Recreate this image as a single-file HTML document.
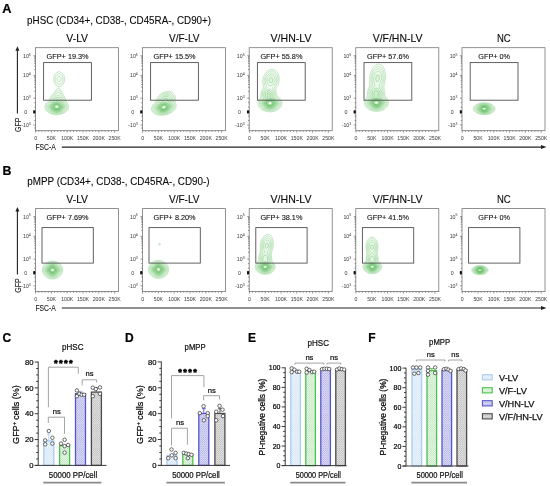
<!DOCTYPE html>
<html><head><meta charset="utf-8"><style>
html,body{margin:0;padding:0;background:#fff;}
svg{display:block;font-family:'Liberation Sans', Arial, sans-serif;}
</style></head><body>
<svg width="550" height="486" viewBox="0 0 550 486">
<rect width="550" height="486" fill="#fff"/>
<defs>
<pattern id="p0" patternUnits="userSpaceOnUse" width="2" height="2.2"><rect width="2" height="2.2" fill="#edf4fb"/><circle cx="0.5" cy="0.55" r="0.42" fill="#b9d6f0"/><circle cx="1.5" cy="1.65" r="0.42" fill="#b9d6f0"/></pattern>
<pattern id="p1" patternUnits="userSpaceOnUse" width="2" height="2.2"><rect width="2" height="2.2" fill="#e8f6e8"/><circle cx="0.5" cy="0.55" r="0.42" fill="#97d897"/><circle cx="1.5" cy="1.65" r="0.42" fill="#97d897"/></pattern>
<pattern id="p2" patternUnits="userSpaceOnUse" width="2" height="2.2"><rect width="2" height="2.2" fill="#dcdcf4"/><circle cx="0.5" cy="0.55" r="0.42" fill="#8c8cdc"/><circle cx="1.5" cy="1.65" r="0.42" fill="#8c8cdc"/></pattern>
<pattern id="p3" patternUnits="userSpaceOnUse" width="2" height="2.2"><rect width="2" height="2.2" fill="#e2e2e2"/><circle cx="0.5" cy="0.55" r="0.42" fill="#9c9c9c"/><circle cx="1.5" cy="1.65" r="0.42" fill="#9c9c9c"/></pattern>
</defs>
<path d="M58.0,72.0 58.4,71.8 58.9,71.8 59.4,71.8 59.9,71.9 60.2,72.0 60.6,72.1 60.9,72.2 61.4,72.5 61.7,72.6 61.9,72.8 62.1,73.0 62.4,73.3 62.6,73.6 62.9,73.9 63.1,74.2 63.3,74.5 63.4,74.7 63.7,75.1 63.8,75.5 63.9,75.7 64.1,76.2 64.2,76.5 64.3,77.0 64.4,77.5 64.4,77.7 64.5,78.2 64.5,78.7 64.5,79.2 64.5,79.7 64.5,80.2 64.4,80.7 64.4,81.0 64.3,81.5 64.2,81.8 64.0,82.2 63.9,82.5 63.7,83.0 63.6,83.2 63.4,83.6 63.2,84.0 63.0,84.2 62.8,84.5 62.6,84.7 62.4,85.0 62.1,85.2 61.8,85.5 61.5,85.7 61.1,85.9 60.9,86.1 60.6,86.2 60.2,86.5 59.9,86.6 59.6,86.7 59.1,86.8 58.6,86.8 58.2,86.7 57.9,86.6 57.6,86.4 57.3,86.2 56.9,86.0 56.6,85.7 56.4,85.5 56.1,85.3 55.9,85.0 55.6,84.8 55.4,84.5 55.2,84.2 55.0,84.0 54.9,83.7 54.6,83.3 54.5,83.0 54.4,82.7 54.2,82.2 54.1,82.0 53.9,81.5 53.9,81.2 53.8,80.7 53.7,80.2 53.7,79.7 53.7,79.2 53.7,78.7 53.7,78.2 53.8,77.7 53.8,77.2 53.9,76.9 54.0,76.5 54.1,76.1 54.3,75.7 54.4,75.4 54.6,75.0 54.8,74.7 54.9,74.5 55.1,74.1 55.4,73.7 55.6,73.5 55.9,73.2 56.1,73.0 56.4,72.7 56.6,72.6 56.9,72.4 57.3,72.2 57.6,72.0 58.0,72.0ZM58.4,88.2 58.6,88.2 58.9,88.2 59.3,88.5 59.6,88.7 59.9,89.0 60.1,89.2 60.3,89.5 60.5,89.7 60.7,90.0 60.9,90.4 61.1,90.7 61.2,91.0 61.4,91.3 61.6,91.7 61.7,92.0 61.9,92.4 62.0,92.7 62.1,93.0 62.4,93.4 62.6,93.7 62.7,94.0 62.9,94.2 63.2,94.5 63.4,94.9 63.6,95.2 63.8,95.5 64.0,95.7 64.2,96.0 64.4,96.3 64.6,96.7 64.7,97.0 64.9,97.3 65.1,97.7 65.2,98.0 65.4,98.5 65.5,98.7 65.6,99.2 65.7,99.5 65.8,100.0 65.9,100.2 66.1,100.7 66.2,101.0 66.4,101.5 66.5,101.7 66.7,102.0 66.9,102.5 67.0,102.7 67.2,103.0 67.4,103.3 67.6,103.7 67.7,104.0 67.9,104.3 68.1,104.7 68.2,105.0 68.3,105.4 68.4,105.8 68.5,106.2 68.5,106.7 68.5,107.2 68.5,107.7 68.4,108.1 68.3,108.5 68.2,108.9 68.0,109.2 67.9,109.4 67.7,109.9 67.4,110.2 67.3,110.5 67.0,110.7 66.8,111.0 66.6,111.2 66.3,111.4 66.0,111.7 65.7,111.9 65.4,112.2 65.2,112.4 64.9,112.5 64.6,112.7 64.2,113.0 63.9,113.1 63.6,113.2 63.2,113.4 62.9,113.5 62.5,113.7 62.1,113.8 61.7,114.0 61.4,114.1 60.9,114.2 60.6,114.2 60.1,114.4 59.6,114.4 59.4,114.5 58.9,114.6 58.4,114.6 57.9,114.6 57.4,114.7 56.9,114.7 56.4,114.7 55.9,114.7 55.4,114.6 54.9,114.6 54.4,114.5 53.9,114.5 53.7,114.4 53.2,114.3 52.6,114.2 52.4,114.2 51.9,114.0 51.6,113.9 51.2,113.8 50.9,113.7 50.4,113.5 50.2,113.4 49.7,113.2 49.4,113.0 49.1,112.9 48.8,112.7 48.4,112.5 48.1,112.3 47.9,112.1 47.6,111.9 47.4,111.7 47.1,111.5 46.8,111.2 46.6,111.0 46.4,110.7 46.1,110.4 45.9,110.1 45.7,109.7 45.5,109.5 45.4,109.2 45.2,108.7 45.1,108.5 45.0,108.0 44.9,107.5 44.9,107.0 44.9,106.4 45.0,106.0 45.1,105.5 45.2,105.2 45.4,104.8 45.6,104.4 45.7,104.2 45.9,103.9 46.1,103.5 46.4,103.2 46.6,103.0 46.8,102.7 47.0,102.5 47.3,102.2 47.5,102.0 47.8,101.7 48.0,101.5 48.3,101.2 48.5,101.0 48.7,100.7 48.9,100.4 49.1,100.1 49.4,99.7 49.5,99.5 49.6,99.2 49.9,98.7 50.0,98.5 50.1,98.0 50.3,97.7 50.4,97.5 50.7,97.0 50.8,96.7 50.9,96.5 51.2,96.1 51.4,95.8 51.6,95.5 51.8,95.2 52.0,95.0 52.3,94.7 52.5,94.5 52.8,94.2 53.1,94.0 53.3,93.7 53.6,93.5 53.9,93.2 54.1,93.0 54.3,92.7 54.5,92.5 54.7,92.2 54.9,91.9 55.1,91.5 55.3,91.2 55.5,91.0 55.6,90.7 55.9,90.3 56.1,90.0 56.3,89.7 56.5,89.5 56.8,89.2 57.0,89.0 57.3,88.7 57.6,88.5 57.9,88.3 58.4,88.2Z" fill="#5ec35e" fill-opacity="0.03" stroke="#6cc46c" stroke-opacity="0.85" stroke-width="0.5"/>
<path d="M58.3,74.0 58.7,73.9 59.1,73.8 59.7,73.9 59.9,74.0 60.4,74.1 60.6,74.3 60.9,74.5 61.2,74.7 61.5,75.0 61.7,75.2 61.9,75.5 62.2,75.8 62.4,76.2 62.5,76.5 62.7,76.9 62.8,77.2 62.9,77.7 62.9,78.0 63.0,78.5 63.0,79.0 63.0,79.5 63.0,80.0 62.9,80.4 62.8,80.7 62.7,81.2 62.6,81.5 62.4,81.9 62.3,82.2 62.1,82.5 61.9,82.8 61.7,83.1 61.4,83.4 61.1,83.6 60.9,83.8 60.6,84.0 60.1,84.2 59.9,84.3 59.4,84.4 58.9,84.4 58.4,84.3 58.1,84.2 57.6,84.0 57.4,83.9 57.2,83.7 56.9,83.5 56.6,83.2 56.4,82.9 56.1,82.6 55.9,82.2 55.8,82.0 55.7,81.6 55.5,81.2 55.4,80.8 55.3,80.5 55.2,80.0 55.2,79.4 55.2,79.0 55.2,78.5 55.3,78.0 55.4,77.5 55.4,77.2 55.6,76.7 55.7,76.5 55.9,76.1 56.1,75.7 56.3,75.5 56.5,75.2 56.7,75.0 57.0,74.7 57.3,74.5 57.6,74.2 57.9,74.1 58.3,74.0ZM57.7,90.5 58.1,90.3 58.6,90.3 59.1,90.5 59.4,90.6 59.6,90.9 59.9,91.1 60.1,91.5 60.3,91.7 60.4,92.0 60.6,92.4 60.8,92.7 60.9,93.0 61.1,93.4 61.3,93.7 61.4,94.0 61.6,94.4 61.8,94.7 62.0,95.0 62.2,95.2 62.4,95.5 62.6,95.9 62.9,96.2 63.1,96.4 63.2,96.7 63.4,97.0 63.6,97.4 63.8,97.7 63.9,98.0 64.1,98.5 64.2,98.7 64.4,99.2 64.5,99.5 64.6,100.0 64.7,100.2 64.9,100.7 65.0,101.0 65.2,101.4 65.3,101.7 65.4,102.0 65.7,102.4 65.8,102.7 65.9,103.0 66.2,103.3 66.4,103.7 66.5,104.0 66.7,104.3 66.8,104.7 66.9,105.0 67.1,105.4 67.2,105.7 67.3,106.2 67.3,106.7 67.3,107.2 67.3,107.7 67.1,108.2 67.1,108.5 66.9,108.9 66.8,109.2 66.6,109.5 66.4,109.8 66.2,110.1 65.9,110.4 65.7,110.7 65.4,110.9 65.2,111.2 64.9,111.4 64.7,111.6 64.4,111.7 64.1,112.0 63.7,112.2 63.4,112.3 63.1,112.5 62.7,112.7 62.4,112.8 62.1,112.9 61.6,113.1 61.3,113.2 60.9,113.3 60.5,113.5 60.1,113.5 59.6,113.6 59.2,113.7 58.9,113.7 58.4,113.8 57.9,113.9 57.4,113.9 56.9,113.9 56.4,113.9 55.9,113.9 55.4,113.8 54.9,113.8 54.4,113.7 54.1,113.7 53.6,113.6 53.1,113.5 52.9,113.4 52.4,113.3 52.1,113.2 51.6,113.1 51.4,113.0 50.9,112.8 50.6,112.7 50.2,112.5 49.9,112.3 49.6,112.1 49.3,112.0 49.0,111.7 48.6,111.5 48.4,111.3 48.1,111.1 47.9,110.8 47.6,110.6 47.4,110.3 47.1,110.0 47.0,109.7 46.8,109.4 46.6,109.2 46.4,108.7 46.3,108.5 46.2,108.0 46.1,107.6 46.1,107.2 46.1,106.7 46.1,106.4 46.2,106.0 46.4,105.5 46.5,105.2 46.6,104.8 46.8,104.5 47.0,104.2 47.2,104.0 47.4,103.6 47.6,103.3 47.9,103.0 48.1,102.8 48.4,102.5 48.6,102.2 48.9,102.0 49.1,101.7 49.4,101.5 49.6,101.2 49.8,101.0 50.0,100.7 50.2,100.5 50.4,100.1 50.6,99.7 50.8,99.5 50.9,99.2 51.1,98.7 51.2,98.5 51.4,98.1 51.6,97.7 51.7,97.5 51.9,97.2 52.1,96.8 52.4,96.5 52.6,96.2 52.8,96.0 53.0,95.7 53.2,95.5 53.5,95.2 53.8,95.0 54.0,94.7 54.3,94.5 54.6,94.2 54.8,94.0 55.0,93.7 55.3,93.5 55.4,93.2 55.6,92.9 55.9,92.5 56.1,92.2 56.2,92.0 56.4,91.7 56.6,91.4 56.9,91.1 57.1,90.8 57.4,90.6 57.7,90.5Z" fill="#5ec35e" fill-opacity="0.02" stroke="#7ccb7c" stroke-opacity="0.85" stroke-width="0.5"/>
<path d="M58.8,76.5 59.1,76.4 59.4,76.5 59.9,76.6 60.1,76.8 60.4,77.1 60.6,77.4 60.8,77.7 60.9,78.0 61.0,78.5 61.1,79.0 61.1,79.5 61.0,80.0 60.9,80.2 60.7,80.7 60.5,81.0 60.3,81.2 60.1,81.5 59.6,81.7 59.4,81.7 58.9,81.8 58.6,81.7 58.2,81.5 57.9,81.2 57.7,81.0 57.5,80.7 57.4,80.4 57.2,80.0 57.1,79.6 57.1,79.2 57.1,78.7 57.2,78.5 57.3,78.0 57.4,77.7 57.6,77.3 57.9,77.0 58.1,76.7 58.4,76.6 58.8,76.5ZM57.9,92.5 58.1,92.3 58.7,92.4 58.9,92.5 59.2,92.7 59.4,93.0 59.6,93.3 59.9,93.7 60.0,94.0 60.2,94.2 60.4,94.6 60.6,94.9 60.8,95.2 60.9,95.5 61.1,95.7 61.4,96.1 61.7,96.4 61.9,96.7 62.1,96.9 62.2,97.2 62.4,97.5 62.6,97.9 62.8,98.2 62.9,98.5 63.1,98.9 63.3,99.2 63.4,99.6 63.5,99.9 63.6,100.3 63.8,100.7 63.9,101.0 64.1,101.4 64.2,101.7 64.4,102.1 64.6,102.4 64.7,102.7 64.9,103.0 65.1,103.5 65.3,103.7 65.4,104.0 65.7,104.4 65.8,104.7 65.9,105.0 66.1,105.5 66.2,105.8 66.2,106.2 66.3,106.7 66.3,107.2 66.2,107.7 66.1,108.0 66.0,108.4 65.9,108.7 65.7,109.1 65.5,109.4 65.3,109.7 65.1,110.0 64.9,110.2 64.6,110.5 64.4,110.7 64.1,111.0 63.7,111.2 63.4,111.4 63.2,111.6 62.9,111.7 62.4,112.0 62.1,112.1 61.9,112.2 61.4,112.4 61.1,112.5 60.7,112.6 60.4,112.7 59.9,112.8 59.4,112.9 59.1,113.0 58.6,113.1 58.1,113.1 57.6,113.2 57.1,113.2 56.6,113.2 56.1,113.2 55.6,113.2 55.1,113.1 54.6,113.1 54.1,113.0 53.9,112.9 53.4,112.8 53.0,112.7 52.7,112.6 52.2,112.5 51.9,112.3 51.5,112.2 51.2,112.0 50.9,111.9 50.5,111.7 50.2,111.5 49.9,111.3 49.7,111.2 49.4,111.0 49.1,110.7 48.8,110.5 48.6,110.2 48.3,110.0 48.1,109.7 47.9,109.4 47.7,109.0 47.5,108.7 47.4,108.3 47.3,108.0 47.2,107.5 47.2,107.0 47.2,106.4 47.3,106.0 47.4,105.6 47.6,105.2 47.7,105.0 47.9,104.6 48.1,104.2 48.3,103.9 48.5,103.7 48.7,103.4 49.0,103.2 49.2,103.0 49.5,102.7 49.7,102.4 50.0,102.2 50.2,102.0 50.4,101.7 50.7,101.5 50.9,101.1 51.1,100.8 51.4,100.5 51.5,100.2 51.7,100.0 51.9,99.5 52.0,99.2 52.2,99.0 52.4,98.5 52.6,98.2 52.7,98.0 52.9,97.6 53.1,97.3 53.4,97.0 53.6,96.7 53.9,96.5 54.1,96.2 54.4,96.0 54.6,95.7 54.9,95.5 55.2,95.3 55.4,95.0 55.6,94.8 55.9,94.6 56.1,94.3 56.4,94.0 56.6,93.7 56.8,93.4 57.0,93.2 57.3,92.9 57.5,92.7 57.9,92.5Z" fill="#5ec35e" fill-opacity="0.02" stroke="#7ccb7c" stroke-opacity="0.85" stroke-width="0.5"/>
<path d="M57.5,95.5 57.9,95.3 58.4,95.3 58.7,95.4 59.1,95.7 59.4,95.9 59.7,96.1 59.9,96.3 60.2,96.6 60.4,96.9 60.6,97.1 60.9,97.4 61.1,97.7 61.3,98.0 61.5,98.2 61.6,98.5 61.9,99.0 62.0,99.2 62.1,99.5 62.3,100.0 62.4,100.2 62.6,100.7 62.7,101.0 62.9,101.3 63.1,101.7 63.2,101.9 63.4,102.3 63.6,102.7 63.7,102.9 63.9,103.2 64.2,103.6 64.3,103.9 64.5,104.2 64.7,104.6 64.8,104.9 64.9,105.2 65.1,105.7 65.2,106.0 65.2,106.4 65.2,106.9 65.2,107.5 65.1,107.7 65.0,108.2 64.9,108.5 64.7,108.9 64.5,109.2 64.3,109.5 64.1,109.7 63.9,110.0 63.6,110.2 63.3,110.5 63.0,110.7 62.6,110.9 62.4,111.1 62.1,111.2 61.7,111.5 61.4,111.6 61.1,111.7 60.6,111.9 60.4,112.0 59.9,112.1 59.5,112.2 59.1,112.3 58.7,112.4 58.1,112.4 57.9,112.5 57.4,112.5 56.9,112.5 56.4,112.5 55.9,112.5 55.5,112.5 55.1,112.4 54.7,112.3 54.1,112.2 53.9,112.2 53.4,112.1 53.0,112.0 52.6,111.8 52.3,111.7 51.9,111.5 51.6,111.4 51.2,111.2 50.9,111.0 50.7,110.8 50.4,110.7 50.1,110.5 49.8,110.2 49.6,109.9 49.3,109.7 49.1,109.5 48.9,109.1 48.7,108.7 48.5,108.5 48.4,108.0 48.3,107.7 48.2,107.2 48.2,106.7 48.3,106.2 48.4,105.9 48.6,105.5 48.7,105.2 48.9,104.8 49.1,104.5 49.3,104.2 49.5,104.0 49.7,103.7 49.9,103.5 50.2,103.2 50.4,103.0 50.7,102.7 51.0,102.5 51.2,102.2 51.4,102.0 51.7,101.7 51.9,101.4 52.1,101.1 52.4,100.8 52.6,100.5 52.8,100.2 52.9,100.0 53.2,99.5 53.3,99.2 53.5,99.0 53.6,98.6 53.9,98.3 54.1,98.0 54.4,97.7 54.6,97.5 54.8,97.2 55.1,97.0 55.4,96.7 55.6,96.5 55.9,96.4 56.1,96.2 56.5,96.0 56.9,95.7 57.1,95.6 57.5,95.5Z" fill="#5ec35e" fill-opacity="0.04" stroke="#6cc46c" stroke-opacity="0.85" stroke-width="0.5"/>
<path d="M56.8,97.7 57.1,97.6 57.6,97.5 58.1,97.5 58.7,97.6 58.9,97.7 59.3,98.0 59.6,98.2 59.9,98.5 60.1,98.7 60.3,99.0 60.5,99.2 60.7,99.5 60.9,99.9 61.1,100.2 61.2,100.5 61.4,100.8 61.6,101.2 61.7,101.5 61.9,101.8 62.1,102.2 62.3,102.5 62.4,102.7 62.6,103.0 62.9,103.4 63.1,103.7 63.2,104.0 63.4,104.3 63.6,104.7 63.8,105.0 63.9,105.3 64.0,105.7 64.1,106.2 64.2,106.5 64.2,106.9 64.2,107.4 64.1,107.7 63.9,108.2 63.8,108.5 63.6,108.7 63.4,109.1 63.1,109.4 62.9,109.7 62.6,109.9 62.4,110.1 62.2,110.3 61.9,110.5 61.5,110.7 61.1,110.9 60.9,111.0 60.4,111.2 60.1,111.3 59.6,111.4 59.4,111.5 58.9,111.6 58.4,111.7 58.1,111.7 57.6,111.8 57.1,111.8 56.6,111.8 56.1,111.8 55.6,111.8 55.1,111.7 54.9,111.7 54.4,111.6 53.9,111.5 53.7,111.4 53.1,111.2 52.9,111.1 52.5,110.9 52.2,110.8 51.9,110.7 51.6,110.5 51.2,110.2 50.9,110.0 50.6,109.8 50.4,109.5 50.1,109.2 49.9,109.0 49.8,108.7 49.6,108.4 49.5,108.0 49.4,107.7 49.3,107.2 49.3,106.7 49.4,106.2 49.5,105.9 49.6,105.5 49.8,105.2 49.9,105.0 50.1,104.6 50.4,104.3 50.6,104.0 50.9,103.7 51.1,103.5 51.4,103.2 51.6,103.0 51.9,102.8 52.1,102.5 52.4,102.3 52.6,102.1 52.9,101.8 53.1,101.5 53.4,101.2 53.6,101.0 53.8,100.7 54.0,100.5 54.2,100.2 54.4,99.8 54.6,99.5 54.9,99.2 55.1,99.0 55.3,98.7 55.6,98.4 55.9,98.2 56.2,98.0 56.4,97.9 56.8,97.7Z" fill="#5ec35e" fill-opacity="0.07" stroke="#55b955" stroke-opacity="0.85" stroke-width="0.5"/>
<path d="M57.2,99.7 57.7,99.6 58.1,99.7 58.4,99.8 58.7,100.0 59.1,100.2 59.4,100.5 59.6,100.7 59.8,100.9 60.0,101.2 60.2,101.5 60.4,101.7 60.6,102.0 60.9,102.4 61.1,102.7 61.3,103.0 61.5,103.2 61.7,103.5 61.9,103.7 62.1,104.1 62.4,104.5 62.5,104.7 62.7,105.0 62.9,105.5 63.0,105.7 63.1,106.2 63.1,106.6 63.1,106.9 63.1,107.2 63.0,107.7 62.9,108.0 62.7,108.5 62.5,108.7 62.3,109.0 62.1,109.2 61.8,109.5 61.5,109.7 61.1,109.9 60.9,110.1 60.6,110.2 60.2,110.5 59.9,110.6 59.5,110.7 59.1,110.8 58.6,110.9 58.4,111.0 57.9,111.0 57.4,111.1 56.9,111.1 56.4,111.1 55.9,111.1 55.4,111.0 54.9,111.0 54.6,110.9 54.1,110.8 53.9,110.7 53.4,110.5 53.2,110.4 52.7,110.2 52.4,110.0 52.2,109.8 51.9,109.7 51.6,109.5 51.4,109.2 51.1,109.0 50.9,108.6 50.7,108.2 50.5,108.0 50.4,107.5 50.4,107.2 50.4,106.7 50.4,106.5 50.5,106.0 50.6,105.7 50.9,105.2 51.1,105.0 51.2,104.7 51.5,104.5 51.7,104.2 51.9,104.0 52.2,103.7 52.5,103.4 52.8,103.2 53.1,102.9 53.4,102.7 53.6,102.5 53.9,102.3 54.1,102.0 54.4,101.8 54.6,101.6 54.9,101.4 55.2,101.1 55.4,100.9 55.6,100.7 55.9,100.4 56.2,100.2 56.6,100.0 56.9,99.8 57.2,99.7Z" fill="#5ec35e" fill-opacity="0.12" stroke="#45b045" stroke-opacity="0.85" stroke-width="0.5"/>
<path d="M56.7,102.0 57.2,101.8 57.6,101.8 58.1,101.9 58.4,102.0 58.8,102.2 59.1,102.4 59.4,102.6 59.6,102.8 59.9,103.0 60.1,103.2 60.4,103.5 60.6,103.7 60.9,104.0 61.2,104.3 61.4,104.7 61.6,105.0 61.7,105.2 61.9,105.6 62.0,106.0 62.1,106.5 62.1,107.0 62.0,107.5 61.9,107.8 61.7,108.2 61.5,108.5 61.3,108.7 61.1,109.0 60.8,109.2 60.4,109.5 60.1,109.6 59.9,109.7 59.4,109.9 59.1,110.0 58.6,110.2 58.4,110.2 57.9,110.3 57.4,110.4 56.9,110.4 56.4,110.4 55.9,110.4 55.4,110.3 54.9,110.2 54.6,110.1 54.1,110.0 53.9,109.9 53.5,109.7 53.1,109.5 52.9,109.3 52.6,109.2 52.4,108.9 52.1,108.7 51.9,108.4 51.7,108.0 51.6,107.7 51.4,107.2 51.4,106.7 51.5,106.2 51.6,105.9 51.9,105.5 52.0,105.2 52.2,105.0 52.4,104.7 52.7,104.5 53.0,104.2 53.3,104.0 53.6,103.7 53.9,103.5 54.1,103.3 54.4,103.1 54.7,103.0 55.1,102.7 55.4,102.5 55.7,102.4 56.0,102.2 56.4,102.0 56.7,102.0Z" fill="#5ec35e" fill-opacity="0.18" stroke="#3fae3f" stroke-opacity="0.85" stroke-width="0.5"/>
<path d="M56.1,103.5 56.4,103.4 56.9,103.3 57.4,103.3 57.9,103.3 58.3,103.5 58.6,103.6 58.9,103.7 59.3,104.0 59.6,104.2 59.9,104.5 60.1,104.7 60.4,105.0 60.5,105.2 60.7,105.5 60.9,105.9 61.0,106.2 61.0,106.7 61.0,107.2 60.9,107.5 60.7,108.0 60.5,108.2 60.2,108.5 60.0,108.7 59.6,108.9 59.4,109.1 59.1,109.2 58.7,109.4 58.4,109.5 57.9,109.6 57.4,109.6 56.9,109.7 56.4,109.7 55.9,109.6 55.4,109.5 55.1,109.4 54.6,109.3 54.4,109.2 53.9,109.0 53.6,108.8 53.4,108.6 53.1,108.3 52.9,108.0 52.7,107.7 52.6,107.5 52.5,107.0 52.6,106.5 52.7,106.2 52.9,105.7 53.1,105.5 53.3,105.2 53.5,105.0 53.8,104.7 54.1,104.5 54.4,104.2 54.6,104.1 54.9,103.9 55.4,103.7 55.6,103.6 56.1,103.5Z" fill="#5ec35e" fill-opacity="0.2" stroke="#3fae3f" stroke-opacity="0.85" stroke-width="0.5"/>
<path d="M56.0,104.5 56.4,104.3 56.9,104.3 57.4,104.3 57.9,104.4 58.1,104.5 58.6,104.7 58.9,104.9 59.2,105.1 59.4,105.3 59.6,105.6 59.8,106.0 59.9,106.2 60.0,106.7 59.9,107.2 59.8,107.5 59.6,107.7 59.4,108.0 59.2,108.2 58.8,108.5 58.4,108.7 58.1,108.8 57.6,108.9 57.2,109.0 56.9,109.0 56.4,109.0 56.1,108.9 55.6,108.8 55.2,108.7 54.9,108.6 54.6,108.4 54.3,108.2 54.0,108.0 53.9,107.7 53.6,107.2 53.6,107.0 53.7,106.5 53.7,106.2 53.9,105.9 54.1,105.6 54.4,105.3 54.6,105.1 54.9,104.9 55.3,104.7 55.6,104.6 56.0,104.5Z" fill="#5ec35e" fill-opacity="0.16" stroke="#3fae3f" stroke-opacity="0.85" stroke-width="0.5"/>
<path d="M56.4,105.7 56.9,105.6 57.3,105.7 57.6,105.8 57.9,106.0 58.1,106.2 58.3,106.7 58.2,107.2 57.9,107.5 57.6,107.6 57.4,107.7 56.9,107.8 56.4,107.8 56.1,107.7 55.6,107.5 55.4,107.2 55.3,106.9 55.4,106.5 55.6,106.2 55.8,105.9 56.2,105.8 56.4,105.7Z" fill="#fff" fill-opacity="0.9" stroke="none"/>
<rect x="35.4" y="47.7" width="83" height="83" fill="none" stroke="#777" stroke-width="0.8"/>
<rect x="43.6" y="62.6" width="47.8" height="37.6" fill="none" stroke="#505050" stroke-width="0.9"/>
<path d="M35.4,55.7h-2 M35.4,75.4h-2 M35.4,98.2h-2 M35.4,111.8h-2 M35.4,125h-2 M35.4,69.47h-1.2 M35.4,66h-1.2 M35.4,63.54h-1.2 M35.4,61.63h-1.2 M35.4,60.07h-1.2 M35.4,58.75h-1.2 M35.4,57.61h-1.2 M35.4,56.6h-1.2 M35.4,91.34h-1.2 M35.4,87.32h-1.2 M35.4,84.47h-1.2 M35.4,82.26h-1.2 M35.4,80.46h-1.2 M35.4,78.93h-1.2 M35.4,77.61h-1.2 M35.4,76.44h-1.2 M35.4,102.67h-1.2 M35.4,107.13h-1.2 M35.4,111.6h-1.2 M35.4,116.07h-1.2 M35.4,120.53h-1.2 M35.4,128h-1.2 M35.6,130.7v2 M51.4,130.7v2 M67.2,130.7v2 M83,130.7v2 M98.8,130.7v2 M114.6,130.7v2 M38.76,130.7v1.2 M41.92,130.7v1.2 M45.08,130.7v1.2 M48.24,130.7v1.2 M54.56,130.7v1.2 M57.72,130.7v1.2 M60.88,130.7v1.2 M64.04,130.7v1.2 M70.36,130.7v1.2 M73.52,130.7v1.2 M76.68,130.7v1.2 M79.84,130.7v1.2 M86.16,130.7v1.2 M89.32,130.7v1.2 M92.48,130.7v1.2 M95.64,130.7v1.2 M101.96,130.7v1.2 M105.12,130.7v1.2 M108.28,130.7v1.2 M111.44,130.7v1.2" stroke="#555" stroke-width="0.6" fill="none"/>
<rect x="33.2" y="110.2" width="2.1" height="3.3" rx="0.6" fill="#111"/>
<text x="30.8" y="57.6" font-size="5.2" text-anchor="end" fill="#444" stroke="#444" stroke-width="0.02">10<tspan font-size="3.5" dy="-2.1">5</tspan></text>
<text x="30.8" y="77.3" font-size="5.2" text-anchor="end" fill="#444" stroke="#444" stroke-width="0.02">10<tspan font-size="3.5" dy="-2.1">4</tspan></text>
<text x="30.8" y="100.1" font-size="5.2" text-anchor="end" fill="#444" stroke="#444" stroke-width="0.02">10<tspan font-size="3.5" dy="-2.1">3</tspan></text>
<text x="25.6" y="113.7" font-size="5.2" text-anchor="middle" fill="#444" stroke="#444" stroke-width="0.02">0</text>
<text x="30.8" y="126.9" font-size="5.2" text-anchor="end" fill="#444" stroke="#444" stroke-width="0.02">-10<tspan font-size="3.5" dy="-2.1">3</tspan></text>
<text x="35.6" y="139.7" font-size="5.2" text-anchor="middle" fill="#444" stroke="#444" stroke-width="0.02">0</text>
<text x="51.4" y="139.7" font-size="5.2" text-anchor="middle" fill="#444" stroke="#444" stroke-width="0.02">50K</text>
<text x="67.2" y="139.7" font-size="5.2" text-anchor="middle" fill="#444" stroke="#444" stroke-width="0.02">100K</text>
<text x="83" y="139.7" font-size="5.2" text-anchor="middle" fill="#444" stroke="#444" stroke-width="0.02">150K</text>
<text x="98.8" y="139.7" font-size="5.2" text-anchor="middle" fill="#444" stroke="#444" stroke-width="0.02">200K</text>
<text x="114.6" y="139.7" font-size="5.2" text-anchor="middle" fill="#444" stroke="#444" stroke-width="0.02">250K</text>
<text x="77.2" y="42.1" font-size="10.7" text-anchor="middle" fill="#0a0a0a" textLength="21.7" lengthAdjust="spacingAndGlyphs" stroke="#0a0a0a" stroke-width="0.12" >V-LV</text>
<text x="67.6" y="58.6" font-size="7.3" text-anchor="middle" fill="#111" stroke="#111" stroke-width="0.1" >GFP+ 19.3%</text>
<path d="M165.9,91.7 166.2,91.6 166.7,91.6 167.2,91.5 167.7,91.5 168.2,91.5 168.6,91.5 169.2,91.5 169.7,91.6 170.0,91.7 170.4,91.8 170.9,91.9 171.2,92.0 171.5,92.2 171.9,92.4 172.2,92.5 172.5,92.7 172.8,93.0 173.1,93.2 173.4,93.4 173.7,93.7 173.9,94.0 174.1,94.2 174.2,94.5 174.4,94.7 174.7,95.2 174.8,95.5 174.9,95.8 175.0,96.2 175.2,96.7 175.2,97.0 175.3,97.5 175.3,97.9 175.3,98.5 175.3,99.0 175.2,99.5 175.2,100.0 175.2,100.5 175.2,101.0 175.2,101.5 175.3,101.9 175.4,102.3 175.5,102.7 175.7,103.1 175.8,103.5 175.9,103.9 176.0,104.2 176.1,104.7 176.1,105.2 176.1,105.7 176.1,106.2 176.0,106.7 175.9,107.2 175.8,107.5 175.7,107.9 175.5,108.2 175.4,108.4 175.2,108.9 174.9,109.2 174.8,109.5 174.6,109.7 174.4,109.9 174.1,110.2 173.9,110.5 173.7,110.7 173.4,111.0 173.1,111.2 172.8,111.4 172.5,111.7 172.2,112.0 171.9,112.1 171.7,112.3 171.4,112.5 171.0,112.7 170.7,112.9 170.4,113.1 170.1,113.2 169.7,113.4 169.4,113.5 169.0,113.7 168.6,113.9 168.4,114.0 167.9,114.1 167.7,114.2 167.2,114.4 166.9,114.5 166.4,114.6 166.0,114.7 165.7,114.8 165.2,114.9 164.9,115.0 164.4,115.0 163.9,115.1 163.4,115.2 163.1,115.2 162.7,115.2 162.2,115.3 161.7,115.3 161.2,115.3 160.7,115.3 160.2,115.2 159.7,115.2 159.4,115.2 158.9,115.1 158.4,115.0 158.0,115.0 157.7,114.9 157.2,114.7 156.9,114.7 156.4,114.5 156.2,114.4 155.7,114.2 155.4,114.1 155.1,114.0 154.7,113.7 154.4,113.6 154.2,113.4 153.9,113.2 153.6,113.0 153.3,112.7 153.0,112.5 152.8,112.2 152.6,112.0 152.4,111.7 152.2,111.3 152.0,111.0 151.9,110.7 151.7,110.2 151.6,110.0 151.5,109.5 151.5,109.0 151.5,108.5 151.6,108.0 151.7,107.6 151.8,107.2 151.9,106.8 152.1,106.5 152.2,106.2 152.4,105.8 152.6,105.5 152.8,105.2 152.9,105.0 153.2,104.7 153.4,104.4 153.7,104.1 153.9,103.8 154.2,103.5 154.4,103.2 154.6,103.0 154.8,102.7 155.1,102.5 155.3,102.2 155.5,102.0 155.7,101.7 155.9,101.3 156.1,101.0 156.2,100.7 156.4,100.3 156.5,100.0 156.7,99.7 156.8,99.2 157.0,98.9 157.2,98.5 157.3,98.2 157.4,98.0 157.7,97.5 157.8,97.2 158.0,97.0 158.2,96.7 158.4,96.4 158.6,96.1 158.9,95.8 159.2,95.5 159.4,95.2 159.7,95.0 159.9,94.7 160.2,94.5 160.4,94.3 160.7,94.1 160.9,93.9 161.2,93.7 161.6,93.5 161.9,93.2 162.2,93.1 162.4,93.0 162.9,92.7 163.2,92.6 163.5,92.5 163.9,92.3 164.2,92.2 164.7,92.0 164.9,91.9 165.4,91.8 165.9,91.7Z" fill="#5ec35e" fill-opacity="0.03" stroke="#6cc46c" stroke-opacity="0.85" stroke-width="0.5"/>
<path d="M166.8,92.7 167.2,92.7 167.6,92.7 168.2,92.7 168.6,92.7 168.9,92.7 169.4,92.8 169.9,93.0 170.2,93.0 170.6,93.2 170.9,93.3 171.2,93.5 171.5,93.7 171.9,94.0 172.2,94.2 172.4,94.4 172.7,94.7 172.9,94.9 173.1,95.2 173.2,95.5 173.4,95.8 173.6,96.2 173.7,96.5 173.8,97.0 173.9,97.4 173.9,97.7 174.0,98.2 174.0,98.7 173.9,99.2 173.9,99.6 173.9,100.0 173.8,100.4 173.8,101.0 173.9,101.5 173.9,101.7 174.0,102.2 174.2,102.6 174.3,103.0 174.4,103.3 174.5,103.7 174.7,104.1 174.7,104.5 174.8,105.0 174.9,105.5 174.9,106.0 174.8,106.5 174.7,106.9 174.7,107.3 174.5,107.7 174.4,108.0 174.2,108.4 174.0,108.7 173.8,109.0 173.7,109.2 173.4,109.5 173.1,109.8 172.9,110.1 172.7,110.4 172.4,110.6 172.2,110.8 171.9,111.0 171.7,111.2 171.4,111.5 171.0,111.7 170.7,111.9 170.4,112.1 170.2,112.2 169.8,112.5 169.4,112.6 169.2,112.8 168.7,113.0 168.4,113.1 168.2,113.2 167.7,113.4 167.4,113.5 166.9,113.7 166.7,113.7 166.2,113.9 165.8,114.0 165.4,114.1 164.9,114.2 164.6,114.2 164.2,114.3 163.7,114.4 163.2,114.4 162.7,114.4 162.4,114.5 161.9,114.5 161.4,114.5 160.9,114.5 160.7,114.4 160.2,114.4 159.7,114.4 159.2,114.3 158.7,114.2 158.4,114.1 157.9,114.0 157.7,113.9 157.2,113.8 156.9,113.7 156.4,113.5 156.2,113.4 155.8,113.2 155.4,113.0 155.2,112.8 154.9,112.6 154.7,112.4 154.4,112.2 154.1,112.0 153.9,111.7 153.7,111.4 153.4,111.0 153.2,110.7 153.1,110.5 152.9,110.0 152.9,109.7 152.8,109.2 152.7,108.7 152.8,108.2 152.9,107.7 152.9,107.4 153.1,107.0 153.2,106.7 153.4,106.2 153.5,106.0 153.7,105.7 153.9,105.4 154.2,105.0 154.4,104.7 154.6,104.5 154.8,104.2 155.0,104.0 155.3,103.7 155.5,103.5 155.7,103.2 156.0,103.0 156.2,102.7 156.4,102.4 156.7,102.1 156.9,101.8 157.1,101.5 157.3,101.2 157.4,100.9 157.6,100.5 157.7,100.2 157.9,99.8 158.0,99.5 158.2,99.2 158.4,98.7 158.5,98.5 158.7,98.1 158.9,97.7 159.1,97.5 159.2,97.2 159.4,97.0 159.7,96.6 159.9,96.3 160.2,96.0 160.4,95.8 160.7,95.5 160.9,95.3 161.2,95.1 161.4,94.9 161.7,94.7 162.0,94.5 162.4,94.2 162.7,94.1 162.9,93.9 163.3,93.7 163.7,93.5 163.9,93.4 164.4,93.2 164.6,93.2 165.2,93.0 165.4,92.9 165.9,92.8 166.4,92.7 166.8,92.7Z" fill="#5ec35e" fill-opacity="0.02" stroke="#7ccb7c" stroke-opacity="0.85" stroke-width="0.5"/>
<path d="M165.7,94.0 166.2,93.9 166.7,93.8 167.1,93.8 167.7,93.8 168.2,93.8 168.7,93.9 169.1,94.0 169.4,94.0 169.8,94.2 170.2,94.3 170.4,94.5 170.7,94.7 171.1,95.0 171.4,95.2 171.6,95.5 171.8,95.7 172.0,96.0 172.2,96.2 172.4,96.7 172.5,97.0 172.6,97.5 172.7,97.7 172.7,98.2 172.7,98.7 172.7,99.2 172.7,99.7 172.7,100.1 172.6,100.4 172.6,101.0 172.6,101.5 172.7,101.7 172.8,102.2 172.9,102.5 173.0,103.0 173.1,103.2 173.3,103.7 173.4,103.9 173.6,104.5 173.7,104.7 173.7,105.2 173.8,105.7 173.8,106.2 173.7,106.7 173.7,107.0 173.5,107.5 173.4,107.7 173.2,108.2 173.1,108.4 172.9,108.7 172.7,109.1 172.4,109.4 172.2,109.7 171.9,109.9 171.7,110.2 171.4,110.4 171.2,110.6 170.9,110.8 170.7,111.0 170.4,111.2 170.0,111.5 169.6,111.7 169.4,111.8 169.1,112.0 168.7,112.2 168.4,112.3 168.1,112.5 167.7,112.6 167.4,112.7 166.9,112.9 166.7,113.0 166.2,113.1 165.9,113.2 165.4,113.3 164.9,113.4 164.7,113.5 164.2,113.6 163.6,113.6 163.2,113.7 162.9,113.7 162.4,113.7 161.9,113.8 161.4,113.8 160.9,113.7 160.6,113.7 160.2,113.7 159.7,113.6 159.1,113.5 158.9,113.4 158.4,113.3 158.0,113.2 157.7,113.1 157.4,113.0 156.9,112.7 156.7,112.6 156.3,112.5 156.0,112.2 155.7,112.0 155.4,111.8 155.2,111.5 154.9,111.3 154.7,111.0 154.5,110.7 154.3,110.5 154.2,110.1 154.0,109.7 153.9,109.2 153.9,109.0 153.8,108.5 153.9,108.0 153.9,107.7 154.1,107.2 154.2,107.0 154.4,106.5 154.5,106.2 154.7,105.9 154.9,105.5 155.1,105.2 155.3,105.0 155.5,104.7 155.8,104.5 156.0,104.2 156.2,103.9 156.5,103.7 156.7,103.5 156.9,103.2 157.2,103.0 157.4,102.7 157.7,102.4 157.9,102.1 158.2,101.8 158.3,101.5 158.5,101.2 158.7,100.9 158.8,100.5 158.9,100.2 159.2,99.7 159.3,99.5 159.4,99.1 159.6,98.7 159.7,98.5 159.9,98.1 160.2,97.7 160.4,97.5 160.5,97.2 160.7,97.0 161.0,96.7 161.2,96.5 161.5,96.2 161.7,96.0 162.0,95.7 162.4,95.5 162.7,95.3 162.9,95.1 163.2,94.9 163.6,94.7 163.9,94.6 164.2,94.4 164.7,94.2 164.9,94.2 165.4,94.0 165.7,94.0Z" fill="#5ec35e" fill-opacity="0.02" stroke="#7ccb7c" stroke-opacity="0.85" stroke-width="0.5"/>
<path d="M166.6,95.0 166.9,94.9 167.4,94.9 167.7,95.0 168.2,95.0 168.7,95.1 168.9,95.2 169.4,95.5 169.7,95.6 169.9,95.8 170.2,96.0 170.4,96.2 170.7,96.5 170.9,96.9 171.1,97.2 171.2,97.5 171.3,98.0 171.4,98.5 171.4,98.8 171.4,99.2 171.4,99.5 171.4,100.0 171.3,100.5 171.3,101.0 171.4,101.5 171.4,101.7 171.5,102.2 171.7,102.6 171.8,103.0 171.9,103.2 172.1,103.7 172.2,103.9 172.4,104.4 172.5,104.7 172.6,105.2 172.7,105.5 172.7,106.0 172.7,106.5 172.6,106.7 172.5,107.2 172.4,107.6 172.2,107.9 172.1,108.2 171.9,108.5 171.7,108.9 171.4,109.2 171.2,109.5 171.0,109.7 170.7,110.0 170.4,110.2 170.2,110.4 169.9,110.6 169.7,110.8 169.4,111.0 169.0,111.2 168.7,111.4 168.4,111.5 168.0,111.7 167.7,111.9 167.4,112.0 166.9,112.2 166.7,112.3 166.2,112.4 165.9,112.5 165.4,112.6 165.1,112.7 164.7,112.8 164.2,112.9 163.7,113.0 163.4,113.0 162.9,113.0 162.4,113.0 161.9,113.1 161.4,113.0 160.9,113.0 160.5,113.0 160.1,112.9 159.7,112.8 159.2,112.7 158.9,112.6 158.4,112.5 158.2,112.4 157.8,112.2 157.4,112.0 157.2,111.9 156.9,111.7 156.5,111.5 156.2,111.2 156.0,110.9 155.8,110.7 155.6,110.5 155.4,110.2 155.2,109.7 155.1,109.4 155.0,109.0 154.9,108.5 155.0,108.0 155.1,107.5 155.2,107.2 155.3,106.7 155.4,106.5 155.7,106.1 155.9,105.7 156.1,105.4 156.3,105.2 156.5,105.0 156.7,104.7 156.9,104.5 157.2,104.2 157.4,103.9 157.7,103.7 157.9,103.5 158.2,103.2 158.4,102.9 158.7,102.7 158.9,102.4 159.2,102.1 159.4,101.8 159.6,101.4 159.8,101.2 159.9,100.9 160.1,100.5 160.2,100.2 160.4,99.8 160.5,99.5 160.7,99.2 160.9,98.7 161.1,98.5 161.2,98.2 161.4,97.9 161.7,97.6 161.9,97.3 162.2,97.1 162.4,96.8 162.7,96.6 162.9,96.4 163.2,96.2 163.6,96.0 163.9,95.8 164.2,95.6 164.6,95.5 164.9,95.3 165.3,95.2 165.7,95.1 166.2,95.0 166.6,95.0Z" fill="#5ec35e" fill-opacity="0.04" stroke="#6cc46c" stroke-opacity="0.85" stroke-width="0.5"/>
<path d="M165.6,96.5 165.9,96.4 166.4,96.3 166.9,96.3 167.4,96.3 167.9,96.5 168.2,96.6 168.5,96.7 168.8,97.0 169.1,97.2 169.3,97.5 169.5,97.7 169.7,98.0 169.8,98.4 169.9,99.0 169.9,99.2 169.9,99.7 169.9,100.0 169.9,100.4 169.9,101.0 169.9,101.3 170.0,101.7 170.1,102.2 170.2,102.5 170.4,102.8 170.6,103.2 170.7,103.5 170.9,103.7 171.1,104.2 171.2,104.5 171.4,104.9 171.5,105.2 171.6,105.7 171.6,106.2 171.6,106.7 171.5,107.2 171.4,107.5 171.2,108.0 171.0,108.2 170.9,108.5 170.7,108.7 170.4,109.1 170.2,109.3 169.9,109.6 169.7,109.8 169.4,110.0 169.1,110.2 168.8,110.5 168.4,110.7 168.2,110.8 167.9,111.0 167.4,111.2 167.2,111.3 166.8,111.4 166.4,111.6 166.2,111.7 165.7,111.9 165.3,112.0 164.9,112.0 164.4,112.1 164.0,112.2 163.7,112.3 163.2,112.3 162.7,112.3 162.2,112.3 161.7,112.3 161.2,112.3 160.7,112.2 160.4,112.2 159.9,112.1 159.5,112.0 159.2,111.9 158.8,111.7 158.4,111.5 158.1,111.4 157.8,111.2 157.4,111.0 157.2,110.7 156.9,110.5 156.7,110.2 156.5,109.9 156.4,109.7 156.2,109.2 156.1,109.0 156.0,108.5 156.0,108.0 156.1,107.5 156.2,107.2 156.4,106.7 156.5,106.5 156.7,106.2 156.9,105.8 157.2,105.5 157.4,105.2 157.6,105.0 157.8,104.7 158.1,104.5 158.4,104.2 158.6,104.0 158.9,103.7 159.1,103.5 159.4,103.3 159.7,103.0 159.9,102.8 160.1,102.6 160.4,102.3 160.7,102.0 160.9,101.7 161.1,101.5 161.2,101.2 161.4,100.8 161.6,100.5 161.7,100.2 161.9,99.7 162.0,99.5 162.2,99.2 162.4,98.8 162.6,98.5 162.9,98.2 163.1,98.0 163.3,97.7 163.6,97.5 163.9,97.2 164.2,97.1 164.4,96.9 164.9,96.7 165.2,96.6 165.6,96.5Z" fill="#5ec35e" fill-opacity="0.07" stroke="#55b955" stroke-opacity="0.85" stroke-width="0.5"/>
<path d="M165.4,98.5 165.7,98.4 166.2,98.3 166.7,98.3 167.1,98.5 167.4,98.7 167.6,98.9 167.7,99.2 167.9,99.7 167.9,100.0 167.9,100.5 168.0,101.0 168.1,101.5 168.2,101.7 168.4,102.1 168.6,102.4 168.8,102.7 169.0,103.0 169.2,103.2 169.4,103.5 169.7,103.9 169.9,104.2 170.0,104.5 170.2,104.7 170.3,105.2 170.4,105.5 170.5,106.0 170.5,106.5 170.5,107.0 170.4,107.2 170.2,107.7 170.1,108.0 169.9,108.2 169.7,108.6 169.4,108.9 169.2,109.1 168.9,109.4 168.7,109.6 168.4,109.8 168.1,110.0 167.8,110.2 167.4,110.4 167.2,110.5 166.8,110.7 166.4,110.9 166.2,111.0 165.7,111.1 165.4,111.2 164.9,111.3 164.4,111.4 164.2,111.5 163.7,111.6 163.2,111.6 162.7,111.6 162.2,111.6 161.7,111.6 161.2,111.5 160.7,111.5 160.4,111.4 159.9,111.2 159.7,111.1 159.2,111.0 158.9,110.8 158.7,110.6 158.4,110.5 158.1,110.2 157.8,110.0 157.6,109.7 157.4,109.3 157.3,109.0 157.2,108.5 157.1,108.2 157.2,107.8 157.2,107.5 157.4,107.0 157.5,106.7 157.7,106.4 157.9,106.0 158.1,105.7 158.3,105.5 158.5,105.2 158.8,105.0 159.1,104.7 159.3,104.5 159.6,104.2 159.9,104.0 160.2,103.8 160.4,103.6 160.7,103.4 160.9,103.2 161.3,103.0 161.6,102.7 161.9,102.5 162.2,102.2 162.4,102.0 162.7,101.7 162.9,101.5 163.1,101.2 163.2,101.0 163.4,100.6 163.7,100.2 163.8,100.0 164.0,99.7 164.2,99.4 164.4,99.1 164.7,98.9 164.9,98.7 165.4,98.5Z" fill="#5ec35e" fill-opacity="0.12" stroke="#45b045" stroke-opacity="0.85" stroke-width="0.5"/>
<path d="M164.0,102.7 164.4,102.6 164.9,102.5 165.4,102.5 165.9,102.6 166.3,102.7 166.7,102.8 166.9,103.0 167.3,103.2 167.6,103.5 167.9,103.7 168.2,103.9 168.4,104.2 168.7,104.4 168.9,104.7 169.0,105.0 169.2,105.2 169.3,105.7 169.4,106.0 169.4,106.5 169.4,106.8 169.3,107.2 169.2,107.6 169.0,108.0 168.8,108.2 168.6,108.5 168.4,108.7 168.1,109.0 167.9,109.2 167.5,109.5 167.2,109.7 166.9,109.8 166.7,110.0 166.1,110.2 165.9,110.3 165.5,110.4 165.2,110.6 164.7,110.7 164.4,110.7 163.9,110.8 163.4,110.9 162.9,110.9 162.4,110.9 161.9,110.9 161.4,110.8 161.0,110.7 160.7,110.6 160.2,110.4 159.9,110.3 159.7,110.2 159.3,110.0 159.0,109.7 158.8,109.5 158.6,109.2 158.4,108.8 158.3,108.5 158.2,107.9 158.3,107.5 158.4,107.1 158.6,106.7 158.7,106.5 158.9,106.1 159.2,105.8 159.4,105.5 159.7,105.3 159.9,105.1 160.2,104.9 160.4,104.7 160.7,104.4 161.1,104.2 161.4,104.0 161.7,103.8 161.9,103.7 162.3,103.4 162.7,103.3 162.9,103.2 163.4,103.0 163.7,102.8 164.0,102.7Z" fill="#5ec35e" fill-opacity="0.18" stroke="#3fae3f" stroke-opacity="0.85" stroke-width="0.5"/>
<path d="M163.9,104.0 164.2,103.9 164.7,103.8 165.2,103.9 165.7,103.9 165.9,104.0 166.4,104.2 166.7,104.3 167.0,104.5 167.3,104.7 167.6,105.0 167.8,105.2 168.0,105.5 168.2,105.8 168.3,106.2 168.3,106.7 168.2,107.2 168.1,107.5 167.9,107.8 167.7,108.2 167.4,108.4 167.2,108.7 166.9,108.9 166.7,109.1 166.4,109.2 166.0,109.5 165.6,109.6 165.4,109.7 164.9,109.9 164.6,110.0 164.2,110.0 163.7,110.1 163.2,110.1 162.7,110.1 162.2,110.1 161.7,110.0 161.4,110.0 160.9,109.8 160.7,109.7 160.3,109.5 160.0,109.2 159.8,109.0 159.6,108.7 159.4,108.2 159.4,108.0 159.4,107.5 159.5,107.2 159.6,106.8 159.8,106.5 160.0,106.2 160.2,106.0 160.5,105.7 160.8,105.5 161.1,105.2 161.4,105.0 161.7,104.8 161.9,104.7 162.4,104.5 162.7,104.3 163.0,104.2 163.4,104.1 163.9,104.0Z" fill="#5ec35e" fill-opacity="0.2" stroke="#3fae3f" stroke-opacity="0.85" stroke-width="0.5"/>
<path d="M163.4,105.0 163.9,104.8 164.4,104.8 164.9,104.8 165.4,104.9 165.7,105.0 166.2,105.2 166.4,105.3 166.7,105.5 166.9,105.8 167.1,106.2 167.2,106.5 167.2,107.0 167.1,107.2 166.9,107.7 166.7,108.0 166.5,108.2 166.2,108.5 165.9,108.6 165.7,108.8 165.3,109.0 164.9,109.1 164.7,109.2 164.2,109.3 163.6,109.4 163.1,109.4 162.6,109.4 162.2,109.3 161.8,109.2 161.4,109.0 161.2,108.9 160.9,108.7 160.7,108.3 160.5,108.0 160.5,107.5 160.6,107.0 160.8,106.7 161.0,106.4 161.2,106.2 161.5,106.0 161.8,105.7 162.1,105.5 162.4,105.3 162.7,105.2 163.2,105.0 163.4,105.0Z" fill="#5ec35e" fill-opacity="0.16" stroke="#3fae3f" stroke-opacity="0.85" stroke-width="0.5"/>
<path d="M163.5,106.2 163.9,106.1 164.4,106.1 164.8,106.2 165.2,106.4 165.4,106.7 165.4,107.0 165.4,107.2 165.2,107.6 164.9,107.8 164.7,108.0 164.2,108.2 163.9,108.2 163.4,108.2 163.1,108.2 162.7,108.0 162.4,107.8 162.3,107.5 162.4,107.0 162.6,106.7 162.9,106.5 163.2,106.3 163.5,106.2Z" fill="#fff" fill-opacity="0.9" stroke="none"/>
<rect x="142.4" y="47.7" width="83" height="83" fill="none" stroke="#777" stroke-width="0.8"/>
<rect x="150.6" y="62.6" width="47.8" height="37.6" fill="none" stroke="#505050" stroke-width="0.9"/>
<path d="M142.4,55.7h-2 M142.4,75.4h-2 M142.4,98.2h-2 M142.4,111.8h-2 M142.4,125h-2 M142.4,69.47h-1.2 M142.4,66h-1.2 M142.4,63.54h-1.2 M142.4,61.63h-1.2 M142.4,60.07h-1.2 M142.4,58.75h-1.2 M142.4,57.61h-1.2 M142.4,56.6h-1.2 M142.4,91.34h-1.2 M142.4,87.32h-1.2 M142.4,84.47h-1.2 M142.4,82.26h-1.2 M142.4,80.46h-1.2 M142.4,78.93h-1.2 M142.4,77.61h-1.2 M142.4,76.44h-1.2 M142.4,102.67h-1.2 M142.4,107.13h-1.2 M142.4,111.6h-1.2 M142.4,116.07h-1.2 M142.4,120.53h-1.2 M142.4,128h-1.2 M142.6,130.7v2 M158.4,130.7v2 M174.2,130.7v2 M190,130.7v2 M205.8,130.7v2 M221.6,130.7v2 M145.76,130.7v1.2 M148.92,130.7v1.2 M152.08,130.7v1.2 M155.24,130.7v1.2 M161.56,130.7v1.2 M164.72,130.7v1.2 M167.88,130.7v1.2 M171.04,130.7v1.2 M177.36,130.7v1.2 M180.52,130.7v1.2 M183.68,130.7v1.2 M186.84,130.7v1.2 M193.16,130.7v1.2 M196.32,130.7v1.2 M199.48,130.7v1.2 M202.64,130.7v1.2 M208.96,130.7v1.2 M212.12,130.7v1.2 M215.28,130.7v1.2 M218.44,130.7v1.2" stroke="#555" stroke-width="0.6" fill="none"/>
<rect x="140.2" y="110.2" width="2.1" height="3.3" rx="0.6" fill="#111"/>
<text x="137.8" y="57.6" font-size="5.2" text-anchor="end" fill="#444" stroke="#444" stroke-width="0.02">10<tspan font-size="3.5" dy="-2.1">5</tspan></text>
<text x="137.8" y="77.3" font-size="5.2" text-anchor="end" fill="#444" stroke="#444" stroke-width="0.02">10<tspan font-size="3.5" dy="-2.1">4</tspan></text>
<text x="137.8" y="100.1" font-size="5.2" text-anchor="end" fill="#444" stroke="#444" stroke-width="0.02">10<tspan font-size="3.5" dy="-2.1">3</tspan></text>
<text x="132.6" y="113.7" font-size="5.2" text-anchor="middle" fill="#444" stroke="#444" stroke-width="0.02">0</text>
<text x="137.8" y="126.9" font-size="5.2" text-anchor="end" fill="#444" stroke="#444" stroke-width="0.02">-10<tspan font-size="3.5" dy="-2.1">3</tspan></text>
<text x="142.6" y="139.7" font-size="5.2" text-anchor="middle" fill="#444" stroke="#444" stroke-width="0.02">0</text>
<text x="158.4" y="139.7" font-size="5.2" text-anchor="middle" fill="#444" stroke="#444" stroke-width="0.02">50K</text>
<text x="174.2" y="139.7" font-size="5.2" text-anchor="middle" fill="#444" stroke="#444" stroke-width="0.02">100K</text>
<text x="190" y="139.7" font-size="5.2" text-anchor="middle" fill="#444" stroke="#444" stroke-width="0.02">150K</text>
<text x="205.8" y="139.7" font-size="5.2" text-anchor="middle" fill="#444" stroke="#444" stroke-width="0.02">200K</text>
<text x="221.6" y="139.7" font-size="5.2" text-anchor="middle" fill="#444" stroke="#444" stroke-width="0.02">250K</text>
<text x="184.2" y="42.1" font-size="10.7" text-anchor="middle" fill="#0a0a0a" textLength="30.5" lengthAdjust="spacingAndGlyphs" stroke="#0a0a0a" stroke-width="0.12" >V/F-LV</text>
<text x="174.6" y="58.6" font-size="7.3" text-anchor="middle" fill="#111" stroke="#111" stroke-width="0.1" >GFP+ 15.5%</text>
<path d="M271.2,69.5 271.7,69.4 272.2,69.4 272.7,69.4 272.9,69.5 273.4,69.6 273.9,69.7 274.2,69.8 274.5,70.0 274.9,70.2 275.2,70.3 275.4,70.5 275.8,70.7 276.1,71.0 276.3,71.2 276.6,71.5 276.8,71.7 277.0,72.0 277.2,72.2 277.4,72.5 277.7,72.9 277.9,73.2 278.0,73.5 278.2,73.9 278.3,74.2 278.4,74.5 278.6,75.0 278.7,75.2 278.8,75.7 278.9,76.2 279.0,76.4 279.1,77.0 279.1,77.5 279.2,78.0 279.2,78.5 279.2,78.7 279.2,79.2 279.2,79.5 279.2,80.0 279.1,80.5 279.1,81.0 279.0,81.5 278.9,81.7 278.8,82.2 278.7,82.6 278.6,82.9 278.5,83.5 278.4,83.7 278.2,84.2 278.1,84.5 277.9,84.8 277.8,85.2 277.6,85.5 277.4,85.8 277.2,86.2 277.1,86.5 276.9,86.7 276.7,87.1 276.5,87.5 276.3,87.7 276.2,88.0 276.0,88.5 275.9,88.7 275.8,89.2 275.8,89.7 275.8,90.2 275.9,90.7 275.9,91.1 276.0,91.5 276.1,92.0 276.2,92.3 276.3,92.7 276.4,93.2 276.4,93.6 276.5,94.0 276.6,94.5 276.7,94.7 276.9,95.2 277.0,95.5 277.2,95.7 277.4,96.0 277.7,96.3 277.9,96.6 278.2,96.8 278.4,97.0 278.7,97.2 278.9,97.5 279.2,97.7 279.5,98.0 279.7,98.2 279.9,98.5 280.2,98.8 280.4,99.1 280.7,99.4 280.9,99.7 281.0,100.0 281.2,100.3 281.4,100.7 281.5,101.0 281.6,101.5 281.7,101.7 281.8,102.2 281.9,102.7 281.9,103.2 281.9,103.7 281.8,104.2 281.7,104.7 281.6,105.0 281.5,105.5 281.4,105.7 281.2,106.1 281.0,106.5 280.9,106.7 280.7,107.0 280.4,107.3 280.2,107.6 279.9,107.9 279.7,108.2 279.4,108.4 279.2,108.7 278.9,108.9 278.7,109.1 278.4,109.3 278.2,109.5 277.8,109.7 277.4,109.9 277.2,110.1 276.9,110.2 276.5,110.4 276.2,110.6 275.9,110.7 275.4,110.9 275.2,111.0 274.7,111.1 274.4,111.2 273.9,111.3 273.5,111.5 273.2,111.5 272.7,111.6 272.2,111.7 271.9,111.7 271.4,111.8 270.9,111.8 270.4,111.8 269.9,111.8 269.4,111.8 268.9,111.8 268.4,111.8 268.0,111.7 267.7,111.7 267.2,111.6 266.7,111.5 266.4,111.4 265.9,111.3 265.6,111.2 265.2,111.1 264.8,110.9 264.4,110.8 264.1,110.7 263.7,110.5 263.4,110.4 263.1,110.2 262.7,110.0 262.4,109.9 262.2,109.7 261.8,109.5 261.5,109.2 261.2,109.0 260.9,108.8 260.7,108.6 260.4,108.3 260.2,108.1 259.9,107.8 259.7,107.5 259.5,107.2 259.3,107.0 259.1,106.7 258.9,106.4 258.7,106.0 258.6,105.7 258.4,105.3 258.3,105.0 258.2,104.5 258.2,104.2 258.1,103.7 258.1,103.2 258.1,102.7 258.2,102.2 258.2,102.0 258.3,101.5 258.4,101.1 258.6,100.7 258.7,100.5 258.9,100.0 259.1,99.7 259.2,99.4 259.4,99.1 259.7,98.7 259.9,98.5 260.0,98.2 260.2,97.9 260.4,97.5 260.6,97.2 260.7,96.9 260.8,96.5 260.9,96.0 260.9,95.5 261.0,95.2 261.0,94.7 261.0,94.2 261.1,93.7 261.1,93.2 261.2,92.7 261.3,92.5 261.4,91.9 261.5,91.7 261.6,91.2 261.7,91.0 261.9,90.5 262.1,90.2 262.2,89.9 262.4,89.5 262.6,89.2 262.7,89.0 262.9,88.5 263.1,88.2 263.2,88.0 263.3,87.5 263.4,87.0 263.4,86.5 263.4,86.0 263.3,85.4 263.2,85.1 263.1,84.7 263.0,84.2 263.0,83.7 262.9,83.5 262.9,83.0 262.8,82.5 262.8,81.9 262.8,81.4 262.8,80.9 262.8,80.5 262.9,80.0 262.9,79.5 263.0,79.2 263.1,78.7 263.2,78.2 263.2,78.0 263.4,77.5 263.5,77.2 263.6,76.7 263.7,76.5 263.9,76.0 264.0,75.7 264.2,75.3 264.4,75.0 264.5,74.7 264.7,74.4 264.9,74.0 265.1,73.7 265.3,73.5 265.5,73.2 265.7,72.9 265.9,72.6 266.2,72.3 266.4,72.0 266.7,71.8 266.9,71.5 267.2,71.3 267.4,71.1 267.7,70.9 268.0,70.7 268.4,70.5 268.7,70.3 268.9,70.2 269.4,70.0 269.7,69.8 270.1,69.7 270.4,69.6 270.9,69.5 271.2,69.5Z" fill="#5ec35e" fill-opacity="0.03" stroke="#6cc46c" stroke-opacity="0.85" stroke-width="0.5"/>
<path d="M271.4,71.2 271.7,71.2 272.2,71.2 272.4,71.2 273.0,71.3 273.4,71.4 273.7,71.5 274.1,71.7 274.4,71.9 274.7,72.1 274.9,72.2 275.2,72.5 275.5,72.7 275.7,73.0 276.0,73.2 276.2,73.5 276.4,73.9 276.6,74.2 276.8,74.5 276.9,74.8 277.1,75.2 277.2,75.5 277.4,76.0 277.5,76.2 277.6,76.7 277.7,77.2 277.7,77.5 277.8,78.0 277.8,78.5 277.9,79.0 277.9,79.5 277.8,80.0 277.8,80.5 277.7,81.0 277.7,81.2 277.6,81.7 277.4,82.2 277.4,82.5 277.2,83.0 277.1,83.2 276.9,83.7 276.8,84.0 276.7,84.3 276.5,84.7 276.3,85.0 276.2,85.2 275.9,85.6 275.7,86.0 275.6,86.2 275.4,86.5 275.2,86.7 274.9,87.1 274.7,87.5 274.6,87.7 274.4,88.0 274.3,88.5 274.2,88.8 274.2,89.1 274.2,89.5 274.3,90.0 274.5,90.3 274.6,90.7 274.7,91.1 274.8,91.4 274.9,91.9 275.0,92.2 275.2,92.7 275.2,93.0 275.3,93.5 275.4,94.0 275.4,94.4 275.5,94.7 275.6,95.2 275.7,95.5 275.9,95.9 276.1,96.2 276.3,96.5 276.6,96.7 276.8,97.0 277.1,97.2 277.4,97.5 277.7,97.7 277.9,97.9 278.2,98.2 278.4,98.4 278.7,98.7 278.9,98.9 279.2,99.2 279.4,99.5 279.5,99.7 279.7,100.0 279.9,100.4 280.1,100.7 280.2,101.0 280.4,101.5 280.5,101.7 280.6,102.2 280.7,102.7 280.7,103.2 280.7,103.7 280.6,104.2 280.5,104.7 280.4,105.0 280.2,105.5 280.1,105.7 279.9,106.0 279.7,106.5 279.5,106.7 279.4,107.0 279.2,107.2 278.9,107.5 278.7,107.7 278.4,108.0 278.2,108.2 277.9,108.5 277.5,108.7 277.2,108.9 276.9,109.1 276.7,109.2 276.3,109.5 275.9,109.6 275.7,109.8 275.3,110.0 275.0,110.1 274.6,110.2 274.2,110.3 273.8,110.5 273.4,110.5 272.9,110.7 272.7,110.7 272.2,110.8 271.7,110.9 271.2,110.9 270.7,110.9 270.2,111.0 269.9,111.0 269.7,110.9 269.2,110.9 268.7,110.9 268.2,110.8 267.7,110.8 267.3,110.7 266.9,110.6 266.4,110.5 266.2,110.4 265.7,110.3 265.4,110.2 264.9,110.0 264.7,109.9 264.2,109.7 263.9,109.6 263.7,109.5 263.2,109.2 262.9,109.0 262.7,108.9 262.4,108.7 262.1,108.5 261.8,108.2 261.5,107.9 261.3,107.7 261.1,107.5 260.8,107.2 260.6,107.0 260.4,106.7 260.2,106.3 260.0,106.0 259.9,105.7 259.7,105.3 259.6,105.0 259.4,104.5 259.4,104.2 259.3,103.7 259.3,103.2 259.3,102.7 259.4,102.2 259.4,101.9 259.6,101.5 259.7,101.1 259.9,100.7 260.0,100.5 260.2,100.0 260.4,99.7 260.5,99.5 260.7,99.2 260.9,98.8 261.2,98.5 261.4,98.2 261.5,98.0 261.7,97.6 261.8,97.2 261.9,96.8 262.0,96.5 262.1,96.0 262.1,95.5 262.1,95.0 262.1,94.5 262.1,94.0 262.2,93.4 262.2,93.2 262.3,92.7 262.4,92.2 262.5,92.0 262.7,91.5 262.8,91.2 262.9,90.9 263.2,90.5 263.4,90.2 263.5,90.0 263.7,89.7 263.9,89.3 264.2,89.0 264.4,88.7 264.5,88.5 264.7,88.2 264.9,87.7 265.0,87.5 265.1,87.0 265.0,86.4 265.0,86.0 264.9,85.7 264.8,85.2 264.7,85.0 264.6,84.5 264.4,84.0 264.4,83.7 264.3,83.2 264.2,82.7 264.2,82.5 264.2,82.0 264.1,81.5 264.1,81.0 264.2,80.5 264.2,80.2 264.3,79.7 264.3,79.2 264.4,78.7 264.5,78.5 264.6,78.0 264.7,77.7 264.9,77.2 265.0,77.0 265.2,76.5 265.3,76.2 265.4,75.8 265.7,75.5 265.8,75.2 266.0,75.0 266.2,74.6 266.4,74.2 266.7,74.0 266.9,73.7 267.1,73.5 267.4,73.2 267.6,73.0 267.9,72.7 268.2,72.5 268.4,72.3 268.7,72.1 269.0,72.0 269.4,71.7 269.7,71.6 270.2,71.5 270.4,71.4 270.9,71.3 271.4,71.2Z" fill="#5ec35e" fill-opacity="0.02" stroke="#7ccb7c" stroke-opacity="0.85" stroke-width="0.5"/>
<path d="M271.0,73.0 271.4,72.9 271.9,72.9 272.4,73.0 272.7,73.0 273.2,73.2 273.4,73.3 273.7,73.5 274.1,73.7 274.4,74.0 274.7,74.2 274.9,74.5 275.1,74.7 275.3,75.0 275.5,75.2 275.7,75.6 275.9,76.0 276.0,76.2 276.2,76.7 276.2,77.0 276.4,77.5 276.4,77.9 276.5,78.2 276.5,78.7 276.6,79.2 276.5,79.7 276.5,80.2 276.5,80.7 276.4,81.0 276.3,81.5 276.2,81.9 276.1,82.2 276.0,82.7 275.9,83.0 275.7,83.3 275.5,83.7 275.4,84.0 275.2,84.3 274.9,84.7 274.8,85.0 274.6,85.2 274.4,85.5 274.2,85.7 273.9,86.0 273.7,86.2 273.4,86.5 273.2,86.8 272.9,87.0 272.7,87.3 272.5,87.7 272.4,87.9 272.3,88.5 272.4,89.0 272.5,89.2 272.7,89.5 272.9,90.0 273.1,90.2 273.2,90.5 273.4,91.0 273.6,91.2 273.7,91.5 273.9,92.0 274.0,92.2 274.1,92.7 274.2,93.1 274.3,93.5 274.3,94.0 274.4,94.4 274.4,94.7 274.5,95.2 274.7,95.7 274.7,96.0 274.9,96.3 275.2,96.7 275.4,97.0 275.7,97.2 275.9,97.4 276.2,97.7 276.4,97.9 276.7,98.1 276.9,98.3 277.2,98.5 277.4,98.7 277.7,99.0 277.9,99.2 278.2,99.5 278.4,99.8 278.7,100.2 278.9,100.5 279.0,100.7 279.2,101.1 279.3,101.5 279.4,101.9 279.5,102.2 279.6,102.7 279.6,103.2 279.6,103.7 279.5,104.2 279.4,104.5 279.3,105.0 279.2,105.3 279.0,105.7 278.9,106.0 278.7,106.2 278.4,106.5 278.2,106.9 277.9,107.1 277.7,107.4 277.4,107.6 277.2,107.8 276.9,108.0 276.7,108.2 276.3,108.5 275.9,108.7 275.7,108.8 275.4,109.0 274.9,109.2 274.7,109.3 274.3,109.4 273.9,109.6 273.5,109.7 273.2,109.8 272.7,109.9 272.4,110.0 271.9,110.0 271.4,110.1 270.9,110.2 270.4,110.2 269.9,110.2 269.4,110.2 268.9,110.1 268.4,110.1 267.9,110.0 267.5,110.0 267.2,109.9 266.7,109.8 266.4,109.7 265.9,109.5 265.7,109.4 265.2,109.3 264.9,109.1 264.5,108.9 264.2,108.8 263.9,108.6 263.7,108.5 263.3,108.2 262.9,108.0 262.7,107.8 262.4,107.5 262.2,107.3 261.9,107.0 261.7,106.7 261.5,106.5 261.3,106.2 261.1,106.0 260.9,105.6 260.8,105.2 260.7,104.9 260.5,104.4 260.4,104.1 260.4,103.7 260.4,103.2 260.4,102.7 260.4,102.3 260.5,102.0 260.7,101.5 260.8,101.2 260.9,100.8 261.1,100.5 261.2,100.2 261.4,99.9 261.7,99.5 261.9,99.2 262.1,99.0 262.2,98.7 262.4,98.4 262.7,98.0 262.8,97.7 262.9,97.3 263.0,97.0 263.1,96.5 263.1,96.0 263.1,95.5 263.1,95.0 263.1,94.5 263.1,93.9 263.2,93.5 263.2,93.2 263.3,92.7 263.4,92.4 263.6,92.0 263.7,91.7 263.9,91.3 264.1,91.0 264.3,90.7 264.5,90.5 264.7,90.2 264.9,89.9 265.2,89.6 265.4,89.3 265.7,89.1 266.0,88.8 266.2,88.6 266.4,88.3 266.7,88.0 266.9,87.7 267.0,87.5 267.0,87.0 266.9,86.6 266.8,86.2 266.7,85.9 266.5,85.5 266.4,85.2 266.2,84.8 266.1,84.5 265.9,84.1 265.8,83.7 265.7,83.3 265.6,83.0 265.5,82.5 265.5,82.0 265.5,81.5 265.4,81.2 265.4,80.8 265.5,80.5 265.5,80.0 265.6,79.5 265.7,79.0 265.7,78.7 265.9,78.2 266.0,78.0 266.2,77.5 266.3,77.2 266.4,76.8 266.6,76.5 266.8,76.2 266.9,75.9 267.2,75.5 267.4,75.2 267.7,75.0 267.9,74.7 268.1,74.5 268.4,74.2 268.7,74.0 268.9,73.8 269.2,73.6 269.5,73.5 269.9,73.2 270.2,73.2 270.7,73.0 271.0,73.0Z" fill="#5ec35e" fill-opacity="0.02" stroke="#7ccb7c" stroke-opacity="0.85" stroke-width="0.5"/>
<path d="M270.7,75.0 271.2,74.9 271.7,74.9 272.2,74.9 272.4,75.0 272.9,75.2 273.2,75.4 273.4,75.6 273.7,75.8 273.9,76.1 274.2,76.4 274.4,76.7 274.5,77.0 274.7,77.4 274.8,77.7 274.9,78.2 275.0,78.5 275.0,79.0 275.1,79.5 275.1,80.0 275.0,80.5 274.9,80.8 274.9,81.2 274.7,81.7 274.6,82.0 274.4,82.4 274.3,82.7 274.2,83.0 273.9,83.4 273.7,83.7 273.5,84.0 273.3,84.2 273.1,84.5 272.8,84.7 272.5,85.0 272.2,85.1 271.9,85.3 271.6,85.5 271.2,85.6 270.8,85.7 270.4,85.7 270.0,85.7 269.7,85.6 269.2,85.4 268.9,85.3 268.7,85.1 268.4,84.9 268.2,84.6 267.9,84.3 267.7,84.0 267.6,83.7 267.4,83.4 267.3,83.0 267.2,82.7 267.1,82.2 267.0,81.7 266.9,81.3 266.9,80.9 266.9,80.5 267.0,80.2 267.0,79.7 267.1,79.2 267.2,78.9 267.4,78.5 267.4,78.2 267.7,77.7 267.8,77.5 267.9,77.2 268.2,76.8 268.4,76.5 268.7,76.2 268.9,76.0 269.2,75.7 269.4,75.5 269.7,75.4 270.0,75.2 270.4,75.0 270.7,75.0ZM268.6,89.2 268.9,89.2 269.4,89.2 269.7,89.2 270.2,89.4 270.4,89.5 270.7,89.7 271.1,90.0 271.3,90.2 271.6,90.5 271.8,90.7 272.0,91.0 272.2,91.2 272.4,91.6 272.7,92.0 272.8,92.2 272.9,92.6 273.0,93.0 273.2,93.5 273.2,93.7 273.3,94.2 273.3,94.7 273.4,95.2 273.4,95.7 273.5,96.0 273.7,96.5 273.8,96.7 274.0,97.0 274.2,97.2 274.5,97.5 274.8,97.7 275.1,98.0 275.4,98.2 275.7,98.4 275.9,98.6 276.2,98.8 276.4,99.0 276.7,99.3 276.9,99.5 277.2,99.8 277.4,100.1 277.7,100.4 277.9,100.7 278.0,101.0 278.2,101.4 278.3,101.7 278.4,102.1 278.5,102.5 278.6,103.0 278.6,103.5 278.5,104.0 278.4,104.3 278.3,104.7 278.2,105.0 278.0,105.5 277.9,105.7 277.7,106.0 277.4,106.3 277.2,106.6 276.9,106.8 276.7,107.1 276.4,107.3 276.2,107.5 275.9,107.7 275.5,108.0 275.2,108.1 274.9,108.3 274.6,108.5 274.2,108.6 273.9,108.7 273.4,108.9 273.2,109.0 272.7,109.1 272.3,109.2 271.9,109.3 271.4,109.3 270.9,109.4 270.5,109.4 269.9,109.4 269.4,109.4 268.9,109.4 268.4,109.3 267.9,109.2 267.7,109.2 267.2,109.1 266.7,109.0 266.4,108.9 266.0,108.7 265.7,108.6 265.4,108.5 264.9,108.2 264.7,108.1 264.4,107.9 264.1,107.7 263.7,107.5 263.4,107.2 263.2,107.0 262.9,106.7 262.7,106.5 262.5,106.2 262.3,106.0 262.1,105.7 261.9,105.3 261.8,104.9 261.7,104.7 261.5,104.2 261.4,103.7 261.4,103.5 261.4,103.0 261.4,102.7 261.5,102.2 261.7,101.7 261.7,101.5 261.9,101.0 262.1,100.7 262.2,100.5 262.4,100.1 262.7,99.7 262.9,99.5 263.1,99.2 263.3,99.0 263.5,98.7 263.7,98.3 263.9,98.0 264.0,97.7 264.2,97.2 264.2,97.0 264.3,96.5 264.3,96.0 264.2,95.5 264.2,95.2 264.2,94.7 264.2,94.2 264.2,94.0 264.3,93.5 264.4,93.0 264.5,92.7 264.7,92.2 264.8,92.0 265.0,91.7 265.2,91.3 265.4,91.0 265.7,90.8 265.9,90.5 266.2,90.3 266.4,90.1 266.7,89.9 267.1,89.7 267.4,89.5 267.7,89.4 268.2,89.3 268.6,89.2Z" fill="#5ec35e" fill-opacity="0.04" stroke="#6cc46c" stroke-opacity="0.85" stroke-width="0.5"/>
<path d="M270.8,77.7 271.2,77.6 271.7,77.7 272.0,77.8 272.2,78.0 272.4,78.3 272.7,78.7 272.8,79.0 272.9,79.5 273.0,79.7 272.9,80.0 272.9,80.5 272.8,81.0 272.7,81.2 272.4,81.7 272.3,82.0 272.0,82.2 271.7,82.5 271.4,82.6 271.2,82.7 270.7,82.8 270.3,82.7 269.9,82.5 269.7,82.3 269.4,82.0 269.3,81.7 269.2,81.4 269.1,81.0 269.0,80.5 269.1,80.0 269.2,79.5 269.3,79.2 269.4,78.9 269.7,78.5 269.9,78.2 270.2,78.0 270.4,77.8 270.8,77.7ZM267.9,91.0 268.2,90.9 268.7,90.8 269.2,90.8 269.7,91.0 269.9,91.1 270.2,91.2 270.6,91.5 270.9,91.7 271.1,92.0 271.3,92.2 271.5,92.5 271.7,92.9 271.8,93.2 271.9,93.7 272.0,94.0 272.1,94.5 272.1,94.9 272.1,95.5 272.1,95.9 272.2,96.3 272.3,96.7 272.5,97.0 272.7,97.2 272.9,97.5 273.2,97.7 273.5,98.0 273.9,98.2 274.2,98.4 274.4,98.6 274.7,98.8 274.9,99.0 275.2,99.2 275.5,99.5 275.8,99.7 276.1,100.0 276.3,100.2 276.5,100.5 276.7,100.7 276.9,101.1 277.1,101.5 277.2,101.7 277.4,102.2 277.5,102.5 277.5,103.0 277.5,103.5 277.5,104.0 277.4,104.2 277.2,104.7 277.1,105.0 276.9,105.3 276.7,105.7 276.5,105.9 276.3,106.2 276.0,106.5 275.8,106.7 275.5,106.9 275.2,107.1 274.9,107.3 274.7,107.5 274.3,107.7 273.9,107.8 273.7,108.0 273.2,108.1 272.9,108.2 272.4,108.4 272.0,108.5 271.7,108.5 271.2,108.6 270.7,108.6 270.2,108.7 269.7,108.7 269.2,108.6 268.7,108.6 268.2,108.5 268.0,108.4 267.4,108.3 267.0,108.2 266.7,108.1 266.3,108.0 265.9,107.8 265.7,107.7 265.3,107.5 264.9,107.2 264.7,107.1 264.4,106.9 264.2,106.7 263.9,106.4 263.7,106.2 263.4,105.9 263.2,105.5 263.0,105.2 262.9,104.9 262.7,104.5 262.6,104.2 262.5,103.7 262.5,103.2 262.5,102.7 262.6,102.2 262.7,101.8 262.8,101.5 263.0,101.2 263.2,100.8 263.4,100.5 263.6,100.2 263.8,100.0 264.0,99.7 264.2,99.4 264.4,99.1 264.7,98.8 264.9,98.5 265.2,98.2 265.3,98.0 265.4,97.7 265.6,97.2 265.6,96.7 265.6,96.2 265.5,95.7 265.5,95.2 265.4,95.0 265.4,94.5 265.4,94.0 265.5,93.7 265.6,93.2 265.7,93.0 265.9,92.5 266.1,92.2 266.3,92.0 266.6,91.7 266.9,91.4 267.2,91.2 267.4,91.1 267.9,91.0Z" fill="#5ec35e" fill-opacity="0.07" stroke="#55b955" stroke-opacity="0.85" stroke-width="0.5"/>
<path d="M267.9,93.0 268.2,92.8 268.7,92.7 269.2,92.8 269.5,93.0 269.8,93.2 270.0,93.5 270.2,93.9 270.3,94.2 270.3,94.7 270.3,95.2 270.2,95.5 270.1,96.0 270.1,96.5 270.2,96.9 270.4,97.2 270.7,97.4 270.9,97.6 271.2,97.8 271.5,98.0 271.9,98.2 272.2,98.3 272.4,98.5 272.8,98.7 273.2,98.9 273.4,99.0 273.7,99.2 274.1,99.5 274.4,99.7 274.7,99.9 274.9,100.1 275.2,100.4 275.4,100.6 275.7,101.0 275.9,101.2 276.0,101.5 276.2,101.9 276.3,102.2 276.4,102.7 276.5,103.0 276.5,103.5 276.4,103.7 276.3,104.2 276.2,104.5 276.0,105.0 275.8,105.2 275.7,105.5 275.4,105.7 275.2,106.0 274.9,106.2 274.7,106.5 274.3,106.7 273.9,106.9 273.7,107.0 273.4,107.2 272.9,107.4 272.7,107.5 272.2,107.6 271.8,107.7 271.4,107.8 270.9,107.8 270.4,107.9 269.9,107.9 269.4,107.9 268.9,107.8 268.4,107.8 268.2,107.7 267.7,107.6 267.3,107.5 266.9,107.3 266.6,107.2 266.2,107.0 265.9,106.9 265.7,106.7 265.3,106.5 265.0,106.2 264.8,106.0 264.5,105.7 264.3,105.5 264.2,105.2 263.9,104.9 263.8,104.4 263.7,104.2 263.6,103.7 263.5,103.2 263.6,102.7 263.7,102.2 263.7,102.0 263.9,101.5 264.1,101.2 264.2,101.0 264.4,100.7 264.7,100.3 264.9,100.1 265.2,99.8 265.4,99.5 265.7,99.3 265.9,99.1 266.2,98.8 266.4,98.6 266.7,98.4 266.9,98.1 267.2,97.9 267.4,97.6 267.7,97.2 267.7,97.0 267.7,96.5 267.6,96.2 267.4,95.8 267.3,95.5 267.2,95.0 267.2,94.7 267.2,94.2 267.2,94.0 267.4,93.5 267.6,93.2 267.9,93.0Z" fill="#5ec35e" fill-opacity="0.12" stroke="#45b045" stroke-opacity="0.85" stroke-width="0.5"/>
<path d="M268.4,99.0 268.7,98.9 269.2,98.8 269.7,98.8 270.2,98.8 270.7,98.9 271.0,99.0 271.4,99.1 271.7,99.2 272.2,99.4 272.4,99.5 272.8,99.7 273.2,99.9 273.4,100.1 273.7,100.3 273.9,100.5 274.2,100.7 274.5,101.0 274.7,101.2 274.9,101.6 275.1,102.0 275.2,102.2 275.4,102.7 275.4,103.2 275.4,103.7 275.2,104.2 275.1,104.5 274.9,104.8 274.7,105.1 274.4,105.4 274.2,105.7 273.9,105.9 273.7,106.1 273.4,106.2 273.0,106.5 272.7,106.6 272.4,106.7 271.9,106.9 271.6,107.0 271.2,107.0 270.7,107.1 270.2,107.1 269.7,107.1 269.2,107.1 268.7,107.0 268.4,107.0 267.9,106.8 267.6,106.7 267.2,106.6 266.9,106.4 266.5,106.2 266.2,106.0 265.9,105.8 265.7,105.6 265.4,105.3 265.2,105.0 265.0,104.7 264.9,104.4 264.7,104.0 264.6,103.7 264.6,103.2 264.6,102.7 264.7,102.4 264.8,102.0 265.0,101.7 265.2,101.3 265.4,101.0 265.7,100.7 265.9,100.5 266.2,100.2 266.4,100.0 266.7,99.8 266.9,99.6 267.3,99.5 267.7,99.2 267.9,99.1 268.4,99.0Z" fill="#5ec35e" fill-opacity="0.18" stroke="#3fae3f" stroke-opacity="0.85" stroke-width="0.5"/>
<path d="M268.9,100.0 269.2,99.9 269.7,99.9 270.2,99.9 270.7,99.9 270.9,100.0 271.4,100.1 271.7,100.2 272.2,100.4 272.4,100.6 272.7,100.7 273.0,101.0 273.3,101.2 273.6,101.5 273.8,101.7 274.0,102.0 274.2,102.5 274.2,102.7 274.3,103.2 274.2,103.7 274.2,104.0 273.9,104.4 273.8,104.7 273.6,105.0 273.3,105.2 273.0,105.5 272.7,105.6 272.4,105.8 272.0,106.0 271.7,106.1 271.2,106.2 270.9,106.2 270.4,106.3 269.9,106.3 269.4,106.3 268.9,106.2 268.7,106.2 268.2,106.0 267.9,105.9 267.4,105.7 267.2,105.6 266.9,105.4 266.7,105.2 266.4,105.0 266.2,104.7 265.9,104.2 265.8,103.9 265.7,103.5 265.7,103.2 265.7,102.9 265.8,102.5 265.9,102.1 266.2,101.7 266.4,101.5 266.6,101.2 266.8,101.0 267.2,100.7 267.4,100.5 267.7,100.4 268.1,100.2 268.4,100.1 268.9,100.0Z" fill="#5ec35e" fill-opacity="0.2" stroke="#3fae3f" stroke-opacity="0.85" stroke-width="0.5"/>
<path d="M268.6,101.0 268.9,100.9 269.4,100.8 269.9,100.7 270.4,100.8 270.9,100.9 271.2,101.0 271.7,101.1 271.9,101.3 272.2,101.5 272.5,101.7 272.8,102.0 272.9,102.2 273.2,102.7 273.2,103.0 273.2,103.5 273.2,103.7 272.9,104.2 272.7,104.5 272.5,104.7 272.2,104.9 271.9,105.1 271.7,105.2 271.2,105.4 270.9,105.5 270.4,105.5 269.9,105.5 269.4,105.5 269.1,105.5 268.7,105.3 268.3,105.2 267.9,105.0 267.7,104.8 267.4,104.6 267.2,104.4 266.9,104.0 266.8,103.7 266.8,103.2 266.8,102.7 266.9,102.4 267.2,102.0 267.4,101.7 267.7,101.5 267.9,101.3 268.2,101.1 268.6,101.0Z" fill="#5ec35e" fill-opacity="0.16" stroke="#3fae3f" stroke-opacity="0.85" stroke-width="0.5"/>
<path d="M269.2,102.2 269.7,102.1 270.2,102.1 270.7,102.2 270.9,102.3 271.2,102.5 271.4,102.9 271.5,103.2 271.4,103.5 271.2,103.8 270.9,104.0 270.6,104.2 270.2,104.3 269.7,104.3 269.4,104.2 268.9,104.0 268.7,103.8 268.5,103.5 268.5,103.0 268.7,102.6 268.9,102.4 269.2,102.2Z" fill="#fff" fill-opacity="0.9" stroke="none"/>
<rect x="249.2" y="47.7" width="83" height="83" fill="none" stroke="#777" stroke-width="0.8"/>
<rect x="257.4" y="62.6" width="47.8" height="37.6" fill="none" stroke="#505050" stroke-width="0.9"/>
<path d="M249.2,55.7h-2 M249.2,75.4h-2 M249.2,98.2h-2 M249.2,111.8h-2 M249.2,125h-2 M249.2,69.47h-1.2 M249.2,66h-1.2 M249.2,63.54h-1.2 M249.2,61.63h-1.2 M249.2,60.07h-1.2 M249.2,58.75h-1.2 M249.2,57.61h-1.2 M249.2,56.6h-1.2 M249.2,91.34h-1.2 M249.2,87.32h-1.2 M249.2,84.47h-1.2 M249.2,82.26h-1.2 M249.2,80.46h-1.2 M249.2,78.93h-1.2 M249.2,77.61h-1.2 M249.2,76.44h-1.2 M249.2,102.67h-1.2 M249.2,107.13h-1.2 M249.2,111.6h-1.2 M249.2,116.07h-1.2 M249.2,120.53h-1.2 M249.2,128h-1.2 M249.4,130.7v2 M265.2,130.7v2 M281,130.7v2 M296.8,130.7v2 M312.6,130.7v2 M328.4,130.7v2 M252.56,130.7v1.2 M255.72,130.7v1.2 M258.88,130.7v1.2 M262.04,130.7v1.2 M268.36,130.7v1.2 M271.52,130.7v1.2 M274.68,130.7v1.2 M277.84,130.7v1.2 M284.16,130.7v1.2 M287.32,130.7v1.2 M290.48,130.7v1.2 M293.64,130.7v1.2 M299.96,130.7v1.2 M303.12,130.7v1.2 M306.28,130.7v1.2 M309.44,130.7v1.2 M315.76,130.7v1.2 M318.92,130.7v1.2 M322.08,130.7v1.2 M325.24,130.7v1.2" stroke="#555" stroke-width="0.6" fill="none"/>
<rect x="247" y="110.2" width="2.1" height="3.3" rx="0.6" fill="#111"/>
<text x="244.6" y="57.6" font-size="5.2" text-anchor="end" fill="#444" stroke="#444" stroke-width="0.02">10<tspan font-size="3.5" dy="-2.1">5</tspan></text>
<text x="244.6" y="77.3" font-size="5.2" text-anchor="end" fill="#444" stroke="#444" stroke-width="0.02">10<tspan font-size="3.5" dy="-2.1">4</tspan></text>
<text x="244.6" y="100.1" font-size="5.2" text-anchor="end" fill="#444" stroke="#444" stroke-width="0.02">10<tspan font-size="3.5" dy="-2.1">3</tspan></text>
<text x="239.4" y="113.7" font-size="5.2" text-anchor="middle" fill="#444" stroke="#444" stroke-width="0.02">0</text>
<text x="244.6" y="126.9" font-size="5.2" text-anchor="end" fill="#444" stroke="#444" stroke-width="0.02">-10<tspan font-size="3.5" dy="-2.1">3</tspan></text>
<text x="249.4" y="139.7" font-size="5.2" text-anchor="middle" fill="#444" stroke="#444" stroke-width="0.02">0</text>
<text x="265.2" y="139.7" font-size="5.2" text-anchor="middle" fill="#444" stroke="#444" stroke-width="0.02">50K</text>
<text x="281" y="139.7" font-size="5.2" text-anchor="middle" fill="#444" stroke="#444" stroke-width="0.02">100K</text>
<text x="296.8" y="139.7" font-size="5.2" text-anchor="middle" fill="#444" stroke="#444" stroke-width="0.02">150K</text>
<text x="312.6" y="139.7" font-size="5.2" text-anchor="middle" fill="#444" stroke="#444" stroke-width="0.02">200K</text>
<text x="328.4" y="139.7" font-size="5.2" text-anchor="middle" fill="#444" stroke="#444" stroke-width="0.02">250K</text>
<text x="291" y="42.1" font-size="10.7" text-anchor="middle" fill="#0a0a0a" textLength="40.9" lengthAdjust="spacingAndGlyphs" stroke="#0a0a0a" stroke-width="0.12" >V/HN-LV</text>
<text x="281.4" y="58.6" font-size="7.3" text-anchor="middle" fill="#111" stroke="#111" stroke-width="0.1" >GFP+ 55.8%</text>
<path d="M377.5,64.2 377.8,64.1 378.3,64.1 378.8,64.0 379.3,64.1 379.8,64.2 380.1,64.3 380.5,64.5 380.8,64.6 381.0,64.8 381.3,65.0 381.7,65.2 381.9,65.5 382.2,65.7 382.4,66.0 382.6,66.2 382.8,66.5 383.1,66.8 383.3,67.1 383.5,67.5 383.6,67.7 383.8,68.0 384.0,68.5 384.1,68.7 384.3,69.2 384.4,69.5 384.6,69.9 384.7,70.2 384.8,70.7 384.9,71.0 385.0,71.5 385.0,71.7 385.1,72.2 385.2,72.7 385.3,73.2 385.3,73.5 385.4,74.0 385.4,74.5 385.5,75.0 385.5,75.5 385.5,76.0 385.5,76.5 385.5,77.0 385.5,77.5 385.5,78.0 385.4,78.5 385.4,79.0 385.3,79.5 385.3,79.7 385.2,80.2 385.1,80.7 385.1,81.2 385.0,81.5 384.9,82.0 384.8,82.4 384.7,82.7 384.6,83.2 384.5,83.5 384.4,84.0 384.3,84.4 384.2,84.7 384.1,85.2 384.1,85.5 384.0,86.0 383.9,86.5 383.9,87.0 383.9,87.5 384.0,88.0 384.0,88.5 384.1,88.7 384.2,89.2 384.3,89.7 384.3,90.0 384.4,90.5 384.5,91.0 384.5,91.5 384.6,91.7 384.6,92.2 384.7,92.7 384.7,93.2 384.7,93.7 384.8,94.2 384.8,94.7 384.8,95.0 385.0,95.5 385.1,95.7 385.3,96.2 385.4,96.5 385.6,96.7 385.8,97.0 386.0,97.3 386.3,97.6 386.5,98.0 386.7,98.2 386.9,98.5 387.1,98.7 387.3,99.1 387.5,99.5 387.7,99.7 387.8,100.0 388.0,100.4 388.1,100.7 388.2,101.2 388.3,101.7 388.3,102.0 388.4,102.5 388.4,103.0 388.3,103.5 388.3,103.7 388.2,104.2 388.1,104.7 388.0,105.0 387.8,105.4 387.6,105.7 387.5,106.0 387.3,106.3 387.1,106.7 386.8,107.0 386.6,107.2 386.4,107.5 386.2,107.7 385.9,108.0 385.7,108.2 385.4,108.5 385.1,108.7 384.8,108.9 384.6,109.0 384.3,109.2 383.9,109.5 383.6,109.6 383.3,109.8 382.9,110.0 382.6,110.1 382.3,110.2 381.8,110.4 381.6,110.5 381.1,110.7 380.8,110.7 380.3,110.9 379.9,111.0 379.6,111.0 379.0,111.1 378.6,111.2 378.3,111.2 377.8,111.3 377.3,111.3 376.8,111.3 376.3,111.3 375.8,111.3 375.3,111.3 374.8,111.2 374.6,111.2 374.1,111.1 373.6,111.1 373.1,111.0 372.8,110.9 372.3,110.8 372.1,110.7 371.6,110.5 371.3,110.4 370.8,110.3 370.6,110.2 370.1,110.0 369.8,109.8 369.6,109.7 369.1,109.5 368.8,109.3 368.6,109.1 368.3,108.9 368.0,108.7 367.6,108.4 367.4,108.2 367.1,108.0 366.8,107.7 366.6,107.5 366.4,107.2 366.2,107.0 366.0,106.7 365.8,106.4 365.6,106.0 365.4,105.7 365.2,105.5 365.1,105.0 364.9,104.7 364.8,104.2 364.7,104.0 364.7,103.4 364.6,103.0 364.6,102.5 364.7,101.9 364.7,101.5 364.8,101.2 364.9,100.7 365.1,100.3 365.2,100.0 365.3,99.7 365.6,99.3 365.7,99.0 365.9,98.7 366.1,98.4 366.3,98.0 366.5,97.7 366.6,97.5 366.8,97.2 367.1,96.7 367.2,96.5 367.3,96.1 367.4,95.7 367.5,95.2 367.5,94.7 367.5,94.2 367.5,93.7 367.6,93.2 367.6,93.0 367.6,92.5 367.6,92.0 367.7,91.5 367.8,91.0 367.9,90.7 368.0,90.2 368.1,89.9 368.2,89.5 368.3,89.1 368.5,88.7 368.6,88.5 368.7,88.0 368.8,87.7 369.0,87.2 369.1,87.0 369.3,86.5 369.4,86.2 369.5,85.7 369.6,85.5 369.7,85.0 369.7,84.5 369.8,84.0 369.8,83.4 369.7,83.0 369.7,82.5 369.7,82.0 369.7,81.5 369.7,81.0 369.7,80.5 369.7,80.0 369.7,79.5 369.7,79.0 369.7,78.5 369.8,78.0 369.8,77.7 369.8,77.2 369.9,76.7 370.0,76.2 370.1,75.8 370.1,75.5 370.2,75.0 370.3,74.5 370.4,74.2 370.5,73.7 370.6,73.5 370.7,73.0 370.8,72.6 370.9,72.2 371.1,71.9 371.2,71.5 371.3,71.2 371.5,70.7 371.6,70.4 371.8,70.0 371.9,69.7 372.1,69.5 372.3,69.0 372.5,68.7 372.6,68.5 372.8,68.2 373.1,67.8 373.3,67.5 373.5,67.2 373.7,67.0 373.9,66.7 374.1,66.5 374.3,66.2 374.6,66.0 374.8,65.7 375.1,65.5 375.4,65.2 375.8,65.0 376.1,64.8 376.3,64.7 376.7,64.5 377.1,64.3 377.5,64.2Z" fill="#5ec35e" fill-opacity="0.03" stroke="#6cc46c" stroke-opacity="0.85" stroke-width="0.5"/>
<path d="M377.7,66.5 378.1,66.4 378.6,66.4 379.1,66.4 379.3,66.5 379.8,66.6 380.1,66.7 380.4,67.0 380.8,67.2 381.1,67.4 381.3,67.6 381.6,67.9 381.8,68.2 382.0,68.5 382.2,68.7 382.4,69.0 382.6,69.3 382.8,69.7 382.9,70.0 383.1,70.3 383.2,70.7 383.3,71.0 383.5,71.5 383.6,71.7 383.7,72.2 383.8,72.7 383.9,73.0 384.0,73.5 384.0,74.0 384.1,74.2 384.1,74.7 384.2,75.2 384.2,75.7 384.2,76.2 384.2,76.7 384.2,77.2 384.2,77.7 384.2,78.2 384.1,78.7 384.1,79.2 384.0,79.5 384.0,80.0 383.9,80.5 383.8,80.8 383.7,81.2 383.6,81.7 383.6,82.0 383.4,82.4 383.3,82.9 383.2,83.2 383.1,83.7 383.0,84.0 382.9,84.5 382.8,84.7 382.7,85.2 382.6,85.7 382.5,86.0 382.5,86.5 382.5,87.0 382.5,87.4 382.6,87.7 382.7,88.2 382.8,88.7 382.8,89.0 383.0,89.5 383.1,89.9 383.1,90.2 383.2,90.7 383.3,91.1 383.4,91.5 383.4,92.0 383.5,92.5 383.5,93.0 383.5,93.5 383.5,94.0 383.6,94.2 383.6,94.7 383.6,95.2 383.8,95.7 383.8,96.0 384.1,96.4 384.2,96.7 384.4,97.0 384.6,97.2 384.8,97.5 385.1,97.8 385.3,98.1 385.6,98.4 385.7,98.7 385.9,99.0 386.1,99.2 386.3,99.6 386.5,100.0 386.6,100.2 386.8,100.6 386.9,101.0 387.0,101.5 387.1,101.7 387.2,102.2 387.2,102.7 387.2,103.2 387.1,103.7 387.0,104.0 386.9,104.5 386.8,104.8 386.6,105.2 386.5,105.5 386.3,105.8 386.1,106.2 385.8,106.5 385.7,106.7 385.4,107.0 385.2,107.2 384.9,107.5 384.7,107.7 384.4,107.9 384.1,108.2 383.8,108.4 383.6,108.5 383.3,108.7 382.8,109.0 382.6,109.1 382.3,109.2 381.8,109.4 381.6,109.5 381.1,109.7 380.8,109.8 380.3,109.9 380.1,110.0 379.5,110.1 379.2,110.2 378.8,110.3 378.3,110.3 377.8,110.4 377.3,110.4 376.8,110.4 376.3,110.4 375.8,110.4 375.3,110.4 374.8,110.4 374.3,110.3 373.8,110.2 373.6,110.1 373.1,110.0 372.7,110.0 372.3,109.8 371.9,109.7 371.6,109.6 371.3,109.5 370.8,109.3 370.6,109.1 370.2,109.0 369.8,108.7 369.6,108.6 369.3,108.4 369.0,108.2 368.6,108.0 368.3,107.7 368.1,107.5 367.8,107.2 367.6,107.0 367.4,106.7 367.1,106.5 367.0,106.2 366.8,105.9 366.6,105.5 366.4,105.2 366.3,105.0 366.1,104.5 366.0,104.2 365.9,103.7 365.8,103.2 365.8,102.7 365.8,102.2 365.9,101.7 366.0,101.2 366.1,101.0 366.2,100.5 366.4,100.2 366.6,99.8 366.7,99.5 366.9,99.2 367.1,98.9 367.3,98.5 367.5,98.2 367.7,97.9 367.8,97.7 368.1,97.3 368.3,97.0 368.4,96.7 368.5,96.2 368.6,96.0 368.7,95.5 368.7,95.0 368.7,94.5 368.7,94.0 368.7,93.5 368.7,93.0 368.8,92.5 368.8,92.1 368.9,91.7 368.9,91.2 369.1,90.7 369.1,90.5 369.3,90.0 369.4,89.7 369.6,89.2 369.7,89.0 369.8,88.6 370.0,88.2 370.1,88.0 370.3,87.5 370.4,87.2 370.6,86.9 370.7,86.4 370.8,86.2 371.0,85.7 371.1,85.4 371.1,85.0 371.2,84.5 371.2,84.0 371.2,83.5 371.1,83.0 371.1,82.4 371.1,82.0 371.0,81.7 371.0,81.2 371.0,80.7 371.0,80.2 371.0,79.7 371.0,79.2 371.0,78.7 371.0,78.2 371.1,78.0 371.1,77.5 371.2,77.0 371.2,76.5 371.3,76.1 371.4,75.7 371.5,75.2 371.6,74.9 371.7,74.5 371.8,74.0 371.9,73.7 372.0,73.2 372.1,73.0 372.3,72.5 372.4,72.2 372.6,71.8 372.7,71.5 372.8,71.2 373.1,70.8 373.2,70.5 373.4,70.2 373.6,69.9 373.8,69.5 374.0,69.2 374.2,69.0 374.4,68.7 374.6,68.5 374.8,68.2 375.1,68.0 375.4,67.7 375.7,67.5 376.0,67.2 376.3,67.0 376.6,66.9 376.9,66.7 377.3,66.6 377.7,66.5Z" fill="#5ec35e" fill-opacity="0.02" stroke="#7ccb7c" stroke-opacity="0.85" stroke-width="0.5"/>
<path d="M377.7,68.7 378.1,68.6 378.6,68.6 378.9,68.7 379.3,68.8 379.6,69.0 380.1,69.2 380.3,69.4 380.6,69.6 380.8,69.9 381.1,70.1 381.3,70.5 381.4,70.7 381.6,71.0 381.8,71.3 382.0,71.7 382.1,72.0 382.3,72.5 382.3,72.7 382.5,73.2 382.6,73.5 382.7,74.0 382.8,74.5 382.8,74.8 382.9,75.2 382.9,75.7 382.9,76.2 382.9,76.7 382.9,77.2 382.9,77.7 382.9,78.2 382.9,78.7 382.8,79.2 382.8,79.5 382.7,80.0 382.6,80.5 382.5,80.7 382.4,81.2 382.3,81.7 382.2,82.0 382.1,82.5 382.0,82.7 381.8,83.2 381.7,83.5 381.6,84.0 381.5,84.2 381.3,84.7 381.2,85.0 381.1,85.5 381.1,85.9 381.0,86.2 381.0,86.7 381.1,87.0 381.1,87.5 381.3,88.0 381.3,88.2 381.5,88.7 381.6,89.0 381.7,89.5 381.8,89.7 382.0,90.2 382.0,90.5 382.2,91.0 382.3,91.5 382.3,91.7 382.4,92.2 382.4,92.7 382.4,93.2 382.4,93.7 382.4,94.2 382.5,94.7 382.5,95.2 382.6,95.6 382.6,96.0 382.8,96.4 383.0,96.7 383.1,97.0 383.3,97.2 383.6,97.5 383.8,97.8 384.0,98.1 384.3,98.4 384.5,98.7 384.7,98.9 384.9,99.2 385.1,99.5 385.3,99.8 385.5,100.2 385.6,100.5 385.8,100.9 385.9,101.2 386.0,101.7 386.1,102.0 386.1,102.5 386.1,102.9 386.1,103.5 386.0,103.7 385.9,104.2 385.8,104.5 385.6,105.0 385.5,105.2 385.3,105.5 385.0,105.9 384.8,106.2 384.6,106.5 384.4,106.7 384.1,107.0 383.8,107.2 383.6,107.4 383.3,107.6 383.1,107.8 382.8,108.0 382.4,108.2 382.0,108.4 381.8,108.5 381.4,108.7 381.1,108.8 380.8,109.0 380.3,109.1 380.0,109.2 379.6,109.3 379.1,109.4 378.8,109.5 378.3,109.6 377.8,109.6 377.3,109.7 376.8,109.7 376.3,109.7 375.8,109.7 375.3,109.6 374.8,109.6 374.3,109.5 374.0,109.4 373.6,109.3 373.1,109.2 372.8,109.1 372.3,109.0 372.0,108.9 371.6,108.7 371.3,108.6 371.1,108.4 370.6,108.2 370.3,108.0 370.1,107.9 369.8,107.7 369.5,107.4 369.2,107.2 368.9,107.0 368.6,106.7 368.4,106.4 368.2,106.2 368.0,106.0 367.8,105.7 367.6,105.3 367.4,105.0 367.3,104.7 367.1,104.2 367.0,104.0 366.9,103.5 366.9,102.9 366.9,102.4 366.9,102.0 367.0,101.5 367.1,101.2 367.3,100.7 367.4,100.5 367.6,100.0 367.7,99.7 367.9,99.5 368.1,99.2 368.3,98.8 368.5,98.5 368.7,98.2 368.9,98.0 369.1,97.7 369.3,97.3 369.5,97.0 369.6,96.7 369.7,96.2 369.8,95.7 369.8,95.5 369.8,94.9 369.8,94.5 369.8,94.0 369.8,93.7 369.8,93.2 369.8,93.0 369.8,92.5 369.9,92.0 370.0,91.5 370.1,91.2 370.2,90.7 370.3,90.4 370.4,90.0 370.6,89.7 370.8,89.2 370.9,89.0 371.1,88.7 371.3,88.2 371.4,88.0 371.6,87.7 371.8,87.3 372.0,87.0 372.1,86.7 372.3,86.2 372.4,86.0 372.5,85.4 372.6,85.2 372.6,84.7 372.6,84.2 372.6,83.7 372.6,83.3 372.5,83.0 372.5,82.5 372.4,81.9 372.3,81.5 372.3,81.0 372.3,80.7 372.3,80.2 372.2,79.7 372.2,79.2 372.3,78.7 372.3,78.2 372.3,78.0 372.4,77.5 372.4,77.0 372.5,76.5 372.6,76.2 372.7,75.7 372.8,75.2 372.8,75.0 373.0,74.5 373.1,74.2 373.2,73.7 373.3,73.5 373.6,73.0 373.7,72.7 373.8,72.4 374.0,72.0 374.2,71.7 374.3,71.5 374.6,71.1 374.8,70.8 375.1,70.5 375.3,70.2 375.5,70.0 375.8,69.7 376.1,69.5 376.3,69.3 376.6,69.1 376.9,69.0 377.3,68.8 377.7,68.7Z" fill="#5ec35e" fill-opacity="0.02" stroke="#7ccb7c" stroke-opacity="0.85" stroke-width="0.5"/>
<path d="M377.1,71.5 377.6,71.3 378.1,71.2 378.6,71.3 379.1,71.4 379.3,71.6 379.5,71.7 379.8,72.0 380.1,72.2 380.3,72.6 380.5,73.0 380.7,73.2 380.8,73.5 381.0,73.9 381.1,74.2 381.2,74.7 381.3,75.1 381.4,75.5 381.4,76.0 381.5,76.5 381.5,76.9 381.5,77.5 381.5,78.0 381.5,78.5 381.4,79.0 381.3,79.5 381.3,79.7 381.2,80.2 381.1,80.7 381.0,80.9 380.8,81.5 380.7,81.7 380.6,82.1 380.4,82.5 380.3,82.7 380.1,83.2 379.9,83.5 379.8,83.8 379.6,84.2 379.5,84.5 379.3,84.8 379.2,85.2 379.1,85.7 379.0,86.0 379.1,86.2 379.1,86.7 379.3,87.2 379.4,87.5 379.6,87.7 379.8,88.2 379.9,88.5 380.0,88.7 380.3,89.2 380.4,89.5 380.6,89.8 380.7,90.2 380.8,90.5 381.0,91.0 381.1,91.3 381.1,91.7 381.2,92.2 381.3,92.7 381.3,93.2 381.3,93.7 381.3,94.2 381.3,94.7 381.3,95.2 381.3,95.5 381.4,96.0 381.5,96.5 381.7,96.7 381.8,97.0 382.0,97.3 382.3,97.6 382.5,97.9 382.8,98.2 383.1,98.4 383.3,98.7 383.5,99.0 383.7,99.2 383.9,99.5 384.1,99.7 384.3,100.1 384.5,100.5 384.6,100.7 384.8,101.1 384.9,101.5 385.0,102.0 385.1,102.3 385.1,102.7 385.1,103.1 385.0,103.4 384.9,103.9 384.8,104.2 384.6,104.7 384.5,105.0 384.3,105.3 384.1,105.6 383.8,105.9 383.6,106.2 383.3,106.5 383.1,106.7 382.8,106.9 382.6,107.1 382.3,107.3 382.0,107.5 381.6,107.7 381.3,107.8 381.1,108.0 380.6,108.2 380.3,108.3 379.8,108.4 379.6,108.5 379.0,108.6 378.7,108.7 378.3,108.8 377.8,108.8 377.3,108.9 376.8,108.9 376.3,108.9 375.8,108.9 375.3,108.9 374.8,108.8 374.3,108.7 374.1,108.7 373.6,108.5 373.3,108.5 372.8,108.3 372.5,108.2 372.1,108.0 371.8,107.9 371.4,107.7 371.1,107.5 370.8,107.3 370.6,107.2 370.3,106.9 369.9,106.7 369.7,106.4 369.4,106.2 369.2,106.0 369.0,105.7 368.8,105.4 368.6,105.0 368.4,104.7 368.3,104.5 368.1,104.0 368.0,103.7 368.0,103.2 367.9,102.7 367.9,102.2 368.0,101.7 368.1,101.5 368.2,100.9 368.3,100.7 368.6,100.3 368.7,100.0 368.9,99.7 369.1,99.4 369.3,99.1 369.6,98.7 369.8,98.5 370.0,98.2 370.1,98.0 370.3,97.7 370.6,97.3 370.7,97.0 370.8,96.7 371.0,96.2 371.0,95.7 371.0,95.2 371.0,94.7 371.0,94.2 370.9,93.7 370.9,93.2 371.0,92.7 371.0,92.2 371.1,92.0 371.2,91.4 371.3,91.0 371.4,90.7 371.6,90.4 371.7,90.0 371.9,89.7 372.1,89.4 372.3,89.0 372.5,88.7 372.7,88.4 372.8,88.2 373.1,87.9 373.3,87.6 373.6,87.3 373.8,87.0 374.0,86.7 374.1,86.5 374.3,86.2 374.5,85.7 374.6,85.5 374.6,85.0 374.6,84.5 374.5,84.2 374.4,83.7 374.3,83.2 374.2,83.0 374.1,82.5 374.0,82.2 373.9,81.7 373.9,81.2 373.8,80.8 373.8,80.5 373.7,80.0 373.7,79.5 373.7,79.0 373.7,78.5 373.7,78.0 373.8,77.5 373.8,77.2 373.9,76.7 374.0,76.2 374.1,76.0 374.2,75.5 374.3,75.2 374.5,74.7 374.6,74.5 374.8,74.0 375.0,73.7 375.1,73.5 375.3,73.1 375.6,72.8 375.8,72.5 376.1,72.2 376.3,72.0 376.5,71.8 376.8,71.6 377.1,71.5Z" fill="#5ec35e" fill-opacity="0.04" stroke="#6cc46c" stroke-opacity="0.85" stroke-width="0.5"/>
<path d="M377.5,75.0 377.8,74.9 378.1,75.0 378.6,75.2 378.8,75.4 379.0,75.7 379.1,76.0 379.3,76.5 379.3,76.7 379.4,77.2 379.4,77.7 379.4,78.2 379.4,78.7 379.3,79.1 379.2,79.4 379.1,79.9 378.9,80.2 378.8,80.5 378.6,80.8 378.3,81.1 378.1,81.3 377.8,81.5 377.3,81.6 376.8,81.5 376.6,81.2 376.3,81.0 376.2,80.7 376.1,80.4 375.9,80.0 375.8,79.5 375.8,79.2 375.8,78.7 375.8,78.2 375.8,77.9 375.9,77.5 376.0,77.0 376.1,76.7 376.3,76.2 376.4,76.0 376.6,75.7 376.8,75.4 377.1,75.2 377.5,75.0ZM375.8,88.2 376.1,88.1 376.6,88.1 376.9,88.2 377.3,88.4 377.6,88.5 377.9,88.7 378.2,89.0 378.4,89.2 378.6,89.5 378.8,89.7 379.0,90.0 379.3,90.4 379.4,90.7 379.6,91.0 379.7,91.5 379.8,91.7 379.9,92.2 380.0,92.7 380.0,93.2 380.0,93.7 380.0,94.2 379.9,94.7 379.9,95.2 379.9,95.7 380.0,96.2 380.1,96.5 380.3,96.8 380.5,97.2 380.8,97.5 381.0,97.7 381.2,98.0 381.5,98.2 381.7,98.5 382.0,98.7 382.2,99.0 382.5,99.2 382.7,99.5 382.9,99.7 383.1,100.0 383.3,100.3 383.5,100.7 383.6,101.0 383.8,101.4 383.9,101.7 384.0,102.2 384.0,102.7 384.0,103.2 383.9,103.7 383.8,104.0 383.6,104.5 383.5,104.7 383.3,105.0 383.1,105.4 382.8,105.7 382.5,105.9 382.3,106.2 382.1,106.4 381.8,106.6 381.6,106.7 381.2,107.0 380.8,107.2 380.6,107.3 380.2,107.5 379.8,107.6 379.5,107.7 379.1,107.8 378.6,107.9 378.3,108.0 377.8,108.1 377.3,108.1 376.8,108.1 376.3,108.1 375.8,108.1 375.3,108.1 374.8,108.0 374.5,108.0 374.1,107.8 373.6,107.7 373.3,107.6 372.8,107.5 372.5,107.3 372.3,107.2 371.8,107.0 371.6,106.8 371.3,106.6 371.1,106.4 370.7,106.2 370.5,106.0 370.2,105.7 370.0,105.5 369.8,105.2 369.6,104.8 369.4,104.5 369.3,104.2 369.1,103.7 369.1,103.4 369.0,103.0 369.0,102.5 369.0,102.0 369.1,101.7 369.2,101.2 369.3,101.0 369.6,100.5 369.7,100.2 369.9,100.0 370.1,99.7 370.3,99.4 370.6,99.1 370.8,98.8 371.1,98.5 371.3,98.2 371.5,98.0 371.7,97.7 371.9,97.5 372.1,97.1 372.2,96.7 372.3,96.5 372.4,96.0 372.4,95.5 372.3,95.0 372.3,94.6 372.3,94.2 372.2,93.7 372.2,93.2 372.3,92.7 372.3,92.4 372.4,92.0 372.5,91.5 372.6,91.2 372.8,90.8 373.0,90.5 373.2,90.2 373.3,90.0 373.6,89.7 373.8,89.4 374.0,89.2 374.3,89.0 374.7,88.7 375.1,88.5 375.3,88.3 375.8,88.2Z" fill="#5ec35e" fill-opacity="0.07" stroke="#55b955" stroke-opacity="0.85" stroke-width="0.5"/>
<path d="M375.3,90.7 375.8,90.5 376.3,90.5 376.8,90.6 377.1,90.7 377.4,90.9 377.6,91.2 377.8,91.5 378.1,91.9 378.2,92.2 378.3,92.7 378.3,93.0 378.4,93.5 378.3,94.0 378.3,94.2 378.2,94.7 378.1,95.2 378.0,95.5 378.0,95.9 378.1,96.2 378.3,96.7 378.5,97.0 378.7,97.2 379.0,97.5 379.3,97.7 379.6,97.9 379.8,98.1 380.0,98.3 380.3,98.5 380.6,98.7 380.9,99.0 381.1,99.2 381.4,99.5 381.6,99.7 381.9,100.0 382.1,100.2 382.3,100.6 382.5,101.0 382.6,101.2 382.8,101.6 382.9,102.0 383.0,102.5 382.9,102.9 382.9,103.5 382.8,103.7 382.6,104.2 382.5,104.5 382.3,104.7 382.1,105.1 381.8,105.4 381.6,105.6 381.3,105.8 381.1,106.0 380.8,106.2 380.4,106.4 380.0,106.6 379.8,106.7 379.3,106.9 379.1,107.0 378.6,107.1 378.2,107.2 377.8,107.3 377.3,107.3 376.8,107.4 376.3,107.4 375.8,107.4 375.3,107.3 374.8,107.2 374.6,107.2 374.1,107.0 373.8,106.9 373.3,106.8 373.1,106.7 372.6,106.5 372.3,106.3 372.1,106.1 371.8,105.9 371.6,105.7 371.3,105.5 371.0,105.2 370.8,104.9 370.6,104.5 370.4,104.2 370.3,104.0 370.1,103.5 370.1,103.0 370.0,102.7 370.1,102.3 370.1,102.0 370.2,101.5 370.3,101.2 370.5,100.8 370.7,100.5 370.9,100.2 371.1,100.0 371.3,99.7 371.6,99.4 371.8,99.1 372.1,98.9 372.3,98.7 372.6,98.4 372.8,98.2 373.1,98.0 373.3,97.7 373.6,97.5 373.8,97.2 374.1,96.9 374.2,96.5 374.3,96.2 374.3,95.7 374.3,95.5 374.1,95.0 374.1,94.6 374.0,94.2 373.9,93.7 373.9,93.2 373.9,92.7 374.1,92.2 374.2,92.0 374.3,91.7 374.6,91.3 374.8,91.1 375.1,90.9 375.3,90.7Z" fill="#5ec35e" fill-opacity="0.12" stroke="#45b045" stroke-opacity="0.85" stroke-width="0.5"/>
<path d="M375.1,98.2 375.6,98.1 376.1,98.0 376.6,98.0 377.1,98.1 377.6,98.2 377.8,98.3 378.2,98.5 378.6,98.6 378.8,98.7 379.2,98.9 379.6,99.2 379.8,99.3 380.1,99.5 380.3,99.7 380.6,100.0 380.8,100.2 381.1,100.5 381.3,100.8 381.5,101.2 381.6,101.5 381.8,101.9 381.9,102.2 381.9,102.7 381.9,103.2 381.8,103.5 381.6,104.0 381.5,104.2 381.3,104.5 381.1,104.8 380.8,105.1 380.5,105.3 380.3,105.5 380.0,105.7 379.6,105.9 379.3,106.0 378.9,106.2 378.6,106.3 378.1,106.4 377.8,106.5 377.3,106.6 376.8,106.6 376.3,106.6 375.8,106.6 375.3,106.5 375.0,106.5 374.6,106.3 374.1,106.2 373.8,106.1 373.5,106.0 373.1,105.7 372.8,105.5 372.6,105.4 372.3,105.1 372.0,104.9 371.8,104.6 371.6,104.3 371.4,103.9 371.3,103.7 371.1,103.2 371.1,102.7 371.1,102.2 371.2,101.7 371.3,101.5 371.6,101.0 371.7,100.7 371.9,100.5 372.1,100.2 372.4,100.0 372.6,99.7 372.9,99.5 373.3,99.2 373.6,99.0 373.8,98.8 374.1,98.7 374.5,98.5 374.8,98.3 375.1,98.2Z" fill="#5ec35e" fill-opacity="0.18" stroke="#3fae3f" stroke-opacity="0.85" stroke-width="0.5"/>
<path d="M375.0,99.5 375.3,99.3 375.8,99.2 376.3,99.2 376.8,99.2 377.3,99.3 377.8,99.4 378.1,99.5 378.5,99.7 378.8,99.8 379.1,100.0 379.4,100.2 379.7,100.5 379.9,100.7 380.1,101.0 380.3,101.2 380.6,101.6 380.7,101.9 380.8,102.5 380.8,103.0 380.7,103.5 380.6,103.7 380.3,104.1 380.1,104.4 379.8,104.7 379.6,104.9 379.3,105.0 379.0,105.2 378.6,105.4 378.3,105.5 377.8,105.7 377.6,105.7 377.1,105.8 376.6,105.8 376.1,105.8 375.6,105.7 375.3,105.7 374.8,105.5 374.5,105.5 374.1,105.2 373.8,105.1 373.6,104.9 373.2,104.7 373.0,104.4 372.8,104.2 372.6,103.9 372.3,103.5 372.3,103.2 372.2,102.7 372.2,102.2 372.3,101.9 372.5,101.5 372.6,101.2 372.8,101.0 373.0,100.7 373.3,100.4 373.6,100.2 373.9,100.0 374.3,99.7 374.6,99.6 375.0,99.5Z" fill="#5ec35e" fill-opacity="0.2" stroke="#3fae3f" stroke-opacity="0.85" stroke-width="0.5"/>
<path d="M375.8,100.2 376.1,100.2 376.6,100.1 377.1,100.2 377.3,100.2 377.8,100.4 378.1,100.5 378.5,100.7 378.8,100.9 379.1,101.2 379.3,101.4 379.5,101.7 379.6,101.9 379.7,102.4 379.7,102.9 379.6,103.4 379.4,103.7 379.2,103.9 378.9,104.2 378.6,104.5 378.3,104.6 378.1,104.7 377.6,104.9 377.3,105.0 376.8,105.0 376.3,105.0 375.8,105.0 375.6,104.9 375.0,104.8 374.8,104.7 374.4,104.5 374.1,104.2 373.8,104.0 373.6,103.7 373.5,103.5 373.3,103.0 373.3,102.7 373.3,102.3 373.4,102.0 373.6,101.6 373.8,101.3 374.1,101.0 374.3,100.8 374.6,100.7 374.9,100.5 375.3,100.3 375.8,100.2Z" fill="#5ec35e" fill-opacity="0.16" stroke="#3fae3f" stroke-opacity="0.85" stroke-width="0.5"/>
<path d="M375.6,101.7 376.1,101.5 376.6,101.5 377.1,101.6 377.4,101.7 377.7,101.9 377.9,102.2 378.0,102.7 377.8,103.2 377.6,103.5 377.3,103.6 377.0,103.7 376.6,103.8 376.1,103.7 375.8,103.6 375.4,103.5 375.2,103.2 375.0,103.0 375.0,102.5 375.1,102.2 375.3,101.9 375.6,101.7Z" fill="#fff" fill-opacity="0.9" stroke="none"/>
<rect x="355.8" y="47.7" width="83" height="83" fill="none" stroke="#777" stroke-width="0.8"/>
<rect x="364" y="62.6" width="47.8" height="37.6" fill="none" stroke="#505050" stroke-width="0.9"/>
<path d="M355.8,55.7h-2 M355.8,75.4h-2 M355.8,98.2h-2 M355.8,111.8h-2 M355.8,125h-2 M355.8,69.47h-1.2 M355.8,66h-1.2 M355.8,63.54h-1.2 M355.8,61.63h-1.2 M355.8,60.07h-1.2 M355.8,58.75h-1.2 M355.8,57.61h-1.2 M355.8,56.6h-1.2 M355.8,91.34h-1.2 M355.8,87.32h-1.2 M355.8,84.47h-1.2 M355.8,82.26h-1.2 M355.8,80.46h-1.2 M355.8,78.93h-1.2 M355.8,77.61h-1.2 M355.8,76.44h-1.2 M355.8,102.67h-1.2 M355.8,107.13h-1.2 M355.8,111.6h-1.2 M355.8,116.07h-1.2 M355.8,120.53h-1.2 M355.8,128h-1.2 M356,130.7v2 M371.8,130.7v2 M387.6,130.7v2 M403.4,130.7v2 M419.2,130.7v2 M435,130.7v2 M359.16,130.7v1.2 M362.32,130.7v1.2 M365.48,130.7v1.2 M368.64,130.7v1.2 M374.96,130.7v1.2 M378.12,130.7v1.2 M381.28,130.7v1.2 M384.44,130.7v1.2 M390.76,130.7v1.2 M393.92,130.7v1.2 M397.08,130.7v1.2 M400.24,130.7v1.2 M406.56,130.7v1.2 M409.72,130.7v1.2 M412.88,130.7v1.2 M416.04,130.7v1.2 M422.36,130.7v1.2 M425.52,130.7v1.2 M428.68,130.7v1.2 M431.84,130.7v1.2" stroke="#555" stroke-width="0.6" fill="none"/>
<rect x="353.6" y="110.2" width="2.1" height="3.3" rx="0.6" fill="#111"/>
<text x="351.2" y="57.6" font-size="5.2" text-anchor="end" fill="#444" stroke="#444" stroke-width="0.02">10<tspan font-size="3.5" dy="-2.1">5</tspan></text>
<text x="351.2" y="77.3" font-size="5.2" text-anchor="end" fill="#444" stroke="#444" stroke-width="0.02">10<tspan font-size="3.5" dy="-2.1">4</tspan></text>
<text x="351.2" y="100.1" font-size="5.2" text-anchor="end" fill="#444" stroke="#444" stroke-width="0.02">10<tspan font-size="3.5" dy="-2.1">3</tspan></text>
<text x="346" y="113.7" font-size="5.2" text-anchor="middle" fill="#444" stroke="#444" stroke-width="0.02">0</text>
<text x="351.2" y="126.9" font-size="5.2" text-anchor="end" fill="#444" stroke="#444" stroke-width="0.02">-10<tspan font-size="3.5" dy="-2.1">3</tspan></text>
<text x="356" y="139.7" font-size="5.2" text-anchor="middle" fill="#444" stroke="#444" stroke-width="0.02">0</text>
<text x="371.8" y="139.7" font-size="5.2" text-anchor="middle" fill="#444" stroke="#444" stroke-width="0.02">50K</text>
<text x="387.6" y="139.7" font-size="5.2" text-anchor="middle" fill="#444" stroke="#444" stroke-width="0.02">100K</text>
<text x="403.4" y="139.7" font-size="5.2" text-anchor="middle" fill="#444" stroke="#444" stroke-width="0.02">150K</text>
<text x="419.2" y="139.7" font-size="5.2" text-anchor="middle" fill="#444" stroke="#444" stroke-width="0.02">200K</text>
<text x="435" y="139.7" font-size="5.2" text-anchor="middle" fill="#444" stroke="#444" stroke-width="0.02">250K</text>
<text x="397.6" y="42.1" font-size="10.7" text-anchor="middle" fill="#0a0a0a" textLength="49.9" lengthAdjust="spacingAndGlyphs" stroke="#0a0a0a" stroke-width="0.12" >V/F/HN-LV</text>
<text x="388" y="58.6" font-size="7.3" text-anchor="middle" fill="#111" stroke="#111" stroke-width="0.1" >GFP+ 57.6%</text>
<path d="M481.5,103.0 481.8,102.9 482.2,102.8 482.7,102.8 483.2,102.8 483.8,102.7 484.2,102.7 484.8,102.8 485.2,102.8 485.8,102.8 486.2,102.9 486.8,102.9 487.0,103.0 487.5,103.0 488.0,103.1 488.3,103.2 488.8,103.3 489.2,103.5 489.5,103.5 490.0,103.7 490.2,103.8 490.6,104.0 491.0,104.1 491.2,104.2 491.7,104.5 492.0,104.6 492.2,104.8 492.5,105.0 492.9,105.2 493.2,105.5 493.4,105.7 493.7,106.0 493.9,106.2 494.1,106.5 494.3,106.7 494.5,107.1 494.7,107.4 494.8,107.7 494.9,108.2 494.9,108.7 494.9,109.2 494.8,109.7 494.7,109.9 494.5,110.3 494.3,110.7 494.1,111.0 493.9,111.2 493.7,111.5 493.4,111.7 493.2,112.0 492.9,112.2 492.5,112.5 492.2,112.6 492.0,112.8 491.7,112.9 491.2,113.2 491.0,113.3 490.6,113.5 490.2,113.6 490.0,113.7 489.5,113.9 489.2,114.0 488.8,114.1 488.3,114.2 488.0,114.3 487.5,114.4 487.0,114.4 486.8,114.5 486.2,114.5 485.8,114.6 485.2,114.6 484.8,114.6 484.2,114.7 483.8,114.7 483.2,114.6 482.7,114.6 482.2,114.6 481.8,114.5 481.5,114.5 481.0,114.4 480.5,114.3 480.1,114.2 479.8,114.1 479.2,114.0 479.0,113.9 478.5,113.7 478.2,113.7 477.8,113.5 477.5,113.3 477.2,113.2 476.8,113.0 476.5,112.8 476.2,112.7 475.9,112.5 475.5,112.2 475.2,112.0 475.0,111.7 474.8,111.5 474.5,111.2 474.3,111.0 474.1,110.7 474.0,110.5 473.8,110.0 473.6,109.7 473.5,109.2 473.5,108.9 473.5,108.5 473.5,108.2 473.6,107.7 473.8,107.4 474.0,107.0 474.1,106.7 474.3,106.5 474.5,106.2 474.8,105.9 475.0,105.7 475.2,105.4 475.5,105.2 475.9,105.0 476.2,104.7 476.5,104.6 476.8,104.4 477.2,104.2 477.5,104.1 477.8,104.0 478.2,103.7 478.5,103.7 479.0,103.5 479.2,103.4 479.8,103.3 480.1,103.2 480.5,103.1 481.0,103.0 481.5,103.0Z" fill="#5ec35e" fill-opacity="0.03" stroke="#6cc46c" stroke-opacity="0.85" stroke-width="0.5"/>
<path d="M482.4,103.5 482.8,103.4 483.2,103.4 483.8,103.3 484.2,103.3 484.8,103.4 485.2,103.4 485.8,103.4 486.0,103.5 486.5,103.5 487.0,103.6 487.5,103.7 487.8,103.7 488.2,103.8 488.6,103.9 489.0,104.1 489.4,104.2 489.8,104.3 490.0,104.5 490.5,104.7 490.8,104.8 491.1,104.9 491.5,105.2 491.8,105.4 492.0,105.6 492.2,105.8 492.5,106.0 492.8,106.2 493.0,106.5 493.2,106.9 493.4,107.2 493.6,107.5 493.7,108.0 493.8,108.2 493.8,108.7 493.8,109.2 493.7,109.4 493.6,110.0 493.4,110.2 493.2,110.5 493.0,110.9 492.8,111.2 492.5,111.4 492.2,111.6 492.0,111.8 491.8,112.0 491.5,112.2 491.1,112.5 490.8,112.6 490.5,112.7 490.0,113.0 489.8,113.1 489.4,113.2 489.0,113.3 488.6,113.5 488.2,113.6 487.8,113.7 487.5,113.7 487.0,113.8 486.5,113.9 486.0,113.9 485.8,114.0 485.2,114.0 484.8,114.0 484.2,114.1 483.8,114.1 483.2,114.0 482.8,114.0 482.4,114.0 482.0,113.9 481.5,113.8 481.0,113.7 480.8,113.7 480.2,113.6 479.8,113.5 479.5,113.4 479.0,113.2 478.8,113.1 478.4,113.0 478.0,112.8 477.8,112.7 477.3,112.4 477.0,112.3 476.8,112.1 476.5,111.9 476.2,111.7 475.9,111.5 475.7,111.2 475.5,111.0 475.2,110.7 475.0,110.3 474.8,110.0 474.7,109.7 474.6,109.2 474.6,108.7 474.6,108.2 474.7,107.7 474.8,107.5 475.0,107.1 475.2,106.7 475.5,106.5 475.7,106.2 475.9,106.0 476.2,105.7 476.5,105.5 476.8,105.3 477.0,105.1 477.3,105.0 477.8,104.7 478.0,104.6 478.4,104.4 478.8,104.3 479.0,104.2 479.5,104.0 479.8,103.9 480.2,103.8 480.8,103.7 481.0,103.7 481.5,103.6 482.0,103.5 482.4,103.5Z" fill="#5ec35e" fill-opacity="0.02" stroke="#7ccb7c" stroke-opacity="0.85" stroke-width="0.5"/>
<path d="M482.8,104.0 483.2,103.9 483.8,103.9 484.2,103.9 484.8,103.9 485.2,103.9 485.6,104.0 486.0,104.0 486.5,104.0 487.0,104.1 487.3,104.2 487.8,104.3 488.2,104.4 488.5,104.5 489.0,104.7 489.2,104.8 489.6,104.9 490.0,105.1 490.2,105.2 490.6,105.5 491.0,105.7 491.2,105.9 491.5,106.1 491.8,106.3 492.0,106.6 492.2,106.9 492.4,107.2 492.6,107.5 492.8,107.9 492.8,108.2 492.9,108.7 492.8,109.2 492.8,109.5 492.6,110.0 492.4,110.2 492.2,110.5 492.0,110.8 491.8,111.1 491.5,111.3 491.2,111.5 491.0,111.7 490.6,112.0 490.2,112.2 490.0,112.3 489.6,112.4 489.2,112.6 489.0,112.7 488.5,112.9 488.2,113.0 487.8,113.1 487.3,113.2 487.0,113.3 486.5,113.4 486.0,113.4 485.6,113.5 485.2,113.5 484.8,113.5 484.2,113.5 483.8,113.5 483.2,113.5 482.8,113.5 482.5,113.4 482.0,113.4 481.5,113.3 481.1,113.2 480.7,113.1 480.2,113.0 480.0,112.9 479.5,112.8 479.3,112.7 478.8,112.5 478.5,112.3 478.2,112.2 477.8,111.9 477.5,111.8 477.2,111.6 477.0,111.4 476.8,111.2 476.5,110.9 476.2,110.6 476.0,110.3 475.8,110.0 475.7,109.7 475.6,109.2 475.5,108.7 475.6,108.2 475.7,107.7 475.8,107.5 476.0,107.1 476.2,106.8 476.5,106.5 476.8,106.2 477.0,106.0 477.2,105.8 477.5,105.6 477.8,105.5 478.2,105.2 478.5,105.1 478.8,105.0 479.3,104.7 479.5,104.6 480.0,104.5 480.2,104.4 480.7,104.3 481.1,104.2 481.5,104.1 482.0,104.0 482.5,104.0 482.8,104.0Z" fill="#5ec35e" fill-opacity="0.02" stroke="#7ccb7c" stroke-opacity="0.85" stroke-width="0.5"/>
<path d="M483.1,104.5 483.5,104.4 484.0,104.4 484.5,104.4 485.0,104.4 485.3,104.5 485.8,104.5 486.2,104.6 486.8,104.6 487.0,104.7 487.5,104.8 488.0,105.0 488.2,105.0 488.7,105.2 489.0,105.3 489.3,105.5 489.7,105.7 490.0,105.9 490.2,106.0 490.5,106.2 490.8,106.4 491.0,106.7 491.3,107.0 491.5,107.3 491.7,107.7 491.8,107.9 491.9,108.5 491.9,109.0 491.8,109.5 491.7,109.7 491.5,110.1 491.3,110.5 491.0,110.7 490.8,111.0 490.5,111.2 490.2,111.4 490.0,111.5 489.7,111.7 489.3,111.9 489.0,112.1 488.7,112.2 488.2,112.4 488.0,112.5 487.5,112.6 487.0,112.7 486.8,112.8 486.2,112.8 485.8,112.9 485.3,113.0 485.0,113.0 484.5,113.0 484.0,113.0 483.5,113.0 483.1,113.0 482.8,112.9 482.3,112.9 481.8,112.8 481.4,112.7 481.0,112.6 480.5,112.5 480.2,112.4 479.8,112.2 479.5,112.1 479.2,112.0 478.8,111.7 478.5,111.6 478.2,111.4 477.9,111.2 477.6,110.9 477.4,110.7 477.1,110.5 477.0,110.2 476.8,109.8 476.6,109.5 476.5,109.0 476.5,108.7 476.5,108.4 476.6,108.0 476.8,107.6 477.0,107.2 477.1,107.0 477.4,106.7 477.6,106.4 477.9,106.2 478.2,106.0 478.5,105.8 478.8,105.7 479.2,105.5 479.5,105.3 479.8,105.2 480.2,105.0 480.5,104.9 481.0,104.8 481.4,104.7 481.8,104.6 482.3,104.5 482.8,104.5 483.1,104.5Z" fill="#5ec35e" fill-opacity="0.04" stroke="#6cc46c" stroke-opacity="0.85" stroke-width="0.5"/>
<path d="M483.6,105.0 484.0,104.9 484.5,104.9 484.8,105.0 485.2,105.0 485.8,105.0 486.2,105.1 486.7,105.2 487.0,105.3 487.5,105.4 487.8,105.5 488.2,105.7 488.5,105.8 488.8,105.9 489.2,106.2 489.5,106.4 489.8,106.5 490.0,106.8 490.2,107.0 490.5,107.3 490.7,107.7 490.8,108.0 491.0,108.5 491.0,109.0 490.8,109.5 490.7,109.7 490.5,110.1 490.2,110.4 490.0,110.6 489.8,110.9 489.5,111.0 489.2,111.2 488.8,111.5 488.5,111.6 488.2,111.7 487.8,111.9 487.5,112.0 487.0,112.1 486.7,112.2 486.2,112.3 485.8,112.4 485.2,112.4 484.8,112.5 484.5,112.5 484.0,112.5 483.6,112.5 483.2,112.4 482.8,112.4 482.2,112.3 481.8,112.2 481.5,112.2 481.0,112.0 480.8,111.9 480.2,111.8 480.0,111.7 479.6,111.5 479.2,111.3 479.0,111.1 478.8,110.9 478.5,110.7 478.2,110.5 478.0,110.2 477.8,109.9 477.6,109.5 477.5,109.2 477.4,108.7 477.5,108.2 477.6,108.0 477.8,107.5 478.0,107.2 478.2,106.9 478.5,106.7 478.8,106.5 479.0,106.3 479.2,106.1 479.6,105.9 480.0,105.7 480.2,105.6 480.8,105.5 481.0,105.4 481.5,105.2 481.8,105.2 482.2,105.1 482.8,105.0 483.2,105.0 483.6,105.0Z" fill="#5ec35e" fill-opacity="0.07" stroke="#55b955" stroke-opacity="0.85" stroke-width="0.5"/>
<path d="M482.0,105.7 482.5,105.6 483.0,105.5 483.5,105.5 484.0,105.5 484.5,105.5 485.0,105.5 485.5,105.5 486.0,105.6 486.4,105.7 486.8,105.8 487.2,105.9 487.5,106.0 487.9,106.2 488.2,106.4 488.5,106.5 488.8,106.7 489.1,107.0 489.4,107.2 489.6,107.5 489.8,107.7 490.0,108.2 490.0,108.5 490.0,109.0 490.0,109.2 489.8,109.7 489.6,110.0 489.4,110.2 489.1,110.4 488.8,110.7 488.5,110.9 488.2,111.0 487.9,111.2 487.5,111.4 487.2,111.5 486.8,111.6 486.4,111.7 486.0,111.8 485.5,111.9 485.0,111.9 484.5,111.9 484.0,111.9 483.5,111.9 483.0,111.9 482.5,111.8 482.0,111.7 481.8,111.6 481.2,111.5 481.0,111.4 480.5,111.2 480.2,111.1 480.0,110.9 479.6,110.7 479.3,110.5 479.0,110.2 478.8,110.0 478.7,109.7 478.5,109.4 478.4,109.0 478.4,108.5 478.5,108.0 478.7,107.7 478.8,107.5 479.0,107.2 479.3,107.0 479.6,106.7 480.0,106.5 480.2,106.3 480.5,106.2 481.0,106.0 481.2,105.9 481.8,105.8 482.0,105.7Z" fill="#5ec35e" fill-opacity="0.12" stroke="#45b045" stroke-opacity="0.85" stroke-width="0.5"/>
<path d="M482.3,106.2 482.8,106.1 483.2,106.0 483.8,106.0 484.2,106.0 484.8,106.0 485.2,106.1 485.8,106.1 486.1,106.2 486.5,106.3 486.9,106.5 487.2,106.6 487.5,106.7 487.9,107.0 488.2,107.2 488.5,107.4 488.7,107.7 488.9,108.0 489.0,108.2 489.1,108.7 489.0,109.2 488.9,109.5 488.7,109.7 488.5,110.0 488.2,110.2 487.9,110.4 487.5,110.7 487.2,110.8 486.9,111.0 486.5,111.1 486.1,111.2 485.8,111.3 485.2,111.3 484.8,111.4 484.2,111.4 483.8,111.4 483.2,111.4 482.8,111.3 482.3,111.2 482.0,111.1 481.5,111.0 481.2,110.9 480.9,110.7 480.5,110.5 480.2,110.3 480.0,110.1 479.8,109.8 479.5,109.4 479.4,109.2 479.3,108.7 479.4,108.2 479.5,107.9 479.8,107.6 480.0,107.3 480.2,107.1 480.5,106.9 480.9,106.7 481.2,106.5 481.5,106.4 482.0,106.3 482.3,106.2Z" fill="#5ec35e" fill-opacity="0.18" stroke="#3fae3f" stroke-opacity="0.85" stroke-width="0.5"/>
<path d="M482.8,106.7 483.2,106.6 483.8,106.6 484.2,106.5 484.8,106.6 485.2,106.6 485.6,106.7 486.0,106.8 486.5,107.0 486.8,107.1 487.0,107.2 487.4,107.5 487.6,107.7 487.8,108.0 488.0,108.3 488.1,108.7 488.0,109.1 487.8,109.4 487.6,109.7 487.4,110.0 487.0,110.2 486.8,110.3 486.5,110.5 486.0,110.6 485.6,110.7 485.2,110.8 484.8,110.8 484.2,110.9 483.8,110.8 483.2,110.8 482.8,110.7 482.5,110.6 482.0,110.5 481.8,110.4 481.4,110.2 481.0,110.0 480.8,109.7 480.6,109.5 480.4,109.2 480.3,108.7 480.4,108.2 480.6,108.0 480.8,107.7 481.0,107.4 481.4,107.2 481.8,107.0 482.0,106.9 482.5,106.8 482.8,106.7Z" fill="#5ec35e" fill-opacity="0.2" stroke="#3fae3f" stroke-opacity="0.85" stroke-width="0.5"/>
<path d="M483.1,107.2 483.5,107.1 484.0,107.1 484.5,107.1 485.0,107.1 485.3,107.2 485.8,107.3 486.1,107.5 486.5,107.7 486.8,107.9 487.0,108.2 487.1,108.5 487.1,108.9 487.0,109.2 486.8,109.5 486.5,109.7 486.1,110.0 485.8,110.1 485.3,110.2 485.0,110.3 484.5,110.3 484.0,110.3 483.5,110.3 483.1,110.2 482.8,110.1 482.3,110.0 482.0,109.8 481.8,109.6 481.5,109.3 481.3,109.0 481.3,108.5 481.5,108.1 481.8,107.8 482.0,107.6 482.3,107.5 482.8,107.3 483.1,107.2Z" fill="#5ec35e" fill-opacity="0.16" stroke="#3fae3f" stroke-opacity="0.85" stroke-width="0.5"/>
<path d="M484.0,108.0 484.2,107.9 484.5,108.0 485.0,108.1 485.2,108.2 485.5,108.5 485.5,108.9 485.2,109.2 485.0,109.3 484.5,109.4 484.2,109.5 484.0,109.5 483.5,109.3 483.2,109.2 482.9,108.9 482.9,108.5 483.2,108.2 483.5,108.1 484.0,108.0Z" fill="#fff" fill-opacity="0.9" stroke="none"/>
<rect x="462" y="47.7" width="83" height="83" fill="none" stroke="#777" stroke-width="0.8"/>
<rect x="470.2" y="62.6" width="47.8" height="37.6" fill="none" stroke="#505050" stroke-width="0.9"/>
<path d="M462,55.7h-2 M462,75.4h-2 M462,98.2h-2 M462,111.8h-2 M462,125h-2 M462,69.47h-1.2 M462,66h-1.2 M462,63.54h-1.2 M462,61.63h-1.2 M462,60.07h-1.2 M462,58.75h-1.2 M462,57.61h-1.2 M462,56.6h-1.2 M462,91.34h-1.2 M462,87.32h-1.2 M462,84.47h-1.2 M462,82.26h-1.2 M462,80.46h-1.2 M462,78.93h-1.2 M462,77.61h-1.2 M462,76.44h-1.2 M462,102.67h-1.2 M462,107.13h-1.2 M462,111.6h-1.2 M462,116.07h-1.2 M462,120.53h-1.2 M462,128h-1.2 M462.2,130.7v2 M478,130.7v2 M493.8,130.7v2 M509.6,130.7v2 M525.4,130.7v2 M541.2,130.7v2 M465.36,130.7v1.2 M468.52,130.7v1.2 M471.68,130.7v1.2 M474.84,130.7v1.2 M481.16,130.7v1.2 M484.32,130.7v1.2 M487.48,130.7v1.2 M490.64,130.7v1.2 M496.96,130.7v1.2 M500.12,130.7v1.2 M503.28,130.7v1.2 M506.44,130.7v1.2 M512.76,130.7v1.2 M515.92,130.7v1.2 M519.08,130.7v1.2 M522.24,130.7v1.2 M528.56,130.7v1.2 M531.72,130.7v1.2 M534.88,130.7v1.2 M538.04,130.7v1.2" stroke="#555" stroke-width="0.6" fill="none"/>
<rect x="459.8" y="110.2" width="2.1" height="3.3" rx="0.6" fill="#111"/>
<text x="457.4" y="57.6" font-size="5.2" text-anchor="end" fill="#444" stroke="#444" stroke-width="0.02">10<tspan font-size="3.5" dy="-2.1">5</tspan></text>
<text x="457.4" y="77.3" font-size="5.2" text-anchor="end" fill="#444" stroke="#444" stroke-width="0.02">10<tspan font-size="3.5" dy="-2.1">4</tspan></text>
<text x="457.4" y="100.1" font-size="5.2" text-anchor="end" fill="#444" stroke="#444" stroke-width="0.02">10<tspan font-size="3.5" dy="-2.1">3</tspan></text>
<text x="452.2" y="113.7" font-size="5.2" text-anchor="middle" fill="#444" stroke="#444" stroke-width="0.02">0</text>
<text x="457.4" y="126.9" font-size="5.2" text-anchor="end" fill="#444" stroke="#444" stroke-width="0.02">-10<tspan font-size="3.5" dy="-2.1">3</tspan></text>
<text x="462.2" y="139.7" font-size="5.2" text-anchor="middle" fill="#444" stroke="#444" stroke-width="0.02">0</text>
<text x="478" y="139.7" font-size="5.2" text-anchor="middle" fill="#444" stroke="#444" stroke-width="0.02">50K</text>
<text x="493.8" y="139.7" font-size="5.2" text-anchor="middle" fill="#444" stroke="#444" stroke-width="0.02">100K</text>
<text x="509.6" y="139.7" font-size="5.2" text-anchor="middle" fill="#444" stroke="#444" stroke-width="0.02">150K</text>
<text x="525.4" y="139.7" font-size="5.2" text-anchor="middle" fill="#444" stroke="#444" stroke-width="0.02">200K</text>
<text x="541.2" y="139.7" font-size="5.2" text-anchor="middle" fill="#444" stroke="#444" stroke-width="0.02">250K</text>
<text x="503.8" y="42.1" font-size="10.7" text-anchor="middle" fill="#0a0a0a" textLength="13.7" lengthAdjust="spacingAndGlyphs" stroke="#0a0a0a" stroke-width="0.12" >NC</text>
<text x="494.2" y="58.6" font-size="7.3" text-anchor="middle" fill="#111" stroke="#111" stroke-width="0.1" >GFP+ 0%</text>
<path d="M17.4,113.5V49.2" stroke="#222" stroke-width="1.1"/>
<path d="M15.4,50.7L17.4,46.2L19.4,50.7Z" fill="#222"/>
<text transform="translate(20.6,131.9) rotate(-90)" font-size="8.3" fill="#1a1a1a" textLength="14.4" lengthAdjust="spacingAndGlyphs" stroke="#1a1a1a" stroke-width="0.1">GFP</text>
<text x="35.4" y="149.6" font-size="8.3" fill="#1a1a1a" textLength="20.3" lengthAdjust="spacingAndGlyphs" stroke="#1a1a1a" stroke-width="0.1">FSC-A</text>
<path d="M61.8,147.1H542" stroke="#222" stroke-width="1.1"/>
<path d="M541,145.1L546.5,147.1L541,149.1Z" fill="#222"/>
<path d="M51.8,261.1 52.1,261.1 52.6,261.1 53.1,261.1 53.4,261.1 53.9,261.2 54.4,261.2 54.9,261.3 55.1,261.4 55.6,261.5 55.9,261.6 56.4,261.8 56.6,261.9 57.1,262.1 57.4,262.2 57.7,262.4 58.1,262.6 58.4,262.7 58.6,262.9 58.9,263.1 59.2,263.4 59.6,263.6 59.8,263.9 60.1,264.1 60.3,264.4 60.6,264.6 60.8,264.9 61.0,265.1 61.1,265.4 61.4,265.8 61.6,266.1 61.7,266.4 61.9,266.7 62.1,267.1 62.2,267.4 62.3,267.9 62.4,268.2 62.5,268.6 62.6,269.1 62.6,269.6 62.6,270.1 62.6,270.6 62.5,271.1 62.5,271.6 62.4,271.9 62.3,272.4 62.1,272.7 62.0,273.1 61.9,273.4 61.6,273.8 61.5,274.1 61.3,274.4 61.1,274.6 60.9,275.0 60.6,275.3 60.4,275.6 60.1,275.8 59.9,276.1 59.6,276.3 59.4,276.5 59.1,276.7 58.9,276.9 58.6,277.1 58.2,277.4 57.9,277.5 57.7,277.7 57.3,277.9 56.9,278.0 56.6,278.1 56.1,278.3 55.9,278.4 55.4,278.6 55.1,278.6 54.6,278.7 54.1,278.8 53.8,278.9 53.4,278.9 52.9,278.9 52.4,278.9 51.9,278.9 51.4,278.9 51.1,278.8 50.6,278.8 50.1,278.7 49.8,278.6 49.4,278.5 48.9,278.4 48.6,278.3 48.3,278.1 47.9,278.0 47.6,277.8 47.2,277.6 46.9,277.4 46.6,277.3 46.4,277.1 46.0,276.9 45.7,276.6 45.4,276.4 45.1,276.1 44.9,275.9 44.6,275.6 44.4,275.4 44.2,275.1 44.0,274.9 43.8,274.6 43.6,274.3 43.4,273.9 43.2,273.6 43.1,273.4 42.9,272.9 42.8,272.6 42.7,272.1 42.6,271.9 42.5,271.4 42.4,270.9 42.4,270.4 42.4,270.1 42.4,269.6 42.4,269.4 42.5,268.9 42.6,268.4 42.6,268.0 42.8,267.6 42.9,267.2 43.0,266.9 43.1,266.6 43.4,266.1 43.5,265.9 43.7,265.6 43.9,265.3 44.1,265.0 44.4,264.7 44.6,264.4 44.9,264.1 45.1,263.9 45.4,263.6 45.6,263.4 45.9,263.2 46.1,263.1 46.4,262.9 46.8,262.6 47.1,262.4 47.4,262.3 47.8,262.1 48.1,261.9 48.4,261.8 48.9,261.7 49.1,261.6 49.6,261.4 50.0,261.4 50.4,261.3 50.9,261.2 51.4,261.1 51.8,261.1Z" fill="#5ec35e" fill-opacity="0.03" stroke="#6cc46c" stroke-opacity="0.85" stroke-width="0.5"/>
<path d="M50.9,262.1 51.4,262.0 51.9,262.0 52.4,262.0 52.9,262.0 53.4,262.0 53.9,262.1 54.1,262.1 54.6,262.2 55.1,262.3 55.4,262.4 55.9,262.6 56.2,262.6 56.6,262.9 56.9,263.0 57.2,263.1 57.6,263.4 57.9,263.5 58.1,263.7 58.4,263.9 58.7,264.1 59.0,264.4 59.2,264.6 59.5,264.9 59.7,265.1 59.9,265.4 60.1,265.7 60.4,266.0 60.6,266.4 60.7,266.6 60.9,266.9 61.1,267.4 61.2,267.6 61.3,268.1 61.4,268.4 61.5,268.9 61.6,269.4 61.6,269.9 61.6,270.4 61.5,270.9 61.5,271.4 61.4,271.6 61.3,272.1 61.1,272.5 61.0,272.9 60.9,273.1 60.7,273.6 60.5,273.9 60.3,274.1 60.1,274.4 59.9,274.7 59.6,275.0 59.4,275.2 59.1,275.5 58.9,275.7 58.7,275.9 58.4,276.1 58.1,276.4 57.7,276.6 57.4,276.8 57.1,276.9 56.7,277.1 56.4,277.3 56.1,277.3 55.6,277.5 55.4,277.6 54.9,277.7 54.4,277.8 54.2,277.9 53.6,278.0 53.2,278.0 52.6,278.0 52.2,278.0 51.6,278.0 51.2,277.9 50.6,277.9 50.4,277.8 49.9,277.7 49.6,277.6 49.1,277.5 48.9,277.4 48.4,277.2 48.1,277.0 47.8,276.9 47.4,276.6 47.1,276.5 46.9,276.3 46.6,276.1 46.3,275.9 46.0,275.6 45.7,275.4 45.5,275.1 45.3,274.9 45.0,274.6 44.9,274.4 44.6,274.1 44.4,273.6 44.2,273.4 44.1,273.1 43.9,272.6 43.8,272.4 43.7,271.9 43.6,271.6 43.5,271.1 43.4,270.6 43.4,270.1 43.4,269.6 43.5,269.1 43.5,268.6 43.6,268.2 43.7,267.9 43.9,267.4 44.0,267.1 44.1,266.8 44.4,266.4 44.5,266.1 44.7,265.9 44.9,265.6 45.1,265.3 45.4,265.0 45.6,264.7 45.9,264.5 46.1,264.3 46.4,264.0 46.7,263.9 47.0,263.6 47.4,263.4 47.6,263.2 47.9,263.1 48.4,262.9 48.6,262.7 49.0,262.6 49.4,262.5 49.8,262.4 50.1,262.2 50.7,262.1 50.9,262.1Z" fill="#5ec35e" fill-opacity="0.02" stroke="#7ccb7c" stroke-opacity="0.85" stroke-width="0.5"/>
<path d="M51.3,262.9 51.6,262.8 52.2,262.8 52.6,262.8 53.1,262.8 53.6,262.8 53.9,262.9 54.4,263.0 54.9,263.1 55.2,263.2 55.6,263.3 55.9,263.4 56.3,263.6 56.6,263.8 56.9,263.9 57.2,264.1 57.6,264.4 57.9,264.6 58.1,264.8 58.4,265.0 58.6,265.2 58.9,265.5 59.1,265.8 59.4,266.1 59.6,266.4 59.7,266.6 59.9,266.9 60.1,267.4 60.2,267.6 60.4,268.1 60.5,268.4 60.6,268.9 60.6,269.3 60.7,269.6 60.7,270.1 60.7,270.6 60.6,270.9 60.6,271.4 60.4,271.9 60.3,272.1 60.1,272.6 60.0,272.9 59.9,273.1 59.7,273.5 59.4,273.9 59.2,274.1 59.0,274.4 58.8,274.6 58.6,274.9 58.3,275.1 58.0,275.4 57.7,275.6 57.4,275.8 57.2,276.0 56.9,276.1 56.4,276.4 56.1,276.5 55.8,276.6 55.4,276.8 55.1,276.9 54.6,277.0 54.1,277.1 53.9,277.1 53.4,277.2 52.9,277.2 52.4,277.2 51.9,277.2 51.4,277.2 51.0,277.1 50.7,277.0 50.1,276.9 49.9,276.9 49.4,276.7 49.1,276.6 48.6,276.4 48.4,276.3 48.1,276.1 47.7,275.9 47.4,275.7 47.1,275.5 46.9,275.3 46.6,275.1 46.4,274.8 46.1,274.6 45.9,274.3 45.6,274.0 45.4,273.6 45.2,273.4 45.1,273.1 44.9,272.7 44.8,272.4 44.6,272.1 44.5,271.6 44.4,271.1 44.4,270.9 44.3,270.4 44.3,269.9 44.3,269.4 44.4,268.9 44.5,268.6 44.6,268.1 44.7,267.9 44.9,267.4 45.0,267.1 45.1,266.8 45.4,266.4 45.6,266.1 45.8,265.9 46.0,265.6 46.2,265.4 46.5,265.1 46.8,264.9 47.1,264.6 47.4,264.4 47.6,264.2 47.9,264.0 48.2,263.9 48.6,263.6 48.9,263.5 49.3,263.4 49.6,263.2 50.1,263.1 50.4,263.0 50.9,262.9 51.3,262.9Z" fill="#5ec35e" fill-opacity="0.02" stroke="#7ccb7c" stroke-opacity="0.85" stroke-width="0.5"/>
<path d="M51.7,263.6 52.1,263.6 52.6,263.6 53.1,263.6 53.4,263.6 53.9,263.7 54.4,263.8 54.7,263.9 55.2,264.0 55.4,264.1 55.9,264.3 56.1,264.4 56.5,264.6 56.9,264.9 57.1,265.0 57.4,265.2 57.7,265.4 57.9,265.7 58.2,265.9 58.4,266.2 58.6,266.5 58.9,266.9 59.0,267.1 59.2,267.4 59.4,267.9 59.5,268.1 59.6,268.6 59.7,268.9 59.8,269.4 59.8,269.9 59.8,270.4 59.7,270.9 59.6,271.3 59.6,271.6 59.4,272.1 59.3,272.4 59.1,272.7 58.9,273.1 58.7,273.4 58.6,273.6 58.4,273.9 58.1,274.1 57.9,274.4 57.6,274.6 57.3,274.9 57.0,275.1 56.6,275.3 56.4,275.4 56.1,275.6 55.7,275.8 55.4,275.9 54.9,276.1 54.6,276.2 54.1,276.3 53.7,276.4 53.4,276.4 52.9,276.4 52.4,276.4 51.9,276.4 51.4,276.4 51.2,276.3 50.7,276.2 50.2,276.1 49.9,276.0 49.5,275.9 49.1,275.7 48.9,275.6 48.4,275.4 48.2,275.2 47.9,275.0 47.6,274.8 47.4,274.6 47.1,274.4 46.9,274.1 46.6,273.8 46.4,273.5 46.1,273.2 46.0,272.9 45.8,272.6 45.6,272.2 45.5,271.9 45.4,271.5 45.3,271.1 45.2,270.6 45.2,270.1 45.2,269.6 45.3,269.1 45.4,268.6 45.4,268.4 45.6,267.9 45.7,267.6 45.9,267.3 46.1,266.9 46.3,266.6 46.5,266.4 46.7,266.1 46.9,265.9 47.2,265.6 47.5,265.4 47.8,265.1 48.1,264.9 48.4,264.7 48.6,264.5 49.0,264.4 49.4,264.2 49.6,264.1 50.1,263.9 50.4,263.8 50.9,263.7 51.4,263.6 51.7,263.6Z" fill="#5ec35e" fill-opacity="0.04" stroke="#6cc46c" stroke-opacity="0.85" stroke-width="0.5"/>
<path d="M50.6,264.6 50.9,264.5 51.4,264.4 51.9,264.4 52.4,264.4 52.9,264.4 53.4,264.4 53.9,264.5 54.4,264.6 54.6,264.7 55.1,264.9 55.4,265.0 55.7,265.1 56.1,265.4 56.4,265.5 56.6,265.7 56.9,265.9 57.1,266.1 57.4,266.4 57.6,266.6 57.9,267.0 58.1,267.3 58.3,267.6 58.4,267.9 58.6,268.4 58.7,268.6 58.8,269.1 58.9,269.6 58.9,269.9 58.9,270.1 58.9,270.6 58.8,271.1 58.7,271.6 58.6,271.9 58.4,272.2 58.2,272.6 58.0,272.9 57.9,273.1 57.6,273.4 57.4,273.6 57.1,273.9 56.9,274.1 56.6,274.4 56.2,274.6 55.9,274.8 55.7,274.9 55.3,275.1 54.9,275.2 54.6,275.4 54.1,275.5 53.6,275.6 53.3,275.6 52.9,275.6 52.4,275.7 51.9,275.6 51.6,275.6 51.1,275.5 50.6,275.4 50.4,275.3 49.9,275.2 49.6,275.1 49.2,274.9 48.9,274.7 48.6,274.5 48.4,274.3 48.1,274.1 47.8,273.9 47.6,273.6 47.3,273.4 47.1,273.1 46.9,272.7 46.7,272.4 46.6,272.1 46.4,271.7 46.3,271.4 46.2,270.9 46.1,270.6 46.1,270.1 46.1,269.6 46.1,269.3 46.2,268.9 46.4,268.4 46.5,268.1 46.6,267.7 46.8,267.4 47.0,267.1 47.2,266.9 47.4,266.6 47.6,266.3 47.9,266.1 48.2,265.9 48.5,265.6 48.9,265.4 49.1,265.2 49.4,265.1 49.9,264.9 50.1,264.7 50.6,264.6Z" fill="#5ec35e" fill-opacity="0.07" stroke="#55b955" stroke-opacity="0.85" stroke-width="0.5"/>
<path d="M50.9,265.4 51.4,265.2 51.9,265.2 52.4,265.1 52.9,265.2 53.4,265.2 53.9,265.3 54.1,265.4 54.6,265.5 54.9,265.6 55.4,265.9 55.6,266.0 55.9,266.2 56.1,266.4 56.4,266.6 56.7,266.9 56.9,267.1 57.2,267.4 57.4,267.8 57.6,268.1 57.7,268.4 57.8,268.9 57.9,269.1 58.0,269.6 58.0,270.1 58.0,270.6 57.9,270.9 57.8,271.4 57.6,271.7 57.5,272.1 57.3,272.4 57.1,272.6 56.9,272.9 56.6,273.2 56.4,273.4 56.1,273.6 55.9,273.9 55.4,274.1 55.2,274.3 54.9,274.4 54.4,274.6 54.1,274.6 53.6,274.8 53.2,274.8 52.8,274.9 52.4,274.9 52.1,274.8 51.6,274.8 51.1,274.7 50.7,274.6 50.4,274.5 50.1,274.4 49.7,274.2 49.4,274.0 49.1,273.9 48.8,273.6 48.5,273.4 48.3,273.1 48.0,272.9 47.9,272.6 47.6,272.3 47.4,271.9 47.3,271.6 47.1,271.1 47.1,270.9 47.0,270.4 47.0,269.9 47.0,269.4 47.1,268.9 47.2,268.6 47.4,268.2 47.6,267.9 47.7,267.6 47.9,267.3 48.1,267.0 48.4,266.8 48.6,266.5 48.9,266.3 49.2,266.1 49.6,265.9 49.9,265.7 50.2,265.6 50.7,265.4 50.9,265.4Z" fill="#5ec35e" fill-opacity="0.12" stroke="#45b045" stroke-opacity="0.85" stroke-width="0.5"/>
<path d="M51.2,266.1 51.6,266.0 52.1,265.9 52.6,265.9 53.1,266.0 53.6,266.1 53.9,266.1 54.4,266.3 54.6,266.4 55.0,266.6 55.4,266.8 55.6,267.0 55.9,267.3 56.1,267.5 56.4,267.8 56.6,268.1 56.7,268.4 56.9,268.8 57.0,269.1 57.1,269.6 57.1,270.1 57.1,270.6 56.9,271.1 56.8,271.4 56.6,271.8 56.4,272.1 56.3,272.4 56.0,272.6 55.8,272.9 55.5,273.1 55.1,273.3 54.9,273.5 54.6,273.6 54.1,273.8 53.9,273.9 53.4,274.0 52.9,274.0 52.4,274.1 51.9,274.0 51.4,273.9 51.0,273.9 50.6,273.7 50.4,273.6 49.9,273.4 49.6,273.2 49.4,273.0 49.1,272.8 48.9,272.5 48.7,272.2 48.4,271.9 48.3,271.6 48.1,271.3 48.0,270.9 47.9,270.4 47.9,270.1 47.9,269.8 48.0,269.4 48.1,268.9 48.2,268.6 48.4,268.2 48.6,267.9 48.8,267.6 49.0,267.4 49.3,267.1 49.6,266.9 49.9,266.6 50.1,266.5 50.5,266.4 50.9,266.2 51.2,266.1Z" fill="#5ec35e" fill-opacity="0.18" stroke="#3fae3f" stroke-opacity="0.85" stroke-width="0.5"/>
<path d="M51.7,266.9 52.1,266.8 52.7,266.8 53.1,266.8 53.4,266.9 53.9,267.0 54.2,267.1 54.6,267.4 54.9,267.6 55.2,267.8 55.4,268.0 55.6,268.3 55.8,268.6 55.9,268.9 56.1,269.4 56.1,269.7 56.2,270.1 56.1,270.4 56.0,270.9 55.9,271.2 55.7,271.6 55.5,271.9 55.3,272.1 55.0,272.4 54.7,272.6 54.4,272.8 54.1,272.9 53.7,273.1 53.4,273.1 52.9,273.2 52.4,273.2 51.9,273.2 51.5,273.1 51.1,273.0 50.8,272.9 50.4,272.6 50.1,272.5 49.9,272.3 49.6,272.0 49.4,271.7 49.2,271.4 49.1,271.1 48.9,270.6 48.9,270.4 48.8,269.9 48.9,269.4 49.0,269.1 49.1,268.7 49.3,268.4 49.5,268.1 49.8,267.9 50.0,267.6 50.4,267.4 50.7,267.2 50.9,267.1 51.4,266.9 51.7,266.9Z" fill="#5ec35e" fill-opacity="0.2" stroke="#3fae3f" stroke-opacity="0.85" stroke-width="0.5"/>
<path d="M52.0,267.6 52.4,267.6 52.9,267.6 53.1,267.6 53.7,267.8 53.9,267.9 54.2,268.1 54.5,268.4 54.8,268.6 54.9,268.9 55.1,269.3 55.2,269.6 55.3,270.1 55.2,270.6 55.1,270.9 54.9,271.2 54.7,271.5 54.4,271.8 54.1,272.0 53.9,272.1 53.4,272.3 53.1,272.4 52.6,272.4 52.1,272.4 51.8,272.4 51.4,272.2 51.1,272.1 50.7,271.9 50.4,271.6 50.2,271.4 50.0,271.1 49.9,270.8 49.8,270.4 49.7,269.9 49.8,269.4 49.9,269.1 50.1,268.7 50.4,268.4 50.6,268.2 50.9,268.0 51.2,267.9 51.6,267.7 52.0,267.6Z" fill="#5ec35e" fill-opacity="0.16" stroke="#3fae3f" stroke-opacity="0.85" stroke-width="0.5"/>
<path d="M51.7,269.1 52.1,268.9 52.6,268.9 53.1,269.0 53.4,269.2 53.6,269.5 53.8,269.9 53.7,270.4 53.6,270.6 53.4,270.9 52.9,271.1 52.6,271.1 52.1,271.1 51.9,271.0 51.6,270.9 51.4,270.6 51.2,270.1 51.3,269.6 51.4,269.4 51.7,269.1Z" fill="#fff" fill-opacity="0.9" stroke="none"/>
<rect x="35.4" y="208.6" width="83" height="83" fill="none" stroke="#777" stroke-width="0.8"/>
<rect x="42" y="227.6" width="51.3" height="35.5" fill="none" stroke="#505050" stroke-width="0.9"/>
<path d="M35.4,216.6h-2 M35.4,236.3h-2 M35.4,259.1h-2 M35.4,272.7h-2 M35.4,285.9h-2 M35.4,230.37h-1.2 M35.4,226.9h-1.2 M35.4,224.44h-1.2 M35.4,222.53h-1.2 M35.4,220.97h-1.2 M35.4,219.65h-1.2 M35.4,218.51h-1.2 M35.4,217.5h-1.2 M35.4,252.24h-1.2 M35.4,248.22h-1.2 M35.4,245.37h-1.2 M35.4,243.16h-1.2 M35.4,241.36h-1.2 M35.4,239.83h-1.2 M35.4,238.51h-1.2 M35.4,237.34h-1.2 M35.4,263.57h-1.2 M35.4,268.03h-1.2 M35.4,272.5h-1.2 M35.4,276.97h-1.2 M35.4,281.43h-1.2 M35.4,288.9h-1.2 M35.6,291.6v2 M51.4,291.6v2 M67.2,291.6v2 M83,291.6v2 M98.8,291.6v2 M114.6,291.6v2 M38.76,291.6v1.2 M41.92,291.6v1.2 M45.08,291.6v1.2 M48.24,291.6v1.2 M54.56,291.6v1.2 M57.72,291.6v1.2 M60.88,291.6v1.2 M64.04,291.6v1.2 M70.36,291.6v1.2 M73.52,291.6v1.2 M76.68,291.6v1.2 M79.84,291.6v1.2 M86.16,291.6v1.2 M89.32,291.6v1.2 M92.48,291.6v1.2 M95.64,291.6v1.2 M101.96,291.6v1.2 M105.12,291.6v1.2 M108.28,291.6v1.2 M111.44,291.6v1.2" stroke="#555" stroke-width="0.6" fill="none"/>
<rect x="33.2" y="271.1" width="2.1" height="3.3" rx="0.6" fill="#111"/>
<text x="30.8" y="218.5" font-size="5.2" text-anchor="end" fill="#444" stroke="#444" stroke-width="0.02">10<tspan font-size="3.5" dy="-2.1">5</tspan></text>
<text x="30.8" y="238.2" font-size="5.2" text-anchor="end" fill="#444" stroke="#444" stroke-width="0.02">10<tspan font-size="3.5" dy="-2.1">4</tspan></text>
<text x="30.8" y="261" font-size="5.2" text-anchor="end" fill="#444" stroke="#444" stroke-width="0.02">10<tspan font-size="3.5" dy="-2.1">3</tspan></text>
<text x="25.6" y="274.6" font-size="5.2" text-anchor="middle" fill="#444" stroke="#444" stroke-width="0.02">0</text>
<text x="30.8" y="287.8" font-size="5.2" text-anchor="end" fill="#444" stroke="#444" stroke-width="0.02">-10<tspan font-size="3.5" dy="-2.1">3</tspan></text>
<text x="35.6" y="300.6" font-size="5.2" text-anchor="middle" fill="#444" stroke="#444" stroke-width="0.02">0</text>
<text x="51.4" y="300.6" font-size="5.2" text-anchor="middle" fill="#444" stroke="#444" stroke-width="0.02">50K</text>
<text x="67.2" y="300.6" font-size="5.2" text-anchor="middle" fill="#444" stroke="#444" stroke-width="0.02">100K</text>
<text x="83" y="300.6" font-size="5.2" text-anchor="middle" fill="#444" stroke="#444" stroke-width="0.02">150K</text>
<text x="98.8" y="300.6" font-size="5.2" text-anchor="middle" fill="#444" stroke="#444" stroke-width="0.02">200K</text>
<text x="114.6" y="300.6" font-size="5.2" text-anchor="middle" fill="#444" stroke="#444" stroke-width="0.02">250K</text>
<text x="77.2" y="203" font-size="10.7" text-anchor="middle" fill="#0a0a0a" textLength="21.7" lengthAdjust="spacingAndGlyphs" stroke="#0a0a0a" stroke-width="0.12" >V-LV</text>
<text x="67.6" y="219.5" font-size="7.3" text-anchor="middle" fill="#111" stroke="#111" stroke-width="0.1" >GFP+ 7.69%</text>
<path d="M159.1,243.6 159.2,243.6 159.4,243.5 159.7,243.5 159.9,243.6 159.9,243.6 160.2,243.8 160.2,243.8 160.3,244.1 160.3,244.4 160.3,244.6 160.2,244.8 160.1,244.8 159.9,245.0 159.7,245.1 159.5,245.1 159.4,245.1 159.4,245.1 159.2,245.0 158.9,244.9 158.9,244.8 158.8,244.6 158.7,244.3 158.7,244.1 158.8,243.8 158.9,243.8 159.1,243.6ZM156.8,260.6 157.2,260.6 157.7,260.5 158.2,260.5 158.7,260.5 159.2,260.5 159.7,260.5 160.2,260.6 160.4,260.6 160.9,260.7 161.4,260.9 161.7,260.9 162.2,261.1 162.4,261.2 162.9,261.4 163.2,261.5 163.4,261.6 163.9,261.9 164.2,262.0 164.4,262.1 164.7,262.4 165.1,262.6 165.4,262.9 165.7,263.1 165.9,263.3 166.2,263.6 166.4,263.8 166.6,264.1 166.8,264.4 167.0,264.6 167.2,264.9 167.4,265.2 167.6,265.6 167.8,265.9 167.9,266.1 168.1,266.6 168.2,266.9 168.3,267.4 168.4,267.6 168.5,268.1 168.6,268.6 168.6,269.1 168.6,269.6 168.6,270.1 168.5,270.6 168.4,271.1 168.4,271.4 168.2,271.9 168.1,272.1 167.9,272.6 167.8,272.9 167.7,273.2 167.4,273.6 167.3,273.9 167.1,274.1 166.9,274.4 166.7,274.7 166.4,275.0 166.1,275.2 165.9,275.5 165.7,275.7 165.4,275.9 165.2,276.1 164.8,276.4 164.5,276.6 164.2,276.8 163.9,276.9 163.6,277.1 163.1,277.3 162.9,277.4 162.5,277.6 162.2,277.7 161.7,277.9 161.4,278.0 160.9,278.1 160.7,278.1 160.2,278.2 159.7,278.3 159.1,278.3 158.7,278.3 158.2,278.3 157.7,278.3 157.2,278.2 156.7,278.2 156.3,278.1 155.9,278.0 155.4,277.9 155.2,277.8 154.7,277.7 154.4,277.6 153.9,277.4 153.7,277.2 153.4,277.1 152.9,276.9 152.7,276.7 152.4,276.5 152.2,276.3 151.8,276.1 151.5,275.9 151.2,275.6 151.0,275.4 150.7,275.1 150.5,274.9 150.3,274.6 150.1,274.4 149.9,274.1 149.7,273.7 149.4,273.4 149.3,273.1 149.2,272.8 149.0,272.4 148.9,272.1 148.7,271.6 148.6,271.4 148.5,270.9 148.4,270.4 148.4,269.9 148.4,269.6 148.4,269.1 148.4,268.9 148.5,268.4 148.5,267.9 148.7,267.4 148.7,267.1 148.9,266.6 149.0,266.4 149.2,266.0 149.3,265.6 149.5,265.4 149.7,265.1 149.9,264.7 150.2,264.4 150.4,264.1 150.6,263.9 150.8,263.6 151.1,263.4 151.3,263.1 151.6,262.9 151.9,262.6 152.2,262.5 152.4,262.3 152.7,262.1 153.1,261.9 153.4,261.7 153.7,261.6 154.1,261.4 154.4,261.2 154.8,261.1 155.1,261.0 155.6,260.9 155.9,260.8 156.4,260.7 156.8,260.6Z" fill="#5ec35e" fill-opacity="0.03" stroke="#6cc46c" stroke-opacity="0.85" stroke-width="0.5"/>
<path d="M156.4,261.6 156.7,261.5 157.1,261.5 157.7,261.4 158.2,261.4 158.6,261.4 159.2,261.4 159.7,261.4 160.2,261.5 160.6,261.6 160.9,261.7 161.4,261.8 161.7,261.9 162.2,262.0 162.4,262.1 162.8,262.4 163.2,262.5 163.4,262.6 163.8,262.9 164.1,263.1 164.4,263.3 164.7,263.5 164.9,263.7 165.2,263.9 165.4,264.2 165.7,264.4 165.9,264.7 166.2,265.1 166.4,265.4 166.5,265.6 166.7,265.9 166.9,266.3 167.0,266.6 167.2,266.9 167.3,267.4 167.4,267.8 167.5,268.1 167.6,268.6 167.6,269.1 167.6,269.6 167.6,270.1 167.5,270.6 167.4,271.0 167.3,271.4 167.2,271.9 167.1,272.1 166.9,272.5 166.7,272.9 166.6,273.1 166.4,273.4 166.1,273.7 165.9,274.1 165.7,274.4 165.4,274.6 165.2,274.9 164.9,275.1 164.7,275.3 164.4,275.5 164.2,275.7 163.9,275.9 163.5,276.1 163.2,276.3 162.9,276.4 162.5,276.6 162.2,276.8 161.9,276.9 161.4,277.0 161.1,277.1 160.7,277.2 160.2,277.3 159.7,277.4 159.4,277.4 158.9,277.4 158.4,277.4 157.9,277.4 157.4,277.4 157.2,277.3 156.7,277.3 156.2,277.2 155.9,277.1 155.4,276.9 155.1,276.9 154.7,276.7 154.4,276.6 154.0,276.4 153.7,276.2 153.4,276.0 153.1,275.9 152.7,275.6 152.4,275.4 152.2,275.1 151.9,274.9 151.7,274.7 151.4,274.4 151.2,274.1 150.9,273.9 150.7,273.6 150.6,273.4 150.4,273.0 150.2,272.6 150.0,272.4 149.9,272.0 149.8,271.6 149.7,271.2 149.6,270.9 149.5,270.4 149.4,269.9 149.4,269.4 149.4,268.9 149.5,268.4 149.6,267.9 149.7,267.6 149.8,267.1 149.9,266.8 150.1,266.4 150.2,266.1 150.4,265.8 150.7,265.4 150.8,265.1 151.0,264.9 151.2,264.6 151.4,264.4 151.7,264.1 151.9,263.9 152.2,263.6 152.5,263.4 152.9,263.1 153.2,262.9 153.4,262.8 153.7,262.6 154.2,262.4 154.4,262.2 154.7,262.1 155.2,261.9 155.4,261.9 155.9,261.7 156.4,261.6Z" fill="#5ec35e" fill-opacity="0.02" stroke="#7ccb7c" stroke-opacity="0.85" stroke-width="0.5"/>
<path d="M156.7,262.4 157.2,262.3 157.7,262.2 158.2,262.2 158.7,262.2 159.2,262.2 159.7,262.2 160.2,262.3 160.4,262.4 160.9,262.5 161.3,262.6 161.7,262.7 162.0,262.9 162.4,263.0 162.7,263.2 163.0,263.4 163.4,263.6 163.7,263.8 163.9,264.0 164.1,264.2 164.4,264.4 164.7,264.6 164.9,264.9 165.2,265.2 165.4,265.5 165.6,265.9 165.8,266.1 165.9,266.4 166.2,266.8 166.3,267.1 166.4,267.5 166.5,267.9 166.6,268.4 166.7,268.7 166.7,269.1 166.7,269.6 166.7,270.1 166.6,270.4 166.5,270.9 166.4,271.3 166.3,271.6 166.1,272.0 166.0,272.4 165.8,272.6 165.7,272.9 165.4,273.3 165.2,273.6 165.0,273.9 164.7,274.1 164.5,274.4 164.2,274.6 163.9,274.8 163.6,275.0 163.4,275.2 163.1,275.4 162.7,275.6 162.4,275.8 162.2,275.9 161.7,276.1 161.4,276.2 160.9,276.3 160.7,276.4 160.2,276.5 159.7,276.6 159.2,276.6 158.9,276.6 158.4,276.6 157.9,276.6 157.7,276.6 157.2,276.5 156.7,276.4 156.3,276.4 155.9,276.3 155.4,276.1 155.2,276.0 154.8,275.9 154.4,275.7 154.2,275.5 153.9,275.4 153.5,275.1 153.2,274.9 152.9,274.7 152.7,274.5 152.4,274.2 152.2,274.0 151.9,273.7 151.7,273.4 151.5,273.1 151.3,272.9 151.2,272.6 150.9,272.1 150.8,271.9 150.7,271.5 150.5,271.1 150.4,270.6 150.4,270.4 150.3,269.9 150.3,269.4 150.3,268.9 150.4,268.4 150.4,268.1 150.6,267.6 150.7,267.3 150.8,266.9 150.9,266.6 151.2,266.2 151.4,265.9 151.5,265.6 151.7,265.4 151.9,265.1 152.2,264.8 152.4,264.6 152.7,264.3 152.9,264.1 153.3,263.9 153.6,263.6 153.9,263.4 154.2,263.3 154.5,263.1 154.9,262.9 155.2,262.8 155.7,262.6 155.9,262.5 156.4,262.4 156.7,262.4Z" fill="#5ec35e" fill-opacity="0.02" stroke="#7ccb7c" stroke-opacity="0.85" stroke-width="0.5"/>
<path d="M157.0,263.1 157.4,263.0 157.9,263.0 158.4,263.0 158.9,263.0 159.4,263.0 159.9,263.1 160.2,263.1 160.7,263.2 161.0,263.4 161.4,263.5 161.7,263.6 162.2,263.8 162.4,264.0 162.7,264.1 163.0,264.4 163.4,264.6 163.7,264.8 163.9,265.1 164.2,265.3 164.4,265.6 164.6,265.9 164.8,266.1 164.9,266.4 165.2,266.7 165.3,267.1 165.4,267.4 165.6,267.9 165.6,268.1 165.7,268.6 165.8,269.1 165.8,269.6 165.8,270.1 165.7,270.6 165.6,270.9 165.5,271.4 165.4,271.6 165.2,272.1 165.0,272.4 164.8,272.6 164.7,272.9 164.4,273.2 164.1,273.5 163.9,273.7 163.7,274.0 163.4,274.2 163.2,274.4 162.8,274.6 162.4,274.8 162.1,275.0 161.9,275.1 161.4,275.3 161.2,275.4 160.7,275.6 160.4,275.6 159.9,275.7 159.4,275.8 158.9,275.8 158.4,275.8 157.9,275.8 157.4,275.8 156.9,275.7 156.5,275.6 156.2,275.5 155.7,275.4 155.4,275.2 155.1,275.1 154.7,274.9 154.4,274.7 154.2,274.6 153.8,274.4 153.5,274.1 153.2,273.9 153.0,273.6 152.7,273.4 152.5,273.1 152.3,272.9 152.2,272.6 151.9,272.1 151.7,271.9 151.6,271.6 151.5,271.1 151.4,270.9 151.3,270.4 151.2,269.9 151.2,269.4 151.2,268.9 151.3,268.4 151.4,267.9 151.5,267.6 151.7,267.2 151.8,266.9 151.9,266.6 152.2,266.2 152.4,265.9 152.6,265.6 152.8,265.4 153.1,265.1 153.3,264.9 153.6,264.6 153.9,264.4 154.2,264.2 154.4,264.1 154.8,263.9 155.2,263.7 155.4,263.6 155.9,263.4 156.2,263.3 156.7,263.2 157.0,263.1Z" fill="#5ec35e" fill-opacity="0.04" stroke="#6cc46c" stroke-opacity="0.85" stroke-width="0.5"/>
<path d="M157.3,263.9 157.7,263.8 158.2,263.8 158.7,263.7 159.2,263.8 159.7,263.8 159.9,263.9 160.4,264.0 160.7,264.1 161.2,264.3 161.4,264.4 161.9,264.6 162.2,264.8 162.4,264.9 162.7,265.1 163.0,265.4 163.2,265.6 163.5,265.9 163.7,266.1 163.9,266.4 164.2,266.7 164.3,267.1 164.5,267.4 164.7,267.8 164.7,268.1 164.8,268.6 164.9,269.1 164.9,269.4 164.9,269.6 164.9,270.1 164.8,270.6 164.7,271.0 164.5,271.4 164.4,271.6 164.2,272.1 164.0,272.4 163.8,272.6 163.6,272.9 163.3,273.1 163.1,273.4 162.8,273.6 162.4,273.9 162.1,274.0 161.9,274.2 161.6,274.4 161.2,274.5 160.9,274.6 160.4,274.8 160.2,274.9 159.7,275.0 159.2,275.0 158.7,275.0 158.2,275.0 157.7,275.0 157.2,274.9 156.8,274.9 156.4,274.7 156.0,274.6 155.7,274.5 155.4,274.3 154.9,274.1 154.7,273.9 154.4,273.7 154.2,273.5 153.9,273.3 153.7,273.1 153.4,272.8 153.2,272.5 152.9,272.1 152.7,271.9 152.6,271.6 152.4,271.1 152.3,270.9 152.2,270.4 152.1,270.1 152.1,269.6 152.1,269.1 152.2,268.7 152.2,268.4 152.3,267.9 152.4,267.6 152.6,267.1 152.8,266.9 152.9,266.6 153.2,266.3 153.4,266.0 153.7,265.7 153.9,265.5 154.2,265.3 154.4,265.1 154.7,264.9 155.1,264.6 155.4,264.5 155.7,264.3 156.2,264.1 156.4,264.1 156.9,263.9 157.3,263.9Z" fill="#5ec35e" fill-opacity="0.07" stroke="#55b955" stroke-opacity="0.85" stroke-width="0.5"/>
<path d="M157.7,264.6 158.2,264.6 158.7,264.5 159.2,264.6 159.4,264.6 159.9,264.7 160.4,264.8 160.7,264.9 161.1,265.1 161.4,265.3 161.7,265.4 161.9,265.6 162.3,265.9 162.5,266.1 162.8,266.4 163.0,266.6 163.2,266.9 163.4,267.2 163.6,267.6 163.7,267.9 163.9,268.4 163.9,268.6 164.0,269.1 164.0,269.6 163.9,270.1 163.9,270.4 163.8,270.9 163.7,271.1 163.4,271.6 163.3,271.9 163.1,272.1 162.9,272.4 162.6,272.6 162.4,272.9 162.1,273.1 161.7,273.4 161.4,273.5 161.2,273.7 160.7,273.9 160.4,274.0 159.9,274.1 159.7,274.2 159.2,274.2 158.6,274.3 158.1,274.2 157.7,274.2 157.2,274.1 156.9,274.0 156.4,273.9 156.2,273.8 155.7,273.6 155.4,273.4 155.2,273.3 154.9,273.1 154.6,272.9 154.4,272.6 154.1,272.4 153.9,272.1 153.7,271.7 153.5,271.4 153.3,271.1 153.2,270.6 153.1,270.4 153.0,269.9 153.0,269.4 153.0,268.9 153.1,268.4 153.2,268.1 153.4,267.6 153.5,267.4 153.7,267.1 153.9,266.7 154.2,266.4 154.4,266.2 154.7,265.9 154.9,265.7 155.2,265.5 155.5,265.4 155.9,265.1 156.2,265.0 156.6,264.9 156.9,264.8 157.4,264.6 157.7,264.6Z" fill="#5ec35e" fill-opacity="0.12" stroke="#45b045" stroke-opacity="0.85" stroke-width="0.5"/>
<path d="M158.1,265.4 158.4,265.3 158.8,265.4 159.2,265.4 159.6,265.5 160.1,265.6 160.4,265.7 160.7,265.9 161.2,266.1 161.4,266.2 161.7,266.4 161.9,266.7 162.2,266.9 162.4,267.2 162.6,267.6 162.8,267.9 162.9,268.2 163.0,268.6 163.1,269.1 163.1,269.6 163.0,270.1 162.9,270.6 162.8,270.9 162.7,271.2 162.4,271.6 162.2,271.9 161.9,272.1 161.7,272.4 161.4,272.6 161.2,272.7 160.9,272.9 160.4,273.1 160.2,273.2 159.7,273.3 159.4,273.4 158.9,273.4 158.4,273.5 157.9,273.4 157.4,273.4 157.2,273.3 156.7,273.1 156.4,273.0 156.1,272.9 155.7,272.6 155.4,272.4 155.2,272.2 154.9,271.9 154.7,271.6 154.5,271.4 154.3,271.1 154.2,270.7 154.0,270.4 153.9,269.9 153.9,269.5 153.9,269.3 153.9,268.9 154.1,268.4 154.2,268.1 154.4,267.6 154.5,267.4 154.7,267.1 154.9,266.9 155.2,266.6 155.5,266.4 155.8,266.1 156.2,265.9 156.4,265.8 156.9,265.6 157.2,265.5 157.6,265.4 158.1,265.4Z" fill="#5ec35e" fill-opacity="0.18" stroke="#3fae3f" stroke-opacity="0.85" stroke-width="0.5"/>
<path d="M157.3,266.4 157.7,266.3 158.2,266.2 158.7,266.2 159.2,266.2 159.7,266.3 159.9,266.4 160.3,266.6 160.7,266.8 160.9,267.0 161.2,267.2 161.4,267.4 161.7,267.8 161.9,268.1 162.0,268.4 162.1,268.9 162.1,269.1 162.2,269.6 162.1,269.9 162.0,270.4 161.9,270.6 161.7,271.0 161.4,271.4 161.2,271.6 160.9,271.8 160.7,272.0 160.4,272.2 160.0,272.4 159.7,272.5 159.2,272.6 158.9,272.6 158.4,272.6 158.0,272.6 157.7,272.5 157.2,272.4 156.9,272.3 156.5,272.1 156.2,271.9 155.9,271.7 155.7,271.4 155.4,271.1 155.2,270.9 155.1,270.6 154.9,270.1 154.9,269.9 154.8,269.4 154.9,268.9 155.0,268.6 155.1,268.1 155.3,267.9 155.5,267.6 155.7,267.4 155.9,267.1 156.3,266.9 156.7,266.6 156.9,266.5 157.3,266.4Z" fill="#5ec35e" fill-opacity="0.2" stroke="#3fae3f" stroke-opacity="0.85" stroke-width="0.5"/>
<path d="M157.6,267.1 157.9,267.0 158.4,267.0 158.9,267.0 159.4,267.1 159.7,267.2 160.0,267.4 160.4,267.6 160.6,267.9 160.8,268.1 161.0,268.4 161.2,268.7 161.2,269.1 161.2,269.6 161.2,270.1 161.0,270.4 160.9,270.6 160.7,270.9 160.4,271.2 160.2,271.4 159.7,271.6 159.4,271.7 158.9,271.8 158.4,271.8 157.9,271.8 157.4,271.6 157.2,271.5 156.9,271.4 156.5,271.1 156.3,270.9 156.1,270.6 155.9,270.2 155.8,269.9 155.7,269.4 155.8,268.9 155.9,268.6 156.2,268.1 156.4,267.9 156.6,267.6 156.9,267.4 157.2,267.3 157.6,267.1Z" fill="#5ec35e" fill-opacity="0.16" stroke="#3fae3f" stroke-opacity="0.85" stroke-width="0.5"/>
<path d="M158.0,268.4 158.4,268.3 158.9,268.3 159.2,268.4 159.4,268.6 159.7,268.9 159.8,269.4 159.7,269.9 159.5,270.1 159.2,270.4 158.9,270.5 158.4,270.5 157.9,270.4 157.7,270.3 157.4,270.0 157.2,269.6 157.3,269.1 157.4,268.8 157.7,268.5 158.0,268.4Z" fill="#fff" fill-opacity="0.9" stroke="none"/>
<rect x="142.4" y="208.6" width="83" height="83" fill="none" stroke="#777" stroke-width="0.8"/>
<rect x="149" y="227.6" width="51.3" height="35.5" fill="none" stroke="#505050" stroke-width="0.9"/>
<path d="M142.4,216.6h-2 M142.4,236.3h-2 M142.4,259.1h-2 M142.4,272.7h-2 M142.4,285.9h-2 M142.4,230.37h-1.2 M142.4,226.9h-1.2 M142.4,224.44h-1.2 M142.4,222.53h-1.2 M142.4,220.97h-1.2 M142.4,219.65h-1.2 M142.4,218.51h-1.2 M142.4,217.5h-1.2 M142.4,252.24h-1.2 M142.4,248.22h-1.2 M142.4,245.37h-1.2 M142.4,243.16h-1.2 M142.4,241.36h-1.2 M142.4,239.83h-1.2 M142.4,238.51h-1.2 M142.4,237.34h-1.2 M142.4,263.57h-1.2 M142.4,268.03h-1.2 M142.4,272.5h-1.2 M142.4,276.97h-1.2 M142.4,281.43h-1.2 M142.4,288.9h-1.2 M142.6,291.6v2 M158.4,291.6v2 M174.2,291.6v2 M190,291.6v2 M205.8,291.6v2 M221.6,291.6v2 M145.76,291.6v1.2 M148.92,291.6v1.2 M152.08,291.6v1.2 M155.24,291.6v1.2 M161.56,291.6v1.2 M164.72,291.6v1.2 M167.88,291.6v1.2 M171.04,291.6v1.2 M177.36,291.6v1.2 M180.52,291.6v1.2 M183.68,291.6v1.2 M186.84,291.6v1.2 M193.16,291.6v1.2 M196.32,291.6v1.2 M199.48,291.6v1.2 M202.64,291.6v1.2 M208.96,291.6v1.2 M212.12,291.6v1.2 M215.28,291.6v1.2 M218.44,291.6v1.2" stroke="#555" stroke-width="0.6" fill="none"/>
<rect x="140.2" y="271.1" width="2.1" height="3.3" rx="0.6" fill="#111"/>
<text x="137.8" y="218.5" font-size="5.2" text-anchor="end" fill="#444" stroke="#444" stroke-width="0.02">10<tspan font-size="3.5" dy="-2.1">5</tspan></text>
<text x="137.8" y="238.2" font-size="5.2" text-anchor="end" fill="#444" stroke="#444" stroke-width="0.02">10<tspan font-size="3.5" dy="-2.1">4</tspan></text>
<text x="137.8" y="261" font-size="5.2" text-anchor="end" fill="#444" stroke="#444" stroke-width="0.02">10<tspan font-size="3.5" dy="-2.1">3</tspan></text>
<text x="132.6" y="274.6" font-size="5.2" text-anchor="middle" fill="#444" stroke="#444" stroke-width="0.02">0</text>
<text x="137.8" y="287.8" font-size="5.2" text-anchor="end" fill="#444" stroke="#444" stroke-width="0.02">-10<tspan font-size="3.5" dy="-2.1">3</tspan></text>
<text x="142.6" y="300.6" font-size="5.2" text-anchor="middle" fill="#444" stroke="#444" stroke-width="0.02">0</text>
<text x="158.4" y="300.6" font-size="5.2" text-anchor="middle" fill="#444" stroke="#444" stroke-width="0.02">50K</text>
<text x="174.2" y="300.6" font-size="5.2" text-anchor="middle" fill="#444" stroke="#444" stroke-width="0.02">100K</text>
<text x="190" y="300.6" font-size="5.2" text-anchor="middle" fill="#444" stroke="#444" stroke-width="0.02">150K</text>
<text x="205.8" y="300.6" font-size="5.2" text-anchor="middle" fill="#444" stroke="#444" stroke-width="0.02">200K</text>
<text x="221.6" y="300.6" font-size="5.2" text-anchor="middle" fill="#444" stroke="#444" stroke-width="0.02">250K</text>
<text x="184.2" y="203" font-size="10.7" text-anchor="middle" fill="#0a0a0a" textLength="30.5" lengthAdjust="spacingAndGlyphs" stroke="#0a0a0a" stroke-width="0.12" >V/F-LV</text>
<text x="174.6" y="219.5" font-size="7.3" text-anchor="middle" fill="#111" stroke="#111" stroke-width="0.1" >GFP+ 8.20%</text>
<path d="M267.4,234.3 267.7,234.3 268.2,234.3 268.4,234.4 268.9,234.5 269.3,234.6 269.7,234.8 269.9,234.9 270.2,235.1 270.5,235.3 270.7,235.6 271.0,235.8 271.2,236.1 271.4,236.5 271.7,236.8 271.8,237.1 272.0,237.3 272.2,237.8 272.3,238.1 272.4,238.4 272.6,238.8 272.7,239.2 272.8,239.6 272.9,240.1 273.0,240.3 273.1,240.8 273.2,241.3 273.2,241.6 273.3,242.1 273.3,242.6 273.3,243.1 273.3,243.6 273.3,244.1 273.3,244.6 273.3,245.1 273.2,245.6 273.2,245.9 273.2,246.3 273.1,246.9 273.0,247.3 272.9,247.6 272.8,248.1 272.7,248.6 272.7,248.8 272.5,249.4 272.4,249.6 272.3,250.1 272.2,250.4 272.1,250.8 271.9,251.1 271.8,251.6 271.7,251.9 271.6,252.4 271.5,252.8 271.4,253.1 271.3,253.6 271.3,254.1 271.3,254.6 271.4,255.1 271.4,255.6 271.5,255.8 271.5,256.4 271.6,256.9 271.6,257.4 271.6,257.9 271.7,258.4 271.7,258.9 271.7,259.1 271.8,259.6 271.8,260.1 271.9,260.5 272.1,260.9 272.2,261.1 272.4,261.5 272.7,261.8 272.9,262.1 273.1,262.4 273.3,262.6 273.5,262.9 273.7,263.1 273.9,263.5 274.2,263.9 274.3,264.1 274.4,264.4 274.6,264.9 274.7,265.1 274.9,265.6 274.9,266.1 275.0,266.4 275.0,266.9 275.0,267.4 274.9,267.7 274.9,268.1 274.7,268.6 274.7,268.9 274.5,269.4 274.3,269.6 274.2,269.9 273.9,270.3 273.7,270.6 273.5,270.9 273.3,271.1 273.1,271.4 272.8,271.6 272.5,271.9 272.2,272.1 271.9,272.3 271.7,272.5 271.4,272.6 271.1,272.9 270.7,273.1 270.4,273.2 270.1,273.4 269.7,273.5 269.4,273.6 268.9,273.8 268.7,273.9 268.2,274.0 267.7,274.1 267.4,274.1 266.9,274.2 266.4,274.3 265.9,274.3 265.4,274.3 264.9,274.3 264.4,274.3 263.9,274.3 263.4,274.2 262.9,274.1 262.7,274.1 262.2,274.0 261.7,273.9 261.4,273.8 261.0,273.6 260.7,273.5 260.3,273.4 259.9,273.2 259.7,273.1 259.3,272.9 258.9,272.6 258.7,272.5 258.4,272.3 258.2,272.1 257.9,271.9 257.6,271.6 257.3,271.4 257.1,271.1 256.9,270.9 256.7,270.6 256.4,270.3 256.2,269.9 256.1,269.6 255.9,269.4 255.7,268.9 255.7,268.6 255.5,268.1 255.4,267.7 255.4,267.4 255.4,266.9 255.4,266.4 255.5,266.1 255.5,265.6 255.7,265.1 255.8,264.9 255.9,264.4 256.1,264.1 256.2,263.9 256.4,263.5 256.7,263.1 256.9,262.9 257.1,262.6 257.3,262.4 257.5,262.1 257.7,261.8 257.9,261.5 258.2,261.1 258.3,260.9 258.4,260.5 258.6,260.1 258.7,259.6 258.7,259.1 258.7,258.9 258.7,258.4 258.8,257.9 258.8,257.4 258.9,256.9 258.9,256.6 259.0,256.1 259.1,255.6 259.2,255.3 259.3,254.8 259.4,254.5 259.6,254.1 259.7,253.7 259.8,253.3 259.9,252.9 260.0,252.6 260.1,252.1 260.2,251.8 260.2,251.3 260.3,250.9 260.3,250.3 260.3,249.8 260.3,249.3 260.3,248.8 260.3,248.3 260.3,247.9 260.3,247.4 260.3,246.9 260.3,246.3 260.3,245.8 260.4,245.3 260.4,244.8 260.5,244.6 260.6,244.1 260.7,243.6 260.7,243.3 260.8,242.8 260.9,242.3 261.0,242.1 261.2,241.6 261.2,241.4 261.4,240.8 261.5,240.6 261.7,240.1 261.8,239.8 261.9,239.5 262.2,239.1 262.3,238.9 262.4,238.5 262.7,238.1 262.9,237.8 263.0,237.6 263.2,237.3 263.4,237.0 263.7,236.7 263.9,236.4 264.2,236.1 264.4,235.9 264.7,235.7 264.9,235.4 265.2,235.3 265.4,235.1 265.9,234.9 266.2,234.7 266.4,234.6 266.9,234.4 267.4,234.3Z" fill="#5ec35e" fill-opacity="0.03" stroke="#6cc46c" stroke-opacity="0.85" stroke-width="0.5"/>
<path d="M266.6,236.3 266.9,236.3 267.4,236.2 267.9,236.2 268.4,236.3 268.7,236.3 269.2,236.6 269.4,236.7 269.7,236.9 269.9,237.1 270.2,237.4 270.4,237.6 270.7,238.0 270.9,238.3 271.1,238.6 271.2,238.9 271.4,239.3 271.5,239.6 271.7,240.1 271.8,240.3 271.9,240.8 272.0,241.1 272.1,241.6 272.1,242.1 272.2,242.6 272.2,242.8 272.2,243.3 272.3,243.8 272.2,244.3 272.2,244.8 272.2,245.3 272.2,245.6 272.1,246.1 272.1,246.6 272.0,247.1 271.9,247.3 271.8,247.8 271.7,248.3 271.6,248.6 271.5,249.1 271.4,249.3 271.2,249.8 271.1,250.1 270.9,250.6 270.9,250.8 270.7,251.3 270.6,251.6 270.4,252.0 270.3,252.4 270.2,252.8 270.2,253.1 270.2,253.6 270.2,254.1 270.2,254.4 270.3,254.8 270.3,255.3 270.4,255.9 270.5,256.1 270.5,256.6 270.6,257.1 270.7,257.6 270.7,258.1 270.7,258.4 270.7,258.9 270.7,259.4 270.8,259.9 270.8,260.4 270.9,260.7 271.1,261.1 271.2,261.4 271.4,261.7 271.7,262.0 271.9,262.4 272.1,262.6 272.4,262.9 272.5,263.1 272.7,263.4 272.9,263.7 273.2,264.1 273.4,264.4 273.5,264.6 273.7,265.1 273.8,265.4 273.9,265.9 274.0,266.1 274.0,266.6 274.0,267.1 274.0,267.6 273.9,267.9 273.8,268.4 273.7,268.7 273.5,269.1 273.4,269.4 273.2,269.7 272.9,270.1 272.7,270.4 272.5,270.6 272.3,270.9 272.1,271.1 271.8,271.4 271.5,271.6 271.2,271.8 270.9,272.0 270.7,272.1 270.3,272.4 269.9,272.5 269.7,272.6 269.2,272.8 268.9,272.9 268.5,273.1 268.2,273.2 267.7,273.3 267.4,273.4 266.9,273.4 266.5,273.5 265.9,273.6 265.4,273.6 264.9,273.6 264.4,273.6 263.9,273.5 263.4,273.4 262.9,273.4 262.7,273.3 262.2,273.2 261.9,273.1 261.4,272.9 261.2,272.8 260.7,272.6 260.4,272.5 260.1,272.4 259.7,272.1 259.4,272.0 259.2,271.8 258.9,271.6 258.6,271.4 258.3,271.1 258.1,270.9 257.9,270.6 257.7,270.4 257.4,270.1 257.2,269.7 257.0,269.4 256.9,269.1 256.7,268.7 256.6,268.4 256.5,267.9 256.4,267.6 256.4,267.1 256.4,266.6 256.4,266.1 256.5,265.9 256.6,265.4 256.7,265.1 256.9,264.6 257.0,264.4 257.2,264.1 257.4,263.7 257.7,263.4 257.9,263.1 258.0,262.9 258.3,262.6 258.5,262.4 258.7,262.0 258.9,261.7 259.2,261.4 259.3,261.1 259.4,260.7 259.6,260.4 259.6,259.9 259.7,259.4 259.7,258.9 259.7,258.6 259.7,258.1 259.8,257.6 259.8,257.1 259.9,256.6 260.0,256.4 260.1,255.8 260.2,255.6 260.3,255.1 260.4,254.8 260.6,254.3 260.7,254.1 260.9,253.6 261.0,253.3 261.2,252.8 261.2,252.6 261.3,252.1 261.4,251.6 261.5,251.3 261.5,250.8 261.5,250.3 261.4,249.9 261.4,249.6 261.4,249.1 261.4,248.6 261.3,248.1 261.3,247.6 261.3,247.1 261.4,246.6 261.4,246.1 261.4,245.6 261.4,245.3 261.5,244.8 261.6,244.3 261.7,243.8 261.7,243.6 261.9,243.1 261.9,242.7 262.1,242.3 262.2,241.9 262.3,241.6 262.4,241.2 262.6,240.8 262.7,240.6 262.9,240.1 263.1,239.9 263.2,239.6 263.4,239.2 263.7,238.8 263.9,238.6 264.1,238.4 264.3,238.1 264.5,237.9 264.7,237.6 265.0,237.3 265.3,237.1 265.6,236.9 265.9,236.7 266.2,236.5 266.6,236.3Z" fill="#5ec35e" fill-opacity="0.02" stroke="#7ccb7c" stroke-opacity="0.85" stroke-width="0.5"/>
<path d="M266.7,238.1 267.2,238.0 267.7,238.0 268.2,238.1 268.4,238.1 268.8,238.3 269.2,238.6 269.4,238.8 269.7,239.1 269.9,239.3 270.1,239.6 270.2,239.8 270.4,240.3 270.6,240.6 270.7,241.0 270.8,241.3 270.9,241.8 271.0,242.1 271.1,242.6 271.1,243.1 271.2,243.6 271.2,243.8 271.2,244.3 271.2,244.8 271.2,245.1 271.2,245.6 271.1,246.1 271.0,246.6 270.9,247.0 270.9,247.4 270.7,247.8 270.7,248.1 270.5,248.6 270.4,248.8 270.3,249.3 270.2,249.6 269.9,250.1 269.8,250.4 269.7,250.7 269.5,251.1 269.4,251.3 269.2,251.8 269.1,252.1 269.0,252.6 268.9,253.0 268.9,253.3 268.9,253.6 269.0,254.1 269.1,254.6 269.2,254.9 269.3,255.3 269.4,255.9 269.5,256.1 269.6,256.6 269.7,257.1 269.7,257.4 269.8,257.9 269.8,258.4 269.8,258.9 269.8,259.4 269.8,259.9 269.9,260.4 269.9,260.7 270.1,261.1 270.2,261.4 270.4,261.8 270.7,262.1 270.9,262.4 271.1,262.6 271.3,262.9 271.5,263.1 271.7,263.4 271.9,263.6 272.2,264.0 272.4,264.4 272.6,264.6 272.7,264.9 272.9,265.4 273.0,265.6 273.1,266.1 273.1,266.6 273.1,267.1 273.1,267.6 273.0,268.1 272.9,268.4 272.7,268.9 272.6,269.1 272.4,269.4 272.2,269.7 271.9,270.1 271.7,270.3 271.5,270.6 271.2,270.8 270.9,271.0 270.7,271.2 270.4,271.4 270.1,271.6 269.7,271.9 269.4,272.0 269.2,272.1 268.7,272.3 268.4,272.4 267.9,272.5 267.7,272.6 267.2,272.7 266.7,272.8 266.3,272.9 265.9,272.9 265.4,272.9 264.9,272.9 264.4,272.9 264.1,272.9 263.7,272.8 263.2,272.7 262.7,272.6 262.4,272.5 261.9,272.4 261.7,272.3 261.2,272.1 260.9,272.0 260.7,271.9 260.3,271.6 259.9,271.4 259.7,271.2 259.4,271.0 259.2,270.8 258.9,270.6 258.7,270.3 258.4,270.1 258.2,269.7 258.0,269.4 257.8,269.1 257.7,268.9 257.5,268.4 257.4,268.1 257.3,267.6 257.3,267.1 257.3,266.6 257.3,266.1 257.4,265.6 257.5,265.4 257.7,264.9 257.8,264.6 258.0,264.4 258.2,264.0 258.4,263.6 258.7,263.4 258.9,263.1 259.1,262.9 259.3,262.6 259.5,262.4 259.7,262.1 259.9,261.8 260.2,261.4 260.3,261.1 260.4,260.7 260.5,260.4 260.6,259.9 260.6,259.4 260.6,258.9 260.6,258.4 260.7,257.9 260.7,257.6 260.8,257.1 260.9,256.6 261.0,256.4 261.1,255.8 261.2,255.6 261.4,255.1 261.5,254.9 261.7,254.4 261.8,254.1 262.0,253.8 262.2,253.3 262.3,253.1 262.4,252.7 262.6,252.3 262.7,251.8 262.7,251.6 262.7,251.1 262.7,250.7 262.7,250.3 262.6,249.8 262.5,249.4 262.5,248.8 262.4,248.4 262.4,248.1 262.4,247.6 262.4,247.1 262.4,246.6 262.4,246.1 262.4,245.6 262.5,245.3 262.5,244.8 262.6,244.3 262.7,244.0 262.8,243.6 262.9,243.1 263.0,242.8 263.2,242.4 263.3,242.1 263.4,241.7 263.6,241.3 263.7,241.1 263.9,240.7 264.1,240.3 264.3,240.1 264.5,239.8 264.7,239.6 264.9,239.3 265.2,239.0 265.4,238.8 265.7,238.6 266.1,238.3 266.4,238.2 266.7,238.1Z" fill="#5ec35e" fill-opacity="0.02" stroke="#7ccb7c" stroke-opacity="0.85" stroke-width="0.5"/>
<path d="M266.8,240.1 267.2,240.0 267.7,240.1 267.9,240.1 268.4,240.3 268.7,240.6 268.9,240.8 269.1,241.1 269.3,241.3 269.4,241.7 269.6,242.1 269.7,242.4 269.8,242.8 269.9,243.3 270.0,243.6 270.0,244.1 270.0,244.6 270.0,245.1 270.0,245.6 269.9,245.8 269.9,246.3 269.8,246.8 269.7,247.2 269.6,247.6 269.4,248.0 269.3,248.3 269.2,248.6 269.0,249.1 268.8,249.3 268.7,249.6 268.4,250.0 268.2,250.4 268.1,250.6 267.9,250.8 267.7,251.1 267.4,251.5 267.3,251.8 267.2,252.1 267.1,252.6 267.1,253.1 267.2,253.3 267.4,253.8 267.5,254.1 267.7,254.5 267.9,254.8 268.0,255.1 268.2,255.6 268.3,255.8 268.4,256.4 268.5,256.6 268.6,257.1 268.7,257.5 268.7,257.9 268.8,258.4 268.8,258.9 268.8,259.4 268.8,259.9 268.8,260.4 268.9,260.9 269.0,261.1 269.2,261.6 269.4,261.9 269.6,262.1 269.8,262.4 270.0,262.6 270.2,262.9 270.5,263.1 270.7,263.4 270.9,263.7 271.2,264.0 271.4,264.3 271.6,264.6 271.8,264.9 271.9,265.3 272.1,265.6 272.2,266.1 272.2,266.4 272.3,266.9 272.2,267.4 272.2,267.6 272.1,268.1 271.9,268.5 271.8,268.9 271.6,269.1 271.4,269.4 271.2,269.7 271.0,270.0 270.7,270.3 270.4,270.5 270.2,270.7 269.9,270.9 269.6,271.1 269.2,271.3 268.9,271.4 268.6,271.6 268.2,271.8 267.9,271.9 267.4,272.0 266.9,272.1 266.7,272.1 266.2,272.2 265.7,272.2 265.2,272.3 264.7,272.2 264.2,272.2 263.7,272.1 263.4,272.1 262.9,272.0 262.5,271.9 262.2,271.8 261.8,271.6 261.4,271.4 261.2,271.3 260.8,271.1 260.4,270.9 260.2,270.7 259.9,270.5 259.7,270.3 259.4,270.0 259.2,269.7 258.9,269.4 258.8,269.1 258.6,268.9 258.4,268.5 258.3,268.1 258.2,267.6 258.2,267.4 258.1,266.9 258.2,266.4 258.2,266.1 258.3,265.6 258.4,265.3 258.6,264.9 258.8,264.6 258.9,264.3 259.2,264.0 259.4,263.7 259.7,263.4 259.9,263.1 260.2,262.9 260.4,262.6 260.6,262.4 260.8,262.1 261.0,261.9 261.2,261.6 261.4,261.1 261.5,260.9 261.6,260.4 261.6,259.9 261.6,259.4 261.6,258.9 261.6,258.4 261.7,257.9 261.7,257.6 261.8,257.1 261.9,256.6 262.0,256.4 262.2,256.0 262.4,255.6 262.5,255.3 262.7,255.0 262.9,254.6 263.1,254.3 263.3,254.1 263.5,253.8 263.7,253.6 263.9,253.3 264.2,252.9 264.4,252.6 264.5,252.3 264.6,251.8 264.5,251.4 264.4,251.0 264.3,250.6 264.2,250.2 264.1,249.8 264.0,249.4 263.9,249.1 263.8,248.6 263.7,248.2 263.7,247.9 263.6,247.3 263.6,246.8 263.6,246.3 263.6,245.9 263.6,245.3 263.7,245.0 263.8,244.6 263.9,244.1 264.0,243.8 264.1,243.3 264.2,243.1 264.4,242.6 264.5,242.3 264.7,242.0 264.9,241.6 265.2,241.4 265.4,241.1 265.6,240.9 265.9,240.6 266.2,240.4 266.4,240.2 266.8,240.1Z" fill="#5ec35e" fill-opacity="0.04" stroke="#6cc46c" stroke-opacity="0.85" stroke-width="0.5"/>
<path d="M266.6,243.1 266.9,243.0 267.4,243.1 267.7,243.3 267.9,243.6 268.1,243.8 268.2,244.2 268.3,244.6 268.3,245.1 268.3,245.6 268.2,246.1 268.2,246.4 268.0,246.8 267.9,247.1 267.7,247.5 267.4,247.8 267.2,248.0 266.9,248.2 266.4,248.3 266.0,248.1 265.8,247.8 265.6,247.6 265.4,247.2 265.4,246.8 265.3,246.3 265.3,245.8 265.3,245.3 265.4,244.8 265.5,244.6 265.7,244.1 265.9,243.9 266.0,243.6 266.2,243.4 266.6,243.1ZM264.6,255.3 265.0,255.2 265.4,255.2 265.9,255.3 266.2,255.5 266.4,255.7 266.7,256.0 266.9,256.3 267.1,256.6 267.2,256.9 267.4,257.4 267.4,257.6 267.5,258.1 267.6,258.6 267.6,259.1 267.5,259.6 267.5,260.1 267.5,260.6 267.7,261.1 267.8,261.4 267.9,261.7 268.2,262.0 268.4,262.3 268.7,262.5 268.9,262.7 269.2,263.0 269.4,263.2 269.7,263.5 269.9,263.7 270.2,264.0 270.4,264.3 270.7,264.6 270.8,264.9 271.0,265.1 271.2,265.6 271.3,265.9 271.4,266.4 271.4,266.9 271.4,267.4 271.3,267.9 271.2,268.1 271.0,268.6 270.8,268.9 270.7,269.1 270.4,269.4 270.2,269.7 269.9,269.9 269.7,270.1 269.4,270.4 269.0,270.6 268.7,270.8 268.4,270.9 268.0,271.1 267.7,271.2 267.2,271.3 266.9,271.4 266.4,271.5 265.9,271.6 265.4,271.6 264.9,271.6 264.4,271.6 263.9,271.5 263.4,271.4 263.2,271.3 262.7,271.2 262.4,271.1 261.9,270.9 261.7,270.8 261.4,270.6 261.0,270.4 260.7,270.1 260.4,269.9 260.2,269.7 259.9,269.4 259.7,269.1 259.6,268.9 259.4,268.6 259.2,268.1 259.1,267.9 259.0,267.4 259.0,266.9 259.0,266.4 259.1,265.9 259.2,265.6 259.4,265.1 259.6,264.9 259.7,264.6 259.9,264.3 260.2,264.0 260.4,263.7 260.7,263.5 260.9,263.2 261.2,263.0 261.4,262.7 261.7,262.5 261.9,262.3 262.2,262.0 262.4,261.7 262.6,261.4 262.7,261.1 262.9,260.6 262.9,260.1 262.9,259.6 262.8,259.1 262.8,258.6 262.9,258.1 262.9,257.7 263.1,257.4 263.2,256.9 263.4,256.6 263.5,256.4 263.7,256.1 263.9,255.8 264.2,255.6 264.6,255.3Z" fill="#5ec35e" fill-opacity="0.07" stroke="#55b955" stroke-opacity="0.85" stroke-width="0.5"/>
<path d="M264.4,261.9 264.7,261.7 265.2,261.6 265.7,261.7 266.0,261.9 266.4,262.1 266.7,262.2 266.9,262.4 267.3,262.6 267.7,262.9 267.9,263.0 268.2,263.2 268.4,263.4 268.7,263.6 269.0,263.9 269.2,264.1 269.5,264.4 269.7,264.6 269.9,265.0 270.2,265.4 270.3,265.6 270.4,266.1 270.5,266.4 270.5,266.9 270.5,267.4 270.4,267.6 270.3,268.1 270.2,268.4 269.9,268.7 269.7,269.1 269.4,269.3 269.2,269.6 268.9,269.8 268.7,269.9 268.4,270.1 268.0,270.4 267.7,270.5 267.3,270.6 266.9,270.7 266.4,270.8 266.2,270.9 265.7,270.9 265.2,270.9 264.7,270.9 264.2,270.9 263.9,270.8 263.4,270.7 263.1,270.6 262.7,270.5 262.4,270.4 262.0,270.1 261.7,269.9 261.4,269.8 261.2,269.6 260.9,269.3 260.7,269.1 260.4,268.7 260.2,268.4 260.1,268.1 260.0,267.6 259.9,267.4 259.9,266.9 259.9,266.4 260.0,266.1 260.1,265.6 260.2,265.4 260.4,265.0 260.7,264.6 260.9,264.4 261.2,264.1 261.4,263.9 261.7,263.6 261.9,263.4 262.2,263.2 262.4,263.0 262.7,262.9 263.1,262.6 263.4,262.4 263.7,262.2 263.9,262.1 264.4,261.9Z" fill="#5ec35e" fill-opacity="0.12" stroke="#45b045" stroke-opacity="0.85" stroke-width="0.5"/>
<path d="M264.5,263.1 264.9,263.0 265.4,263.0 265.9,263.1 266.2,263.2 266.7,263.3 266.9,263.5 267.2,263.6 267.7,263.9 267.9,264.0 268.2,264.2 268.4,264.4 268.7,264.7 268.9,265.0 269.2,265.3 269.3,265.6 269.5,265.9 269.6,266.4 269.7,266.9 269.6,267.4 269.5,267.9 269.4,268.1 269.2,268.4 268.9,268.7 268.7,269.0 268.4,269.2 268.2,269.4 267.9,269.6 267.4,269.8 267.2,269.9 266.7,270.1 266.4,270.1 265.9,270.2 265.4,270.3 264.9,270.3 264.4,270.2 263.9,270.1 263.7,270.1 263.2,269.9 262.9,269.8 262.5,269.6 262.2,269.4 261.9,269.2 261.7,269.0 261.4,268.7 261.2,268.4 261.0,268.1 260.9,267.9 260.8,267.4 260.7,266.9 260.8,266.4 260.9,265.9 261.1,265.6 261.2,265.3 261.4,265.0 261.7,264.7 261.9,264.4 262.2,264.2 262.4,264.0 262.7,263.9 263.2,263.6 263.4,263.5 263.7,263.3 264.2,263.2 264.5,263.1Z" fill="#5ec35e" fill-opacity="0.18" stroke="#3fae3f" stroke-opacity="0.85" stroke-width="0.5"/>
<path d="M264.2,264.1 264.4,264.0 264.9,264.0 265.4,264.0 265.9,264.0 266.2,264.1 266.7,264.3 266.9,264.4 267.3,264.6 267.7,264.9 267.9,265.1 268.2,265.4 268.4,265.6 268.5,265.9 268.7,266.4 268.7,266.6 268.7,267.1 268.7,267.4 268.5,267.9 268.4,268.1 268.2,268.4 267.9,268.6 267.6,268.9 267.2,269.1 266.9,269.2 266.6,269.4 266.2,269.5 265.7,269.5 265.2,269.6 264.7,269.5 264.2,269.5 263.8,269.4 263.4,269.2 263.2,269.1 262.8,268.9 262.5,268.6 262.2,268.4 262.0,268.1 261.9,267.9 261.7,267.4 261.7,267.1 261.7,266.6 261.7,266.4 261.9,265.9 262.0,265.6 262.2,265.4 262.5,265.1 262.7,264.9 263.1,264.6 263.4,264.4 263.7,264.3 264.2,264.1Z" fill="#5ec35e" fill-opacity="0.2" stroke="#3fae3f" stroke-opacity="0.85" stroke-width="0.5"/>
<path d="M264.3,264.9 264.7,264.8 265.2,264.7 265.7,264.8 266.1,264.9 266.4,265.0 266.7,265.1 267.1,265.4 267.3,265.6 267.5,265.9 267.7,266.1 267.8,266.6 267.8,267.1 267.7,267.6 267.5,267.9 267.3,268.1 267.0,268.4 266.7,268.5 266.4,268.7 265.9,268.8 265.7,268.9 265.2,268.9 264.7,268.9 264.4,268.8 263.9,268.7 263.7,268.5 263.4,268.4 263.1,268.1 262.9,267.9 262.7,267.6 262.6,267.1 262.6,266.6 262.7,266.1 262.9,265.9 263.1,265.6 263.3,265.4 263.7,265.1 263.9,265.0 264.3,264.9Z" fill="#5ec35e" fill-opacity="0.16" stroke="#3fae3f" stroke-opacity="0.85" stroke-width="0.5"/>
<path d="M264.4,266.1 264.7,266.0 265.2,265.9 265.7,266.0 266.0,266.1 266.3,266.4 266.4,266.8 266.4,266.9 266.3,267.4 266.0,267.6 265.7,267.7 265.2,267.8 264.7,267.7 264.4,267.6 264.1,267.4 263.9,266.9 263.9,266.8 264.1,266.4 264.4,266.1Z" fill="#fff" fill-opacity="0.9" stroke="none"/>
<rect x="249.2" y="208.6" width="83" height="83" fill="none" stroke="#777" stroke-width="0.8"/>
<rect x="255.8" y="227.6" width="51.3" height="35.5" fill="none" stroke="#505050" stroke-width="0.9"/>
<path d="M249.2,216.6h-2 M249.2,236.3h-2 M249.2,259.1h-2 M249.2,272.7h-2 M249.2,285.9h-2 M249.2,230.37h-1.2 M249.2,226.9h-1.2 M249.2,224.44h-1.2 M249.2,222.53h-1.2 M249.2,220.97h-1.2 M249.2,219.65h-1.2 M249.2,218.51h-1.2 M249.2,217.5h-1.2 M249.2,252.24h-1.2 M249.2,248.22h-1.2 M249.2,245.37h-1.2 M249.2,243.16h-1.2 M249.2,241.36h-1.2 M249.2,239.83h-1.2 M249.2,238.51h-1.2 M249.2,237.34h-1.2 M249.2,263.57h-1.2 M249.2,268.03h-1.2 M249.2,272.5h-1.2 M249.2,276.97h-1.2 M249.2,281.43h-1.2 M249.2,288.9h-1.2 M249.4,291.6v2 M265.2,291.6v2 M281,291.6v2 M296.8,291.6v2 M312.6,291.6v2 M328.4,291.6v2 M252.56,291.6v1.2 M255.72,291.6v1.2 M258.88,291.6v1.2 M262.04,291.6v1.2 M268.36,291.6v1.2 M271.52,291.6v1.2 M274.68,291.6v1.2 M277.84,291.6v1.2 M284.16,291.6v1.2 M287.32,291.6v1.2 M290.48,291.6v1.2 M293.64,291.6v1.2 M299.96,291.6v1.2 M303.12,291.6v1.2 M306.28,291.6v1.2 M309.44,291.6v1.2 M315.76,291.6v1.2 M318.92,291.6v1.2 M322.08,291.6v1.2 M325.24,291.6v1.2" stroke="#555" stroke-width="0.6" fill="none"/>
<rect x="247" y="271.1" width="2.1" height="3.3" rx="0.6" fill="#111"/>
<text x="244.6" y="218.5" font-size="5.2" text-anchor="end" fill="#444" stroke="#444" stroke-width="0.02">10<tspan font-size="3.5" dy="-2.1">5</tspan></text>
<text x="244.6" y="238.2" font-size="5.2" text-anchor="end" fill="#444" stroke="#444" stroke-width="0.02">10<tspan font-size="3.5" dy="-2.1">4</tspan></text>
<text x="244.6" y="261" font-size="5.2" text-anchor="end" fill="#444" stroke="#444" stroke-width="0.02">10<tspan font-size="3.5" dy="-2.1">3</tspan></text>
<text x="239.4" y="274.6" font-size="5.2" text-anchor="middle" fill="#444" stroke="#444" stroke-width="0.02">0</text>
<text x="244.6" y="287.8" font-size="5.2" text-anchor="end" fill="#444" stroke="#444" stroke-width="0.02">-10<tspan font-size="3.5" dy="-2.1">3</tspan></text>
<text x="249.4" y="300.6" font-size="5.2" text-anchor="middle" fill="#444" stroke="#444" stroke-width="0.02">0</text>
<text x="265.2" y="300.6" font-size="5.2" text-anchor="middle" fill="#444" stroke="#444" stroke-width="0.02">50K</text>
<text x="281" y="300.6" font-size="5.2" text-anchor="middle" fill="#444" stroke="#444" stroke-width="0.02">100K</text>
<text x="296.8" y="300.6" font-size="5.2" text-anchor="middle" fill="#444" stroke="#444" stroke-width="0.02">150K</text>
<text x="312.6" y="300.6" font-size="5.2" text-anchor="middle" fill="#444" stroke="#444" stroke-width="0.02">200K</text>
<text x="328.4" y="300.6" font-size="5.2" text-anchor="middle" fill="#444" stroke="#444" stroke-width="0.02">250K</text>
<text x="291" y="203" font-size="10.7" text-anchor="middle" fill="#0a0a0a" textLength="40.9" lengthAdjust="spacingAndGlyphs" stroke="#0a0a0a" stroke-width="0.12" >V/HN-LV</text>
<text x="281.4" y="219.5" font-size="7.3" text-anchor="middle" fill="#111" stroke="#111" stroke-width="0.1" >GFP+ 38.1%</text>
<path d="M370.8,237.4 371.3,237.2 371.8,237.2 372.3,237.2 372.8,237.2 373.2,237.3 373.6,237.5 373.8,237.6 374.2,237.8 374.5,238.1 374.8,238.3 375.1,238.6 375.3,238.8 375.5,239.1 375.7,239.3 375.9,239.6 376.1,239.8 376.3,240.3 376.5,240.6 376.6,240.9 376.8,241.3 376.9,241.6 377.1,241.9 377.2,242.4 377.3,242.7 377.4,243.1 377.5,243.6 377.6,243.8 377.7,244.4 377.8,244.8 377.8,245.1 377.9,245.6 377.9,246.1 377.9,246.6 377.9,247.1 377.9,247.6 377.9,248.1 377.9,248.6 377.8,249.1 377.8,249.4 377.7,249.9 377.6,250.3 377.5,250.7 377.5,251.1 377.4,251.6 377.3,252.0 377.3,252.3 377.2,252.8 377.2,253.3 377.2,253.8 377.3,254.3 377.3,254.6 377.4,255.1 377.5,255.6 377.6,255.8 377.7,256.4 377.8,256.8 377.9,257.1 377.9,257.6 378.0,258.1 378.0,258.6 378.1,258.9 378.1,259.4 378.1,259.9 378.2,260.4 378.3,260.6 378.5,261.1 378.6,261.4 378.8,261.6 379.1,261.9 379.3,262.2 379.6,262.5 379.8,262.8 380.1,263.1 380.3,263.4 380.5,263.6 380.6,263.9 380.8,264.2 381.0,264.6 381.1,264.9 381.3,265.3 381.4,265.6 381.5,266.1 381.5,266.6 381.5,267.1 381.5,267.6 381.3,268.1 381.3,268.4 381.1,268.9 381.0,269.1 380.8,269.4 380.6,269.8 380.4,270.1 380.2,270.4 380.0,270.6 379.7,270.9 379.5,271.1 379.2,271.4 378.9,271.6 378.6,271.8 378.3,272.0 378.0,272.1 377.7,272.4 377.3,272.5 377.1,272.7 376.6,272.9 376.3,273.0 375.9,273.1 375.6,273.2 375.1,273.3 374.8,273.4 374.3,273.5 373.8,273.5 373.3,273.6 373.1,273.6 372.6,273.6 372.1,273.6 371.6,273.6 371.3,273.6 370.8,273.5 370.3,273.5 369.8,273.4 369.6,273.3 369.1,273.2 368.7,273.1 368.3,273.0 368.0,272.9 367.6,272.7 367.3,272.5 366.9,272.4 366.6,272.1 366.3,272.0 366.1,271.8 365.7,271.6 365.4,271.4 365.1,271.1 364.9,270.9 364.6,270.6 364.4,270.4 364.2,270.1 364.1,269.8 363.8,269.4 363.6,269.1 363.5,268.9 363.3,268.4 363.3,268.1 363.1,267.6 363.1,267.1 363.1,266.6 363.1,266.1 363.2,265.6 363.3,265.3 363.5,264.9 363.6,264.6 363.8,264.1 364.0,263.9 364.1,263.6 364.3,263.4 364.6,263.0 364.8,262.7 365.1,262.4 365.3,262.1 365.4,261.9 365.6,261.6 365.8,261.2 365.9,260.9 366.0,260.4 366.1,260.1 366.1,259.6 366.1,259.1 366.2,258.6 366.2,258.1 366.3,257.6 366.3,257.3 366.4,256.9 366.5,256.4 366.6,256.0 366.6,255.6 366.7,255.1 366.8,254.8 366.9,254.3 366.9,253.8 366.9,253.3 366.9,252.9 366.8,252.4 366.7,252.1 366.6,251.6 366.6,251.2 366.5,250.8 366.4,250.3 366.3,249.9 366.3,249.6 366.2,249.1 366.1,248.6 366.1,248.1 366.1,247.6 366.1,247.1 366.1,246.6 366.1,246.1 366.1,245.6 366.2,245.1 366.3,244.6 366.3,244.4 366.4,243.8 366.5,243.3 366.6,243.1 366.7,242.6 366.8,242.3 367.0,241.8 367.1,241.6 367.3,241.1 367.4,240.8 367.6,240.5 367.8,240.1 367.9,239.8 368.1,239.6 368.3,239.3 368.6,239.0 368.8,238.7 369.1,238.5 369.3,238.2 369.6,238.0 369.8,237.8 370.2,237.6 370.6,237.5 370.8,237.4Z" fill="#5ec35e" fill-opacity="0.03" stroke="#6cc46c" stroke-opacity="0.85" stroke-width="0.5"/>
<path d="M371.4,238.8 371.8,238.8 372.3,238.8 372.6,238.8 373.1,239.0 373.3,239.1 373.8,239.3 374.1,239.5 374.3,239.7 374.6,240.0 374.8,240.2 375.0,240.6 375.3,240.8 375.4,241.1 375.6,241.3 375.8,241.8 376.0,242.1 376.1,242.3 376.3,242.8 376.3,243.1 376.5,243.6 376.6,243.8 376.7,244.3 376.8,244.8 376.8,245.1 376.9,245.6 376.9,246.1 376.9,246.6 377.0,247.1 376.9,247.6 376.9,248.1 376.9,248.6 376.8,249.1 376.8,249.3 376.7,249.8 376.6,250.3 376.5,250.6 376.4,251.1 376.3,251.6 376.2,251.8 376.1,252.3 376.1,252.8 376.0,253.1 376.1,253.6 376.1,253.8 376.2,254.3 376.3,254.8 376.4,255.1 376.5,255.6 376.6,255.8 376.7,256.4 376.8,256.6 376.9,257.1 377.0,257.6 377.1,257.9 377.1,258.4 377.2,258.9 377.2,259.4 377.2,259.9 377.3,260.4 377.3,260.6 377.5,261.1 377.6,261.4 377.8,261.7 378.1,262.0 378.3,262.3 378.5,262.6 378.8,262.9 379.0,263.1 379.2,263.4 379.4,263.6 379.6,263.9 379.8,264.2 380.0,264.6 380.2,264.9 380.3,265.2 380.4,265.6 380.5,266.1 380.6,266.4 380.6,266.9 380.6,267.3 380.5,267.6 380.4,268.1 380.3,268.4 380.1,268.9 380.0,269.1 379.8,269.4 379.5,269.8 379.3,270.1 379.1,270.4 378.8,270.6 378.6,270.8 378.3,271.0 378.1,271.2 377.8,271.4 377.5,271.6 377.1,271.8 376.8,272.0 376.5,272.1 376.0,272.3 375.8,272.4 375.3,272.5 375.0,272.6 374.6,272.7 374.1,272.8 373.7,272.9 373.3,272.9 372.8,272.9 372.3,273.0 371.8,272.9 371.3,272.9 370.9,272.9 370.6,272.8 370.1,272.7 369.6,272.6 369.3,272.5 368.8,272.4 368.6,272.3 368.1,272.1 367.8,272.0 367.6,271.8 367.1,271.6 366.8,271.4 366.5,271.2 366.3,271.0 366.1,270.8 365.8,270.6 365.5,270.4 365.3,270.1 365.1,269.8 364.8,269.4 364.6,269.1 364.5,268.9 364.3,268.4 364.2,268.1 364.1,267.6 364.1,267.3 364.0,266.9 364.0,266.4 364.1,266.1 364.2,265.6 364.3,265.2 364.4,264.9 364.6,264.6 364.8,264.2 365.0,263.9 365.2,263.6 365.4,263.4 365.6,263.1 365.8,262.8 366.1,262.5 366.3,262.2 366.5,261.9 366.6,261.6 366.8,261.2 366.9,260.9 367.0,260.4 367.0,259.9 367.0,259.4 367.0,258.9 367.1,258.6 367.1,258.1 367.2,257.6 367.3,257.1 367.3,256.9 367.4,256.4 367.6,255.9 367.6,255.6 367.8,255.1 367.8,254.9 368.0,254.3 368.0,253.8 368.0,253.3 368.0,252.8 367.9,252.3 367.8,251.9 367.7,251.6 367.6,251.1 367.5,250.8 367.4,250.4 367.3,249.8 367.3,249.6 367.2,249.1 367.1,248.6 367.1,248.1 367.1,247.6 367.1,247.1 367.1,246.6 367.1,246.1 367.1,245.6 367.2,245.1 367.3,244.6 367.3,244.3 367.4,243.9 367.6,243.5 367.7,243.1 367.8,242.7 367.9,242.3 368.1,242.1 368.3,241.6 368.4,241.3 368.6,241.1 368.8,240.8 369.1,240.4 369.3,240.1 369.6,239.9 369.8,239.7 370.1,239.5 370.3,239.3 370.7,239.1 371.1,238.9 371.4,238.8Z" fill="#5ec35e" fill-opacity="0.02" stroke="#7ccb7c" stroke-opacity="0.85" stroke-width="0.5"/>
<path d="M371.0,240.6 371.3,240.5 371.8,240.4 372.3,240.4 372.8,240.5 373.1,240.6 373.5,240.8 373.8,241.1 374.1,241.3 374.3,241.6 374.5,241.9 374.7,242.1 374.8,242.3 375.1,242.7 375.2,243.1 375.3,243.3 375.5,243.8 375.6,244.1 375.7,244.6 375.8,245.0 375.9,245.3 375.9,245.8 376.0,246.3 376.0,246.9 376.0,247.4 376.0,247.8 375.9,248.4 375.9,248.8 375.8,249.3 375.7,249.6 375.6,250.1 375.5,250.3 375.4,250.8 375.3,251.2 375.2,251.6 375.1,252.0 375.0,252.3 374.9,252.9 374.8,253.3 374.9,253.8 375.0,254.3 375.1,254.6 375.3,255.1 375.4,255.3 375.6,255.7 375.7,256.1 375.8,256.4 376.0,256.9 376.1,257.2 376.2,257.6 376.2,258.1 376.3,258.6 376.3,258.9 376.3,259.4 376.4,259.9 376.4,260.4 376.5,260.9 376.6,261.2 376.7,261.6 376.9,261.9 377.1,262.1 377.3,262.4 377.6,262.6 377.8,262.9 378.0,263.1 378.3,263.4 378.5,263.7 378.8,264.0 379.0,264.4 379.2,264.6 379.3,264.9 379.5,265.4 379.6,265.6 379.7,266.1 379.8,266.6 379.7,267.1 379.7,267.6 379.6,268.1 379.5,268.4 379.3,268.7 379.1,269.1 378.9,269.4 378.7,269.6 378.5,269.9 378.3,270.1 378.0,270.4 377.7,270.6 377.4,270.9 377.1,271.1 376.8,271.2 376.5,271.3 376.1,271.6 375.8,271.7 375.3,271.9 375.1,271.9 374.6,272.1 374.3,272.1 373.8,272.2 373.3,272.3 372.8,272.3 372.3,272.3 371.8,272.3 371.3,272.3 370.8,272.2 370.3,272.1 370.1,272.1 369.6,271.9 369.3,271.9 368.8,271.7 368.6,271.6 368.1,271.4 367.8,271.2 367.6,271.1 367.2,270.9 366.9,270.6 366.6,270.4 366.3,270.1 366.1,269.9 365.9,269.6 365.7,269.4 365.5,269.1 365.3,268.7 365.1,268.4 365.1,268.1 364.9,267.6 364.9,267.1 364.8,266.6 364.9,266.1 365.0,265.6 365.1,265.4 365.3,264.9 365.4,264.6 365.6,264.4 365.8,264.0 366.1,263.7 366.3,263.4 366.5,263.1 366.7,262.9 367.0,262.6 367.2,262.4 367.3,262.1 367.5,261.7 367.7,261.4 367.8,260.9 367.8,260.6 367.9,260.1 367.9,259.6 367.9,259.1 367.9,258.6 368.0,258.1 368.0,257.6 368.1,257.4 368.2,256.9 368.3,256.6 368.5,256.1 368.6,255.9 368.7,255.3 368.8,255.1 369.0,254.6 369.1,254.3 369.2,253.8 369.2,253.3 369.2,252.8 369.1,252.3 369.0,252.1 368.9,251.6 368.8,251.3 368.6,250.8 368.5,250.6 368.4,250.1 368.3,249.7 368.2,249.4 368.1,248.9 368.1,248.4 368.0,248.1 368.0,247.6 368.0,247.1 368.0,246.6 368.0,246.1 368.1,245.8 368.1,245.4 368.2,244.8 368.3,244.5 368.4,244.1 368.6,243.7 368.7,243.3 368.8,243.1 369.0,242.6 369.2,242.4 369.3,242.1 369.5,241.8 369.8,241.5 370.1,241.2 370.3,241.0 370.6,240.8 371.0,240.6Z" fill="#5ec35e" fill-opacity="0.02" stroke="#7ccb7c" stroke-opacity="0.85" stroke-width="0.5"/>
<path d="M371.3,242.3 371.6,242.2 372.1,242.2 372.6,242.3 372.8,242.4 373.2,242.6 373.5,242.8 373.7,243.1 373.9,243.3 374.1,243.6 374.3,244.1 374.4,244.3 374.6,244.7 374.7,245.1 374.8,245.6 374.8,245.8 374.9,246.3 374.9,246.8 374.9,247.3 374.9,247.8 374.8,248.3 374.8,248.6 374.7,249.1 374.6,249.6 374.5,249.9 374.3,250.3 374.1,250.6 374.0,250.8 373.8,251.3 373.6,251.6 373.4,251.8 373.3,252.1 373.1,252.5 372.9,252.9 372.8,253.3 373.0,253.9 373.2,254.1 373.4,254.3 373.6,254.6 373.8,254.9 374.1,255.3 374.3,255.6 374.4,255.8 374.6,256.1 374.8,256.5 374.9,256.9 375.1,257.2 375.2,257.6 375.3,258.1 375.3,258.4 375.4,258.9 375.4,259.4 375.4,259.9 375.4,260.4 375.5,260.9 375.6,261.3 375.7,261.6 375.8,261.9 376.1,262.1 376.3,262.4 376.5,262.7 376.8,262.9 377.1,263.2 377.3,263.4 377.6,263.7 377.8,264.0 378.1,264.3 378.3,264.6 378.4,264.9 378.5,265.1 378.8,265.6 378.8,265.9 378.9,266.4 378.9,266.9 378.9,267.4 378.8,267.8 378.7,268.1 378.6,268.5 378.3,268.9 378.2,269.1 378.0,269.4 377.8,269.6 377.5,269.9 377.2,270.1 376.9,270.4 376.6,270.6 376.3,270.7 376.1,270.9 375.6,271.1 375.3,271.2 374.8,271.4 374.6,271.4 374.0,271.6 373.8,271.6 373.3,271.7 372.8,271.7 372.3,271.7 371.8,271.7 371.3,271.7 370.8,271.6 370.6,271.6 370.1,271.4 369.8,271.4 369.3,271.2 369.1,271.1 368.6,270.9 368.3,270.7 368.1,270.6 367.7,270.4 367.4,270.1 367.1,269.9 366.8,269.6 366.6,269.4 366.4,269.1 366.3,268.9 366.1,268.5 365.9,268.1 365.8,267.8 365.7,267.4 365.7,266.9 365.7,266.4 365.8,265.9 365.8,265.6 366.0,265.1 366.2,264.9 366.3,264.6 366.6,264.3 366.8,263.9 367.1,263.6 367.3,263.4 367.5,263.1 367.8,262.9 368.0,262.6 368.2,262.4 368.4,262.1 368.6,261.8 368.7,261.4 368.8,260.9 368.8,260.6 368.8,260.1 368.8,259.6 368.8,259.1 368.8,258.6 368.9,258.1 369.0,257.6 369.1,257.4 369.3,256.9 369.4,256.6 369.6,256.2 369.7,255.8 369.9,255.6 370.1,255.3 370.3,255.0 370.6,254.6 370.8,254.4 370.9,254.1 371.1,253.8 371.3,253.3 371.2,252.8 371.1,252.6 370.8,252.2 370.6,251.8 370.4,251.6 370.3,251.3 370.1,251.0 369.9,250.6 369.7,250.3 369.6,249.9 369.5,249.6 369.3,249.1 369.3,248.8 369.2,248.3 369.1,247.8 369.1,247.3 369.1,246.8 369.1,246.3 369.2,245.8 369.3,245.4 369.3,245.1 369.5,244.6 369.6,244.3 369.8,243.9 369.9,243.6 370.1,243.4 370.3,243.1 370.6,242.8 370.8,242.6 371.3,242.3Z" fill="#5ec35e" fill-opacity="0.04" stroke="#6cc46c" stroke-opacity="0.85" stroke-width="0.5"/>
<path d="M371.7,244.9 372.0,244.8 372.3,244.8 372.7,245.1 372.9,245.3 373.1,245.6 373.3,246.1 373.3,246.3 373.4,246.8 373.4,247.3 373.3,247.9 373.3,248.1 373.1,248.6 372.9,248.8 372.8,249.1 372.5,249.3 372.1,249.5 371.6,249.4 371.3,249.2 371.1,248.8 370.9,248.6 370.8,248.3 370.7,247.9 370.6,247.3 370.6,246.8 370.7,246.3 370.8,245.9 370.9,245.6 371.1,245.3 371.3,245.1 371.7,244.9ZM372.0,256.1 372.2,256.1 372.6,256.2 372.9,256.4 373.2,256.6 373.5,256.9 373.7,257.1 373.8,257.4 374.0,257.9 374.1,258.1 374.2,258.6 374.3,259.1 374.3,259.6 374.2,260.1 374.2,260.6 374.3,261.1 374.3,261.4 374.6,261.8 374.8,262.1 375.0,262.4 375.3,262.6 375.6,262.8 375.8,263.0 376.1,263.3 376.3,263.5 376.6,263.7 376.8,263.9 377.1,264.2 377.3,264.5 377.5,264.9 377.7,265.1 377.8,265.4 378.0,265.9 378.1,266.1 378.1,266.6 378.1,267.1 378.0,267.5 378.0,267.9 377.8,268.2 377.6,268.6 377.4,268.9 377.2,269.1 377.0,269.4 376.7,269.6 376.4,269.9 376.1,270.1 375.8,270.3 375.5,270.4 375.1,270.6 374.8,270.7 374.3,270.9 374.1,270.9 373.6,271.0 373.1,271.1 372.8,271.1 372.3,271.1 371.8,271.1 371.6,271.1 371.1,271.0 370.6,270.9 370.3,270.9 369.8,270.7 369.5,270.6 369.1,270.4 368.8,270.3 368.5,270.1 368.2,269.9 367.9,269.6 367.6,269.4 367.4,269.1 367.2,268.9 367.0,268.6 366.8,268.2 366.6,267.9 366.6,267.5 366.5,267.1 366.5,266.6 366.5,266.1 366.6,265.9 366.8,265.4 366.9,265.1 367.1,264.8 367.3,264.5 367.6,264.2 367.8,263.9 368.1,263.6 368.3,263.4 368.6,263.2 368.8,262.9 369.1,262.7 369.3,262.4 369.6,262.1 369.7,261.9 369.9,261.6 370.0,261.1 370.0,260.6 370.0,260.1 369.9,259.6 369.9,259.1 370.0,258.6 370.1,258.2 370.2,257.9 370.3,257.5 370.5,257.1 370.7,256.9 370.9,256.6 371.3,256.4 371.6,256.2 372.0,256.1Z" fill="#5ec35e" fill-opacity="0.07" stroke="#55b955" stroke-opacity="0.85" stroke-width="0.5"/>
<path d="M371.8,262.1 372.1,262.0 372.6,262.1 372.8,262.2 373.2,262.4 373.6,262.5 373.8,262.7 374.1,262.9 374.5,263.1 374.8,263.3 375.1,263.4 375.3,263.6 375.6,263.9 375.9,264.1 376.2,264.4 376.4,264.6 376.6,264.9 376.8,265.1 377.1,265.6 377.2,265.9 377.3,266.4 377.3,266.6 377.3,266.9 377.3,267.4 377.1,267.9 377.0,268.1 376.8,268.4 376.6,268.8 376.3,269.0 376.1,269.3 375.8,269.5 375.6,269.6 375.1,269.9 374.8,270.0 374.6,270.1 374.1,270.3 373.8,270.4 373.3,270.4 372.8,270.5 372.3,270.5 371.8,270.5 371.3,270.4 370.8,270.4 370.5,270.3 370.1,270.1 369.8,270.0 369.5,269.9 369.1,269.6 368.8,269.5 368.6,269.3 368.3,269.0 368.1,268.8 367.8,268.4 367.6,268.1 367.5,267.9 367.3,267.4 367.3,267.0 367.3,266.6 367.3,266.4 367.4,265.9 367.6,265.6 367.8,265.1 368.0,264.9 368.2,264.6 368.4,264.4 368.6,264.1 368.9,263.9 369.2,263.6 369.6,263.4 369.8,263.2 370.1,263.0 370.3,262.8 370.7,262.6 371.1,262.4 371.3,262.3 371.8,262.1Z" fill="#5ec35e" fill-opacity="0.12" stroke="#45b045" stroke-opacity="0.85" stroke-width="0.5"/>
<path d="M371.5,263.4 371.8,263.3 372.3,263.3 372.8,263.3 373.1,263.4 373.6,263.5 373.8,263.6 374.3,263.8 374.6,264.0 374.8,264.1 375.1,264.4 375.4,264.6 375.6,264.9 375.9,265.1 376.1,265.4 376.3,265.8 376.4,266.1 376.5,266.6 376.5,267.1 376.3,267.6 376.2,267.9 376.1,268.2 375.8,268.5 375.5,268.7 375.3,269.0 375.1,269.1 374.7,269.4 374.3,269.5 374.1,269.6 373.6,269.8 373.1,269.9 372.8,269.9 372.3,269.9 371.8,269.9 371.5,269.9 371.1,269.8 370.6,269.6 370.3,269.5 369.9,269.4 369.6,269.1 369.3,269.0 369.1,268.7 368.8,268.5 368.6,268.2 368.4,267.9 368.3,267.6 368.1,267.1 368.1,266.6 368.2,266.1 368.3,265.8 368.5,265.4 368.7,265.1 368.9,264.9 369.2,264.6 369.5,264.4 369.8,264.1 370.1,263.9 370.3,263.8 370.7,263.6 371.1,263.5 371.5,263.4Z" fill="#5ec35e" fill-opacity="0.18" stroke="#3fae3f" stroke-opacity="0.85" stroke-width="0.5"/>
<path d="M371.0,264.4 371.3,264.2 371.8,264.1 372.3,264.1 372.8,264.1 373.3,264.3 373.6,264.4 374.1,264.6 374.3,264.7 374.6,264.9 374.8,265.1 375.1,265.4 375.3,265.7 375.5,266.1 375.6,266.4 375.6,266.9 375.6,267.3 375.4,267.6 375.3,267.9 375.1,268.2 374.8,268.4 374.6,268.6 374.1,268.9 373.8,269.0 373.5,269.1 373.1,269.2 372.6,269.3 372.0,269.3 371.6,269.2 371.1,269.1 370.8,269.0 370.5,268.9 370.1,268.6 369.8,268.4 369.6,268.2 369.3,267.9 369.2,267.6 369.1,267.3 369.0,266.9 369.0,266.4 369.1,266.1 369.3,265.7 369.5,265.4 369.8,265.1 370.1,264.9 370.3,264.7 370.6,264.5 371.0,264.4Z" fill="#5ec35e" fill-opacity="0.2" stroke="#3fae3f" stroke-opacity="0.85" stroke-width="0.5"/>
<path d="M371.7,264.9 372.1,264.8 372.6,264.8 372.8,264.9 373.3,265.0 373.6,265.1 374.0,265.4 374.3,265.6 374.5,265.9 374.6,266.1 374.8,266.6 374.8,266.9 374.8,267.1 374.6,267.6 374.3,267.9 374.1,268.1 373.8,268.3 373.5,268.4 373.1,268.6 372.8,268.6 372.3,268.6 371.8,268.6 371.6,268.6 371.1,268.4 370.8,268.3 370.5,268.1 370.2,267.9 370.0,267.6 369.8,267.1 369.8,266.9 369.8,266.6 369.9,266.1 370.1,265.9 370.3,265.6 370.6,265.4 371.0,265.1 371.3,265.0 371.7,264.9Z" fill="#5ec35e" fill-opacity="0.16" stroke="#3fae3f" stroke-opacity="0.85" stroke-width="0.5"/>
<path d="M372.3,265.9 372.3,265.9 372.8,265.9 373.1,266.1 373.3,266.4 373.5,266.9 373.3,267.2 373.1,267.4 372.7,267.6 372.3,267.6 371.9,267.6 371.6,267.4 371.3,267.2 371.1,266.9 371.2,266.4 371.5,266.1 371.8,265.9 372.3,265.9Z" fill="#fff" fill-opacity="0.9" stroke="none"/>
<rect x="355.8" y="208.6" width="83" height="83" fill="none" stroke="#777" stroke-width="0.8"/>
<rect x="362.4" y="227.6" width="51.3" height="35.5" fill="none" stroke="#505050" stroke-width="0.9"/>
<path d="M355.8,216.6h-2 M355.8,236.3h-2 M355.8,259.1h-2 M355.8,272.7h-2 M355.8,285.9h-2 M355.8,230.37h-1.2 M355.8,226.9h-1.2 M355.8,224.44h-1.2 M355.8,222.53h-1.2 M355.8,220.97h-1.2 M355.8,219.65h-1.2 M355.8,218.51h-1.2 M355.8,217.5h-1.2 M355.8,252.24h-1.2 M355.8,248.22h-1.2 M355.8,245.37h-1.2 M355.8,243.16h-1.2 M355.8,241.36h-1.2 M355.8,239.83h-1.2 M355.8,238.51h-1.2 M355.8,237.34h-1.2 M355.8,263.57h-1.2 M355.8,268.03h-1.2 M355.8,272.5h-1.2 M355.8,276.97h-1.2 M355.8,281.43h-1.2 M355.8,288.9h-1.2 M356,291.6v2 M371.8,291.6v2 M387.6,291.6v2 M403.4,291.6v2 M419.2,291.6v2 M435,291.6v2 M359.16,291.6v1.2 M362.32,291.6v1.2 M365.48,291.6v1.2 M368.64,291.6v1.2 M374.96,291.6v1.2 M378.12,291.6v1.2 M381.28,291.6v1.2 M384.44,291.6v1.2 M390.76,291.6v1.2 M393.92,291.6v1.2 M397.08,291.6v1.2 M400.24,291.6v1.2 M406.56,291.6v1.2 M409.72,291.6v1.2 M412.88,291.6v1.2 M416.04,291.6v1.2 M422.36,291.6v1.2 M425.52,291.6v1.2 M428.68,291.6v1.2 M431.84,291.6v1.2" stroke="#555" stroke-width="0.6" fill="none"/>
<rect x="353.6" y="271.1" width="2.1" height="3.3" rx="0.6" fill="#111"/>
<text x="351.2" y="218.5" font-size="5.2" text-anchor="end" fill="#444" stroke="#444" stroke-width="0.02">10<tspan font-size="3.5" dy="-2.1">5</tspan></text>
<text x="351.2" y="238.2" font-size="5.2" text-anchor="end" fill="#444" stroke="#444" stroke-width="0.02">10<tspan font-size="3.5" dy="-2.1">4</tspan></text>
<text x="351.2" y="261" font-size="5.2" text-anchor="end" fill="#444" stroke="#444" stroke-width="0.02">10<tspan font-size="3.5" dy="-2.1">3</tspan></text>
<text x="346" y="274.6" font-size="5.2" text-anchor="middle" fill="#444" stroke="#444" stroke-width="0.02">0</text>
<text x="351.2" y="287.8" font-size="5.2" text-anchor="end" fill="#444" stroke="#444" stroke-width="0.02">-10<tspan font-size="3.5" dy="-2.1">3</tspan></text>
<text x="356" y="300.6" font-size="5.2" text-anchor="middle" fill="#444" stroke="#444" stroke-width="0.02">0</text>
<text x="371.8" y="300.6" font-size="5.2" text-anchor="middle" fill="#444" stroke="#444" stroke-width="0.02">50K</text>
<text x="387.6" y="300.6" font-size="5.2" text-anchor="middle" fill="#444" stroke="#444" stroke-width="0.02">100K</text>
<text x="403.4" y="300.6" font-size="5.2" text-anchor="middle" fill="#444" stroke="#444" stroke-width="0.02">150K</text>
<text x="419.2" y="300.6" font-size="5.2" text-anchor="middle" fill="#444" stroke="#444" stroke-width="0.02">200K</text>
<text x="435" y="300.6" font-size="5.2" text-anchor="middle" fill="#444" stroke="#444" stroke-width="0.02">250K</text>
<text x="397.6" y="203" font-size="10.7" text-anchor="middle" fill="#0a0a0a" textLength="49.9" lengthAdjust="spacingAndGlyphs" stroke="#0a0a0a" stroke-width="0.12" >V/F/HN-LV</text>
<text x="388" y="219.5" font-size="7.3" text-anchor="middle" fill="#111" stroke="#111" stroke-width="0.1" >GFP+ 41.5%</text>
<path d="M477.4,265.9 477.8,265.8 478.2,265.7 478.8,265.7 479.2,265.6 479.7,265.6 480.2,265.6 480.8,265.7 481.2,265.7 481.8,265.7 482.2,265.8 482.5,265.9 483.0,266.0 483.5,266.1 483.8,266.2 484.2,266.3 484.5,266.4 485.0,266.6 485.2,266.7 485.5,266.9 486.0,267.1 486.2,267.3 486.5,267.5 486.8,267.7 487.0,267.9 487.3,268.1 487.5,268.4 487.8,268.8 487.9,269.1 488.0,269.5 488.1,269.9 488.1,270.4 488.0,270.7 487.9,271.1 487.8,271.4 487.5,271.8 487.3,272.1 487.0,272.3 486.8,272.5 486.5,272.7 486.2,272.9 486.0,273.1 485.5,273.4 485.2,273.5 485.0,273.6 484.5,273.8 484.2,273.9 483.8,274.0 483.5,274.1 483.0,274.2 482.5,274.3 482.2,274.4 481.8,274.5 481.2,274.5 480.8,274.5 480.2,274.6 479.7,274.6 479.2,274.6 478.8,274.5 478.2,274.5 477.8,274.4 477.4,274.4 477.0,274.3 476.5,274.2 476.2,274.1 475.8,274.0 475.5,273.9 475.0,273.7 474.8,273.6 474.3,273.4 474.0,273.2 473.8,273.0 473.5,272.9 473.1,272.6 472.8,272.4 472.6,272.1 472.4,271.9 472.2,271.6 472.0,271.3 471.8,270.9 471.8,270.5 471.7,270.1 471.8,269.7 471.8,269.4 472.0,268.9 472.2,268.6 472.4,268.4 472.6,268.1 472.8,267.9 473.1,267.6 473.5,267.4 473.8,267.2 474.0,267.0 474.3,266.9 474.8,266.6 475.0,266.5 475.5,266.4 475.8,266.2 476.2,266.1 476.5,266.0 477.0,265.9 477.4,265.9Z" fill="#5ec35e" fill-opacity="0.03" stroke="#6cc46c" stroke-opacity="0.85" stroke-width="0.5"/>
<path d="M479.4,266.1 479.8,266.1 480.2,266.1 480.5,266.1 481.0,266.1 481.5,266.2 482.0,266.2 482.5,266.3 482.8,266.4 483.2,266.5 483.5,266.6 484.0,266.8 484.2,266.9 484.8,267.1 485.0,267.2 485.3,267.4 485.7,267.6 486.0,267.9 486.2,268.1 486.5,268.3 486.7,268.6 486.9,268.9 487.0,269.1 487.2,269.6 487.2,270.0 487.2,270.2 487.2,270.6 487.0,271.1 486.9,271.4 486.7,271.6 486.5,271.9 486.2,272.1 486.0,272.4 485.7,272.6 485.3,272.9 485.0,273.0 484.8,273.1 484.2,273.3 484.0,273.4 483.5,273.6 483.2,273.7 482.8,273.8 482.5,273.9 482.0,274.0 481.5,274.0 481.0,274.1 480.5,274.1 480.2,274.1 479.8,274.1 479.4,274.1 479.0,274.1 478.5,274.0 478.0,274.0 477.5,273.9 477.2,273.8 476.8,273.7 476.3,273.6 476.0,273.5 475.6,273.4 475.2,273.2 475.0,273.1 474.5,272.9 474.2,272.7 474.0,272.5 473.8,272.3 473.5,272.1 473.2,271.8 473.0,271.5 472.8,271.1 472.7,270.9 472.6,270.4 472.6,269.9 472.7,269.4 472.8,269.1 473.0,268.7 473.2,268.4 473.5,268.1 473.8,267.9 474.0,267.7 474.2,267.5 474.5,267.4 475.0,267.1 475.2,267.0 475.6,266.9 476.0,266.7 476.3,266.6 476.8,266.5 477.2,266.4 477.5,266.3 478.0,266.2 478.5,266.2 479.0,266.1 479.4,266.1Z" fill="#5ec35e" fill-opacity="0.02" stroke="#7ccb7c" stroke-opacity="0.85" stroke-width="0.5"/>
<path d="M478.3,266.6 478.8,266.5 479.2,266.5 479.8,266.5 480.2,266.5 480.8,266.5 481.2,266.6 481.5,266.6 482.0,266.7 482.5,266.8 482.8,266.9 483.2,267.0 483.6,267.1 484.0,267.3 484.2,267.4 484.7,267.6 485.0,267.8 485.2,268.0 485.5,268.2 485.8,268.4 486.0,268.7 486.2,269.1 486.4,269.4 486.5,269.8 486.5,270.1 486.5,270.4 486.4,270.9 486.2,271.1 486.0,271.5 485.8,271.8 485.5,272.0 485.2,272.2 485.0,272.4 484.7,272.6 484.2,272.8 484.0,272.9 483.6,273.1 483.2,273.2 482.8,273.4 482.5,273.4 482.0,273.5 481.5,273.6 481.2,273.6 480.8,273.7 480.2,273.7 479.8,273.7 479.2,273.7 478.8,273.7 478.3,273.6 478.0,273.6 477.5,273.5 477.0,273.4 476.8,273.3 476.2,273.1 476.0,273.0 475.6,272.9 475.2,272.7 475.0,272.5 474.7,272.4 474.4,272.1 474.1,271.9 473.9,271.6 473.7,271.4 473.5,271.0 473.3,270.6 473.3,270.1 473.3,269.6 473.5,269.2 473.7,268.9 473.9,268.6 474.1,268.4 474.4,268.1 474.7,267.9 475.0,267.7 475.2,267.5 475.6,267.4 476.0,267.2 476.2,267.1 476.8,266.9 477.0,266.9 477.5,266.7 478.0,266.6 478.3,266.6Z" fill="#5ec35e" fill-opacity="0.02" stroke="#7ccb7c" stroke-opacity="0.85" stroke-width="0.5"/>
<path d="M477.8,267.1 478.2,267.0 478.8,266.9 479.2,266.9 479.8,266.9 480.2,266.9 480.8,266.9 481.2,267.0 481.8,267.0 482.0,267.1 482.5,267.2 483.0,267.4 483.2,267.4 483.6,267.6 484.0,267.8 484.2,267.9 484.5,268.1 484.9,268.4 485.1,268.6 485.3,268.9 485.5,269.1 485.7,269.6 485.8,269.9 485.8,270.4 485.7,270.6 485.5,271.1 485.3,271.4 485.1,271.6 484.9,271.9 484.5,272.1 484.2,272.3 484.0,272.4 483.6,272.6 483.2,272.8 483.0,272.9 482.5,273.0 482.0,273.1 481.8,273.2 481.2,273.2 480.8,273.3 480.2,273.3 479.8,273.3 479.2,273.3 478.8,273.3 478.2,273.2 477.8,273.1 477.5,273.0 477.0,272.9 476.8,272.8 476.2,272.6 476.0,272.5 475.7,272.4 475.3,272.1 475.0,271.9 474.8,271.7 474.5,271.4 474.3,271.1 474.2,270.9 474.0,270.4 474.0,270.1 474.0,269.9 474.2,269.4 474.3,269.1 474.5,268.8 474.8,268.5 475.0,268.3 475.3,268.1 475.7,267.9 476.0,267.7 476.2,267.6 476.8,267.4 477.0,267.3 477.5,267.2 477.8,267.1Z" fill="#5ec35e" fill-opacity="0.04" stroke="#6cc46c" stroke-opacity="0.85" stroke-width="0.5"/>
<path d="M478.7,267.4 479.0,267.3 479.5,267.3 480.0,267.3 480.5,267.3 481.0,267.3 481.2,267.4 481.8,267.5 482.2,267.6 482.5,267.7 483.0,267.8 483.3,267.9 483.6,268.1 484.0,268.4 484.2,268.6 484.5,268.8 484.7,269.1 484.9,269.4 485.0,269.6 485.1,270.1 485.0,270.6 484.9,270.9 484.7,271.1 484.5,271.4 484.2,271.6 484.0,271.9 483.6,272.1 483.3,272.3 483.0,272.4 482.5,272.5 482.2,272.6 481.8,272.7 481.2,272.8 481.0,272.9 480.5,272.9 480.0,272.9 479.5,272.9 479.0,272.9 478.7,272.9 478.2,272.8 477.8,272.7 477.5,272.6 477.0,272.4 476.8,272.3 476.2,272.1 476.0,272.0 475.7,271.8 475.5,271.6 475.2,271.3 475.0,271.0 474.8,270.6 474.7,270.4 474.7,269.9 474.8,269.6 475.0,269.2 475.2,268.9 475.5,268.6 475.7,268.4 476.0,268.2 476.2,268.1 476.8,267.9 477.0,267.8 477.5,267.6 477.8,267.5 478.2,267.4 478.7,267.4Z" fill="#5ec35e" fill-opacity="0.07" stroke="#55b955" stroke-opacity="0.85" stroke-width="0.5"/>
<path d="M478.2,267.9 478.5,267.8 479.0,267.7 479.5,267.7 480.0,267.7 480.5,267.7 481.0,267.7 481.5,267.8 481.8,267.9 482.2,268.0 482.5,268.1 483.0,268.4 483.2,268.5 483.5,268.7 483.8,268.9 484.0,269.2 484.2,269.6 484.3,269.9 484.3,270.4 484.2,270.6 484.0,271.0 483.8,271.3 483.5,271.5 483.2,271.7 483.0,271.9 482.5,272.1 482.2,272.2 481.8,272.3 481.5,272.4 481.0,272.5 480.5,272.5 480.0,272.5 479.5,272.5 479.0,272.5 478.5,272.4 478.2,272.4 477.8,272.2 477.4,272.1 477.0,271.9 476.8,271.8 476.4,271.6 476.1,271.4 475.8,271.1 475.7,270.9 475.5,270.4 475.4,270.1 475.5,269.8 475.7,269.4 475.8,269.1 476.1,268.9 476.4,268.6 476.8,268.4 477.0,268.3 477.4,268.1 477.8,268.0 478.2,267.9Z" fill="#5ec35e" fill-opacity="0.12" stroke="#45b045" stroke-opacity="0.85" stroke-width="0.5"/>
<path d="M479.2,268.1 479.5,268.1 480.0,268.1 480.5,268.1 480.7,268.1 481.2,268.2 481.8,268.3 482.0,268.4 482.4,268.6 482.8,268.8 483.0,269.0 483.2,269.2 483.5,269.6 483.6,269.9 483.6,270.4 483.5,270.6 483.2,271.0 483.0,271.2 482.8,271.4 482.4,271.6 482.0,271.8 481.8,271.9 481.2,272.0 480.7,272.1 480.5,272.1 480.0,272.1 479.5,272.1 479.2,272.1 478.8,272.0 478.2,271.9 478.0,271.8 477.5,271.7 477.2,271.5 477.0,271.4 476.7,271.1 476.4,270.9 476.2,270.5 476.2,270.1 476.2,269.7 476.4,269.4 476.7,269.1 477.0,268.9 477.2,268.7 477.5,268.5 478.0,268.4 478.2,268.3 478.8,268.2 479.2,268.1Z" fill="#5ec35e" fill-opacity="0.18" stroke="#3fae3f" stroke-opacity="0.85" stroke-width="0.5"/>
<path d="M478.8,268.6 479.2,268.5 479.8,268.5 480.2,268.5 480.8,268.6 481.0,268.6 481.5,268.7 481.8,268.9 482.2,269.1 482.5,269.3 482.7,269.6 482.8,269.9 482.8,270.4 482.7,270.6 482.5,270.9 482.2,271.1 481.8,271.4 481.5,271.5 481.0,271.6 480.8,271.6 480.2,271.7 479.8,271.7 479.2,271.7 478.8,271.6 478.5,271.5 478.0,271.4 477.8,271.2 477.5,271.0 477.2,270.8 477.0,270.4 476.9,270.1 477.0,269.8 477.2,269.4 477.5,269.2 477.8,269.0 478.0,268.9 478.5,268.7 478.8,268.6Z" fill="#5ec35e" fill-opacity="0.2" stroke="#3fae3f" stroke-opacity="0.85" stroke-width="0.5"/>
<path d="M478.6,269.1 479.0,269.0 479.5,268.9 480.0,268.9 480.5,268.9 481.0,269.0 481.2,269.1 481.7,269.4 481.9,269.6 482.1,269.9 482.1,270.4 481.9,270.6 481.7,270.9 481.2,271.1 481.0,271.2 480.5,271.3 480.0,271.3 479.5,271.3 479.0,271.2 478.6,271.1 478.2,270.9 478.0,270.7 477.8,270.4 477.7,270.1 477.8,269.8 478.0,269.5 478.2,269.3 478.6,269.1Z" fill="#5ec35e" fill-opacity="0.16" stroke="#3fae3f" stroke-opacity="0.85" stroke-width="0.5"/>
<path d="M479.4,269.6 479.5,269.6 479.8,269.5 480.0,269.5 480.2,269.6 480.4,269.6 480.5,269.6 480.8,269.8 480.8,269.9 480.9,270.1 480.8,270.4 480.8,270.4 480.5,270.6 480.4,270.6 480.2,270.6 480.0,270.7 479.8,270.7 479.5,270.6 479.4,270.6 479.2,270.5 479.0,270.4 479.0,270.4 478.9,270.1 479.0,269.9 479.0,269.8 479.2,269.7 479.4,269.6Z" fill="#fff" fill-opacity="0.9" stroke="none"/>
<rect x="462" y="208.6" width="83" height="83" fill="none" stroke="#777" stroke-width="0.8"/>
<rect x="468.6" y="227.6" width="51.3" height="35.5" fill="none" stroke="#505050" stroke-width="0.9"/>
<path d="M462,216.6h-2 M462,236.3h-2 M462,259.1h-2 M462,272.7h-2 M462,285.9h-2 M462,230.37h-1.2 M462,226.9h-1.2 M462,224.44h-1.2 M462,222.53h-1.2 M462,220.97h-1.2 M462,219.65h-1.2 M462,218.51h-1.2 M462,217.5h-1.2 M462,252.24h-1.2 M462,248.22h-1.2 M462,245.37h-1.2 M462,243.16h-1.2 M462,241.36h-1.2 M462,239.83h-1.2 M462,238.51h-1.2 M462,237.34h-1.2 M462,263.57h-1.2 M462,268.03h-1.2 M462,272.5h-1.2 M462,276.97h-1.2 M462,281.43h-1.2 M462,288.9h-1.2 M462.2,291.6v2 M478,291.6v2 M493.8,291.6v2 M509.6,291.6v2 M525.4,291.6v2 M541.2,291.6v2 M465.36,291.6v1.2 M468.52,291.6v1.2 M471.68,291.6v1.2 M474.84,291.6v1.2 M481.16,291.6v1.2 M484.32,291.6v1.2 M487.48,291.6v1.2 M490.64,291.6v1.2 M496.96,291.6v1.2 M500.12,291.6v1.2 M503.28,291.6v1.2 M506.44,291.6v1.2 M512.76,291.6v1.2 M515.92,291.6v1.2 M519.08,291.6v1.2 M522.24,291.6v1.2 M528.56,291.6v1.2 M531.72,291.6v1.2 M534.88,291.6v1.2 M538.04,291.6v1.2" stroke="#555" stroke-width="0.6" fill="none"/>
<rect x="459.8" y="271.1" width="2.1" height="3.3" rx="0.6" fill="#111"/>
<text x="457.4" y="218.5" font-size="5.2" text-anchor="end" fill="#444" stroke="#444" stroke-width="0.02">10<tspan font-size="3.5" dy="-2.1">5</tspan></text>
<text x="457.4" y="238.2" font-size="5.2" text-anchor="end" fill="#444" stroke="#444" stroke-width="0.02">10<tspan font-size="3.5" dy="-2.1">4</tspan></text>
<text x="457.4" y="261" font-size="5.2" text-anchor="end" fill="#444" stroke="#444" stroke-width="0.02">10<tspan font-size="3.5" dy="-2.1">3</tspan></text>
<text x="452.2" y="274.6" font-size="5.2" text-anchor="middle" fill="#444" stroke="#444" stroke-width="0.02">0</text>
<text x="457.4" y="287.8" font-size="5.2" text-anchor="end" fill="#444" stroke="#444" stroke-width="0.02">-10<tspan font-size="3.5" dy="-2.1">3</tspan></text>
<text x="462.2" y="300.6" font-size="5.2" text-anchor="middle" fill="#444" stroke="#444" stroke-width="0.02">0</text>
<text x="478" y="300.6" font-size="5.2" text-anchor="middle" fill="#444" stroke="#444" stroke-width="0.02">50K</text>
<text x="493.8" y="300.6" font-size="5.2" text-anchor="middle" fill="#444" stroke="#444" stroke-width="0.02">100K</text>
<text x="509.6" y="300.6" font-size="5.2" text-anchor="middle" fill="#444" stroke="#444" stroke-width="0.02">150K</text>
<text x="525.4" y="300.6" font-size="5.2" text-anchor="middle" fill="#444" stroke="#444" stroke-width="0.02">200K</text>
<text x="541.2" y="300.6" font-size="5.2" text-anchor="middle" fill="#444" stroke="#444" stroke-width="0.02">250K</text>
<text x="503.8" y="203" font-size="10.7" text-anchor="middle" fill="#0a0a0a" textLength="13.7" lengthAdjust="spacingAndGlyphs" stroke="#0a0a0a" stroke-width="0.12" >NC</text>
<text x="494.2" y="219.5" font-size="7.3" text-anchor="middle" fill="#111" stroke="#111" stroke-width="0.1" >GFP+ 0%</text>
<path d="M17.4,274.4V210.1" stroke="#222" stroke-width="1.1"/>
<path d="M15.4,211.6L17.4,207.1L19.4,211.6Z" fill="#222"/>
<text transform="translate(20.6,292.8) rotate(-90)" font-size="8.3" fill="#1a1a1a" textLength="14.4" lengthAdjust="spacingAndGlyphs" stroke="#1a1a1a" stroke-width="0.1">GFP</text>
<text x="35.4" y="310.5" font-size="8.3" fill="#1a1a1a" textLength="20.3" lengthAdjust="spacingAndGlyphs" stroke="#1a1a1a" stroke-width="0.1">FSC-A</text>
<path d="M61.8,308H542" stroke="#222" stroke-width="1.1"/>
<path d="M541,306L546.5,308L541,310Z" fill="#222"/>
<text x="2.2" y="13.4" font-size="12.8" font-weight="bold" fill="#000" stroke="#000" stroke-width="0.22" >A</text>
<text x="27.1" y="23.8" font-size="10.3" fill="#0a0a0a" textLength="184" lengthAdjust="spacingAndGlyphs" stroke="#0a0a0a" stroke-width="0.1" >pHSC (CD34+, CD38-, CD45RA-, CD90+)</text>
<text x="2.4" y="174.6" font-size="12.3" font-weight="bold" fill="#000" stroke="#000" stroke-width="0.22" >B</text>
<text x="27.3" y="184.9" font-size="10.3" fill="#0a0a0a" textLength="182.3" lengthAdjust="spacingAndGlyphs" stroke="#0a0a0a" stroke-width="0.1" >pMPP (CD34+, CD38-, CD45RA-, CD90-)</text>
<rect x="43.8" y="440.94" width="10" height="24.46" fill="url(#p0)" stroke="#a9cdef" stroke-width="1.3"/>
<rect x="59.6" y="445.59" width="10" height="19.81" fill="url(#p1)" stroke="#4dc14d" stroke-width="1.3"/>
<rect x="75.5" y="393.65" width="10" height="71.75" fill="url(#p2)" stroke="#5656cc" stroke-width="1.3"/>
<rect x="91.4" y="392.1" width="10" height="73.3" fill="url(#p3)" stroke="#4a4a4a" stroke-width="1.3"/>
<path d="M48.8,440.34V434.13M46.8,434.13H50.8" stroke="#a9cdef" stroke-width="0.9" fill="none"/>
<path d="M80.5,393.05V392.01M78.5,392.01H82.5" stroke="#5656cc" stroke-width="0.9" fill="none"/>
<path d="M96.4,391.5V387.88M94.4,387.88H98.4" stroke="#4a4a4a" stroke-width="0.9" fill="none"/>
<circle cx="45.2" cy="440.34" r="1.75" fill="#fff" stroke="#3a3a3a" stroke-width="0.75"/>
<circle cx="45.2" cy="444.34" r="1.75" fill="#fff" stroke="#3a3a3a" stroke-width="0.75"/>
<circle cx="48.8" cy="431.03" r="1.75" fill="#fff" stroke="#3a3a3a" stroke-width="0.75"/>
<circle cx="52.4" cy="437.75" r="1.75" fill="#fff" stroke="#3a3a3a" stroke-width="0.75"/>
<circle cx="52.4" cy="443.57" r="1.75" fill="#fff" stroke="#3a3a3a" stroke-width="0.75"/>
<circle cx="64.6" cy="439.82" r="1.75" fill="#fff" stroke="#3a3a3a" stroke-width="0.75"/>
<circle cx="61" cy="443.57" r="1.75" fill="#fff" stroke="#3a3a3a" stroke-width="0.75"/>
<circle cx="68.2" cy="444.99" r="1.75" fill="#fff" stroke="#3a3a3a" stroke-width="0.75"/>
<circle cx="64.6" cy="446.15" r="1.75" fill="#fff" stroke="#3a3a3a" stroke-width="0.75"/>
<circle cx="64.6" cy="452.61" r="1.75" fill="#fff" stroke="#3a3a3a" stroke-width="0.75"/>
<circle cx="76.9" cy="390.46" r="1.75" fill="#fff" stroke="#3a3a3a" stroke-width="0.75"/>
<circle cx="76.9" cy="396.15" r="1.75" fill="#fff" stroke="#3a3a3a" stroke-width="0.75"/>
<circle cx="79.3" cy="393.82" r="1.75" fill="#fff" stroke="#3a3a3a" stroke-width="0.75"/>
<circle cx="81.7" cy="394.73" r="1.75" fill="#fff" stroke="#3a3a3a" stroke-width="0.75"/>
<circle cx="84.1" cy="394.73" r="1.75" fill="#fff" stroke="#3a3a3a" stroke-width="0.75"/>
<circle cx="92.8" cy="387.75" r="1.75" fill="#fff" stroke="#3a3a3a" stroke-width="0.75"/>
<circle cx="92.8" cy="396.15" r="1.75" fill="#fff" stroke="#3a3a3a" stroke-width="0.75"/>
<circle cx="95.8" cy="389.04" r="1.75" fill="#fff" stroke="#3a3a3a" stroke-width="0.75"/>
<circle cx="100" cy="387.49" r="1.75" fill="#fff" stroke="#3a3a3a" stroke-width="0.75"/>
<circle cx="100" cy="393.82" r="1.75" fill="#fff" stroke="#3a3a3a" stroke-width="0.75"/>
<path d="M38.2,465.4V361.64 M34.7,465.4H106.5 M38.2,465.4h-3.5 M38.2,439.56h-3.5 M38.2,413.72h-3.5 M38.2,387.88h-3.5 M38.2,362.04h-3.5 M38.2,458.94h-2 M38.2,452.48h-2 M38.2,446.02h-2 M38.2,433.1h-2 M38.2,426.64h-2 M38.2,420.18h-2 M38.2,407.26h-2 M38.2,400.8h-2 M38.2,394.34h-2 M38.2,381.42h-2 M38.2,374.96h-2 M38.2,368.5h-2" stroke="#3a3a3a" stroke-width="1" fill="none"/>
<text x="33.5" y="468.17" font-size="7.7" text-anchor="end" fill="#000" stroke="#000" stroke-width="0.2">0</text>
<text x="33.5" y="442.33" font-size="7.7" text-anchor="end" fill="#000" stroke="#000" stroke-width="0.2">20</text>
<text x="33.5" y="416.49" font-size="7.7" text-anchor="end" fill="#000" stroke="#000" stroke-width="0.2">40</text>
<text x="33.5" y="390.65" font-size="7.7" text-anchor="end" fill="#000" stroke="#000" stroke-width="0.2">60</text>
<text x="33.5" y="364.81" font-size="7.7" text-anchor="end" fill="#000" stroke="#000" stroke-width="0.2">80</text>
<text transform="translate(19,414.5) rotate(-90)" font-size="9.0" text-anchor="middle" fill="#000" stroke="#000" stroke-width="0.2">GFP<tspan font-size="5.5" dy="-3">+</tspan><tspan dy="3"> cells (%)</tspan></text>
<text x="2.4" y="341.6" font-size="12" font-weight="bold" fill="#000" stroke="#000" stroke-width="0.22" >C</text>
<text x="72.8" y="350" font-size="8.6" text-anchor="middle" fill="#111" textLength="21.4" lengthAdjust="spacingAndGlyphs" stroke="#111" stroke-width="0.22" >pHSC</text>
<text x="54.1" y="365.9" font-size="9.3" font-weight="bold" letter-spacing="1.35" fill="#000" stroke="#000" stroke-width="0.6" stroke-linejoin="round">****</text>
<path d="M48.4,407.2V367.2H78.3V373.7" stroke="#9a9a9a" stroke-width="0.9" fill="none"/>
<text x="89.6" y="375.7" font-size="7.6" text-anchor="middle" stroke="#222" stroke-width="0.22" >ns</text>
<path d="M82.2,385.5V379.8H96.6V382.4" stroke="#9a9a9a" stroke-width="0.9" fill="none"/>
<text x="56.7" y="413.9" font-size="7.6" text-anchor="middle" stroke="#222" stroke-width="0.22" >ns</text>
<path d="M48.3,423V417.2H64.5V433.9" stroke="#9a9a9a" stroke-width="0.9" fill="none"/>
<text x="73" y="477.5" font-size="8.3" text-anchor="middle" fill="#111" textLength="48.4" lengthAdjust="spacingAndGlyphs" stroke="#111" stroke-width="0.22" >50000 PP/cell</text>
<path d="M43.3,482.6H101.4" stroke="#8a8a8a" stroke-width="1.6"/>
<rect x="166.9" y="455.39" width="10" height="10.01" fill="url(#p0)" stroke="#a9cdef" stroke-width="1.3"/>
<rect x="182.8" y="454.22" width="10" height="11.18" fill="url(#p1)" stroke="#4dc14d" stroke-width="1.3"/>
<rect x="198.8" y="413.46" width="10" height="51.94" fill="url(#p2)" stroke="#5656cc" stroke-width="1.3"/>
<rect x="214.9" y="413.46" width="10" height="51.94" fill="url(#p3)" stroke="#4a4a4a" stroke-width="1.3"/>
<path d="M203.8,412.86V408.72M201.8,408.72H205.8" stroke="#5656cc" stroke-width="0.9" fill="none"/>
<path d="M219.9,412.86V408.72M217.9,408.72H221.9" stroke="#4a4a4a" stroke-width="0.9" fill="none"/>
<circle cx="171.5" cy="449.48" r="1.75" fill="#fff" stroke="#3a3a3a" stroke-width="0.75"/>
<circle cx="168.2" cy="458.15" r="1.75" fill="#fff" stroke="#3a3a3a" stroke-width="0.75"/>
<circle cx="171.8" cy="455.31" r="1.75" fill="#fff" stroke="#3a3a3a" stroke-width="0.75"/>
<circle cx="175.6" cy="452.85" r="1.75" fill="#fff" stroke="#3a3a3a" stroke-width="0.75"/>
<circle cx="175.6" cy="458.15" r="1.75" fill="#fff" stroke="#3a3a3a" stroke-width="0.75"/>
<circle cx="183.8" cy="452.85" r="1.75" fill="#fff" stroke="#3a3a3a" stroke-width="0.75"/>
<circle cx="186.3" cy="453.62" r="1.75" fill="#fff" stroke="#3a3a3a" stroke-width="0.75"/>
<circle cx="188.7" cy="454.14" r="1.75" fill="#fff" stroke="#3a3a3a" stroke-width="0.75"/>
<circle cx="191.5" cy="454.79" r="1.75" fill="#fff" stroke="#3a3a3a" stroke-width="0.75"/>
<circle cx="187.9" cy="458.15" r="1.75" fill="#fff" stroke="#3a3a3a" stroke-width="0.75"/>
<circle cx="203.6" cy="406.26" r="1.75" fill="#fff" stroke="#3a3a3a" stroke-width="0.75"/>
<circle cx="199.8" cy="413.12" r="1.75" fill="#fff" stroke="#3a3a3a" stroke-width="0.75"/>
<circle cx="207.7" cy="413.12" r="1.75" fill="#fff" stroke="#3a3a3a" stroke-width="0.75"/>
<circle cx="207.7" cy="416.1" r="1.75" fill="#fff" stroke="#3a3a3a" stroke-width="0.75"/>
<circle cx="203.9" cy="420.24" r="1.75" fill="#fff" stroke="#3a3a3a" stroke-width="0.75"/>
<circle cx="219.5" cy="405.88" r="1.75" fill="#fff" stroke="#3a3a3a" stroke-width="0.75"/>
<circle cx="216.2" cy="411.7" r="1.75" fill="#fff" stroke="#3a3a3a" stroke-width="0.75"/>
<circle cx="222.5" cy="409.63" r="1.75" fill="#fff" stroke="#3a3a3a" stroke-width="0.75"/>
<circle cx="223" cy="416.1" r="1.75" fill="#fff" stroke="#3a3a3a" stroke-width="0.75"/>
<circle cx="216.2" cy="420.24" r="1.75" fill="#fff" stroke="#3a3a3a" stroke-width="0.75"/>
<path d="M161.3,465.4V361.48 M157.8,465.4H230 M161.3,465.4h-3.5 M161.3,439.52h-3.5 M161.3,413.64h-3.5 M161.3,387.76h-3.5 M161.3,361.88h-3.5 M161.3,458.93h-2 M161.3,452.46h-2 M161.3,445.99h-2 M161.3,433.05h-2 M161.3,426.58h-2 M161.3,420.11h-2 M161.3,407.17h-2 M161.3,400.7h-2 M161.3,394.23h-2 M161.3,381.29h-2 M161.3,374.82h-2 M161.3,368.35h-2" stroke="#3a3a3a" stroke-width="1" fill="none"/>
<text x="156.6" y="468.17" font-size="7.7" text-anchor="end" fill="#000" stroke="#000" stroke-width="0.2">0</text>
<text x="156.6" y="442.29" font-size="7.7" text-anchor="end" fill="#000" stroke="#000" stroke-width="0.2">20</text>
<text x="156.6" y="416.41" font-size="7.7" text-anchor="end" fill="#000" stroke="#000" stroke-width="0.2">40</text>
<text x="156.6" y="390.53" font-size="7.7" text-anchor="end" fill="#000" stroke="#000" stroke-width="0.2">60</text>
<text x="156.6" y="364.65" font-size="7.7" text-anchor="end" fill="#000" stroke="#000" stroke-width="0.2">80</text>
<text transform="translate(143,414.5) rotate(-90)" font-size="9.0" text-anchor="middle" fill="#000" stroke="#000" stroke-width="0.2">GFP<tspan font-size="5.5" dy="-3">+</tspan><tspan dy="3"> cells (%)</tspan></text>
<text x="125" y="341.6" font-size="12" font-weight="bold" fill="#000" stroke="#000" stroke-width="0.22" >D</text>
<text x="195.1" y="349.5" font-size="8.6" text-anchor="middle" fill="#111" textLength="21" lengthAdjust="spacingAndGlyphs" stroke="#111" stroke-width="0.22" >pMPP</text>
<text x="178.3" y="374.6" font-size="9.3" font-weight="bold" letter-spacing="1.35" fill="#000" stroke="#000" stroke-width="0.6" stroke-linejoin="round">****</text>
<path d="M171.5,418.4V375.6H203.9V387.2" stroke="#9a9a9a" stroke-width="0.9" fill="none"/>
<text x="211.8" y="392.5" font-size="7.6" text-anchor="middle" stroke="#222" stroke-width="0.22" >ns</text>
<path d="M203.6,400.3V395.7H219.5V399.5" stroke="#9a9a9a" stroke-width="0.9" fill="none"/>
<text x="180" y="424.6" font-size="7.6" text-anchor="middle" stroke="#222" stroke-width="0.22" >ns</text>
<path d="M171.5,445.5V428.2H187.4V444.7" stroke="#9a9a9a" stroke-width="0.9" fill="none"/>
<text x="196" y="477.5" font-size="8.3" text-anchor="middle" fill="#111" textLength="47.7" lengthAdjust="spacingAndGlyphs" stroke="#111" stroke-width="0.22" >50000 PP/cell</text>
<path d="M166.4,482.6H224.9" stroke="#8a8a8a" stroke-width="1.6"/>
<rect x="290.8" y="371.04" width="9.6" height="94.56" fill="url(#p0)" stroke="#a9cdef" stroke-width="1.3"/>
<rect x="305.8" y="371.43" width="9.6" height="94.17" fill="url(#p1)" stroke="#4dc14d" stroke-width="1.3"/>
<rect x="320.8" y="369.48" width="9.6" height="96.12" fill="url(#p2)" stroke="#5656cc" stroke-width="1.3"/>
<rect x="335.8" y="370.06" width="9.6" height="95.54" fill="url(#p3)" stroke="#4a4a4a" stroke-width="1.3"/>
<circle cx="291.7" cy="368.39" r="1.75" fill="#fff" stroke="#3a3a3a" stroke-width="0.75"/>
<circle cx="291.7" cy="372.1" r="1.75" fill="#fff" stroke="#3a3a3a" stroke-width="0.75"/>
<circle cx="294.4" cy="369.66" r="1.75" fill="#fff" stroke="#3a3a3a" stroke-width="0.75"/>
<circle cx="297.1" cy="371.71" r="1.75" fill="#fff" stroke="#3a3a3a" stroke-width="0.75"/>
<circle cx="299.2" cy="371.71" r="1.75" fill="#fff" stroke="#3a3a3a" stroke-width="0.75"/>
<circle cx="306.7" cy="368.78" r="1.75" fill="#fff" stroke="#3a3a3a" stroke-width="0.75"/>
<circle cx="306.7" cy="372.49" r="1.75" fill="#fff" stroke="#3a3a3a" stroke-width="0.75"/>
<circle cx="309.4" cy="370.05" r="1.75" fill="#fff" stroke="#3a3a3a" stroke-width="0.75"/>
<circle cx="312.1" cy="372.1" r="1.75" fill="#fff" stroke="#3a3a3a" stroke-width="0.75"/>
<circle cx="314.2" cy="371.71" r="1.75" fill="#fff" stroke="#3a3a3a" stroke-width="0.75"/>
<circle cx="322" cy="369.27" r="1.75" fill="#fff" stroke="#3a3a3a" stroke-width="0.75"/>
<circle cx="324.4" cy="368.78" r="1.75" fill="#fff" stroke="#3a3a3a" stroke-width="0.75"/>
<circle cx="326.8" cy="368.78" r="1.75" fill="#fff" stroke="#3a3a3a" stroke-width="0.75"/>
<circle cx="329.2" cy="369.07" r="1.75" fill="#fff" stroke="#3a3a3a" stroke-width="0.75"/>
<circle cx="337" cy="369.56" r="1.75" fill="#fff" stroke="#3a3a3a" stroke-width="0.75"/>
<circle cx="339.4" cy="368.48" r="1.75" fill="#fff" stroke="#3a3a3a" stroke-width="0.75"/>
<circle cx="341.8" cy="369.17" r="1.75" fill="#fff" stroke="#3a3a3a" stroke-width="0.75"/>
<circle cx="344.2" cy="369.56" r="1.75" fill="#fff" stroke="#3a3a3a" stroke-width="0.75"/>
<path d="M285.2,465.6V367.4 M281.7,465.6H346.6 M285.2,465.6h-3.5 M285.2,446.04h-3.5 M285.2,426.48h-3.5 M285.2,406.92h-3.5 M285.2,387.36h-3.5 M285.2,367.8h-3.5 M285.2,460.71h-2 M285.2,455.82h-2 M285.2,450.93h-2 M285.2,441.15h-2 M285.2,436.26h-2 M285.2,431.37h-2 M285.2,421.59h-2 M285.2,416.7h-2 M285.2,411.81h-2 M285.2,402.03h-2 M285.2,397.14h-2 M285.2,392.25h-2 M285.2,382.47h-2 M285.2,377.58h-2 M285.2,372.69h-2" stroke="#3a3a3a" stroke-width="1" fill="none"/>
<text x="280.5" y="468.12" font-size="7.0" text-anchor="end" fill="#000" stroke="#000" stroke-width="0.2">0</text>
<text x="280.5" y="448.56" font-size="7.0" text-anchor="end" fill="#000" stroke="#000" stroke-width="0.2">20</text>
<text x="280.5" y="429" font-size="7.0" text-anchor="end" fill="#000" stroke="#000" stroke-width="0.2">40</text>
<text x="280.5" y="409.44" font-size="7.0" text-anchor="end" fill="#000" stroke="#000" stroke-width="0.2">60</text>
<text x="280.5" y="389.88" font-size="7.0" text-anchor="end" fill="#000" stroke="#000" stroke-width="0.2">80</text>
<text x="280.5" y="370.32" font-size="7.0" text-anchor="end" fill="#000" stroke="#000" stroke-width="0.2">100</text>
<text transform="translate(264.6,417) rotate(-90)" font-size="8.4" text-anchor="middle" fill="#000" stroke="#000" stroke-width="0.2">PI-negative cells (%)</text>
<text x="248" y="341.6" font-size="12" font-weight="bold" fill="#000" stroke="#000" stroke-width="0.22" >E</text>
<text x="318.3" y="346.1" font-size="8.6" text-anchor="middle" fill="#111" textLength="21.4" lengthAdjust="spacingAndGlyphs" stroke="#111" stroke-width="0.22" >pHSC</text>
<text x="309.4" y="359.9" font-size="7.6" text-anchor="middle" stroke="#222" stroke-width="0.22" >ns</text>
<path d="M295,364.6V363.1H323.8V364.6" stroke="#9a9a9a" stroke-width="0.9" fill="none"/>
<text x="334" y="359.9" font-size="7.6" text-anchor="middle" stroke="#222" stroke-width="0.22" >ns</text>
<path d="M327.1,364.6V363.1H340.8V364.6" stroke="#9a9a9a" stroke-width="0.9" fill="none"/>
<text x="318.4" y="477.5" font-size="8.3" text-anchor="middle" fill="#111" textLength="45.2" lengthAdjust="spacingAndGlyphs" stroke="#111" stroke-width="0.22" >50000 PP/cell</text>
<path d="M290.3,482.6H345.5" stroke="#8a8a8a" stroke-width="1.6"/>
<rect x="412" y="369.68" width="9.6" height="96.32" fill="url(#p0)" stroke="#a9cdef" stroke-width="1.3"/>
<rect x="427" y="370.66" width="9.6" height="95.34" fill="url(#p1)" stroke="#4dc14d" stroke-width="1.3"/>
<rect x="442" y="370.36" width="9.6" height="95.64" fill="url(#p2)" stroke="#5656cc" stroke-width="1.3"/>
<rect x="457" y="369.78" width="9.6" height="96.22" fill="url(#p3)" stroke="#4a4a4a" stroke-width="1.3"/>
<path d="M431.8,370.06V368.59M429.8,368.59H433.8" stroke="#4dc14d" stroke-width="0.9" fill="none"/>
<circle cx="413" cy="367.51" r="1.75" fill="#fff" stroke="#3a3a3a" stroke-width="0.75"/>
<circle cx="416.4" cy="367.51" r="1.75" fill="#fff" stroke="#3a3a3a" stroke-width="0.75"/>
<circle cx="420.2" cy="367.51" r="1.75" fill="#fff" stroke="#3a3a3a" stroke-width="0.75"/>
<circle cx="414.3" cy="373.68" r="1.75" fill="#fff" stroke="#3a3a3a" stroke-width="0.75"/>
<circle cx="418.4" cy="373" r="1.75" fill="#fff" stroke="#3a3a3a" stroke-width="0.75"/>
<circle cx="428" cy="367.51" r="1.75" fill="#fff" stroke="#3a3a3a" stroke-width="0.75"/>
<circle cx="435.2" cy="367.51" r="1.75" fill="#fff" stroke="#3a3a3a" stroke-width="0.75"/>
<circle cx="428" cy="370.84" r="1.75" fill="#fff" stroke="#3a3a3a" stroke-width="0.75"/>
<circle cx="435.2" cy="373" r="1.75" fill="#fff" stroke="#3a3a3a" stroke-width="0.75"/>
<circle cx="428" cy="374.66" r="1.75" fill="#fff" stroke="#3a3a3a" stroke-width="0.75"/>
<circle cx="443.9" cy="369.27" r="1.75" fill="#fff" stroke="#3a3a3a" stroke-width="0.75"/>
<circle cx="446.4" cy="368.79" r="1.75" fill="#fff" stroke="#3a3a3a" stroke-width="0.75"/>
<circle cx="448.4" cy="369.67" r="1.75" fill="#fff" stroke="#3a3a3a" stroke-width="0.75"/>
<circle cx="450.5" cy="370.94" r="1.75" fill="#fff" stroke="#3a3a3a" stroke-width="0.75"/>
<circle cx="458.6" cy="369.08" r="1.75" fill="#fff" stroke="#3a3a3a" stroke-width="0.75"/>
<circle cx="461.1" cy="368.39" r="1.75" fill="#fff" stroke="#3a3a3a" stroke-width="0.75"/>
<circle cx="463.8" cy="369.08" r="1.75" fill="#fff" stroke="#3a3a3a" stroke-width="0.75"/>
<circle cx="465.5" cy="370.45" r="1.75" fill="#fff" stroke="#3a3a3a" stroke-width="0.75"/>
<path d="M406,466V367.7 M402.5,466H468.5 M406,466h-3.5 M406,446.42h-3.5 M406,426.84h-3.5 M406,407.26h-3.5 M406,387.68h-3.5 M406,368.1h-3.5 M406,461.11h-2 M406,456.21h-2 M406,451.31h-2 M406,441.52h-2 M406,436.63h-2 M406,431.74h-2 M406,421.94h-2 M406,417.05h-2 M406,412.15h-2 M406,402.37h-2 M406,397.47h-2 M406,392.57h-2 M406,382.78h-2 M406,377.89h-2 M406,373h-2" stroke="#3a3a3a" stroke-width="1" fill="none"/>
<text x="401.3" y="468.52" font-size="7.0" text-anchor="end" fill="#000" stroke="#000" stroke-width="0.2">0</text>
<text x="401.3" y="448.94" font-size="7.0" text-anchor="end" fill="#000" stroke="#000" stroke-width="0.2">20</text>
<text x="401.3" y="429.36" font-size="7.0" text-anchor="end" fill="#000" stroke="#000" stroke-width="0.2">40</text>
<text x="401.3" y="409.78" font-size="7.0" text-anchor="end" fill="#000" stroke="#000" stroke-width="0.2">60</text>
<text x="401.3" y="390.2" font-size="7.0" text-anchor="end" fill="#000" stroke="#000" stroke-width="0.2">80</text>
<text x="401.3" y="370.62" font-size="7.0" text-anchor="end" fill="#000" stroke="#000" stroke-width="0.2">100</text>
<text transform="translate(385.6,417) rotate(-90)" font-size="8.4" text-anchor="middle" fill="#000" stroke="#000" stroke-width="0.2">PI-negative cells (%)</text>
<text x="368.3" y="341.6" font-size="12" font-weight="bold" fill="#000" stroke="#000" stroke-width="0.22" >F</text>
<text x="439.6" y="344.6" font-size="8.6" text-anchor="middle" fill="#111" textLength="21" lengthAdjust="spacingAndGlyphs" stroke="#111" stroke-width="0.22" >pMPP</text>
<text x="430.7" y="356.8" font-size="7.6" text-anchor="middle" stroke="#222" stroke-width="0.22" >ns</text>
<path d="M416.4,361.5V360H445V361.5" stroke="#9a9a9a" stroke-width="0.9" fill="none"/>
<text x="455.2" y="356.8" font-size="7.6" text-anchor="middle" stroke="#222" stroke-width="0.22" >ns</text>
<path d="M448.4,361.5V360H462V361.5" stroke="#9a9a9a" stroke-width="0.9" fill="none"/>
<text x="439.7" y="477.5" font-size="8.3" text-anchor="middle" fill="#111" textLength="46.4" lengthAdjust="spacingAndGlyphs" stroke="#111" stroke-width="0.22" >50000 PP/cell</text>
<path d="M411.4,482.6H467" stroke="#8a8a8a" stroke-width="1.6"/>
<rect x="482.4" y="374.7" width="9.8" height="5.2" fill="url(#p0)" stroke="#a9cdef" stroke-width="1.1"/>
<text x="498.9" y="380.6" font-size="9.2" fill="#111" stroke="#111" stroke-width="0.25" >V-LV</text>
<rect x="482.4" y="387.7" width="9.8" height="5.2" fill="url(#p1)" stroke="#4dc14d" stroke-width="1.1"/>
<text x="498.9" y="393.6" font-size="9.2" fill="#111" stroke="#111" stroke-width="0.25" >V/F-LV</text>
<rect x="482.4" y="400.7" width="9.8" height="5.2" fill="url(#p2)" stroke="#5656cc" stroke-width="1.1"/>
<text x="498.9" y="406.6" font-size="9.2" fill="#111" stroke="#111" stroke-width="0.25" >V/HN-LV</text>
<rect x="482.4" y="413.7" width="9.8" height="5.2" fill="url(#p3)" stroke="#4a4a4a" stroke-width="1.1"/>
<text x="498.9" y="419.6" font-size="9.2" fill="#111" stroke="#111" stroke-width="0.25" >V/F/HN-LV</text>
</svg>
</body></html>
